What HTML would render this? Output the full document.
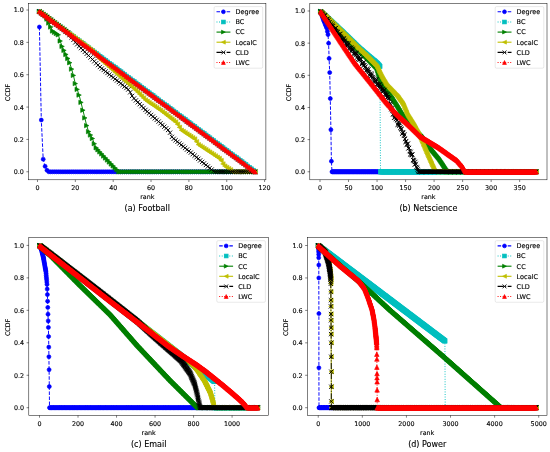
<!DOCTYPE html>
<html><head><meta charset="utf-8"><title>CCDF</title>
<style>
html,body{margin:0;padding:0;background:#fff;}
svg{display:block;}
text{font-family:"DejaVu Sans","Liberation Sans",sans-serif;fill:#000;stroke:#000;stroke-width:0.12px;}
.tk{font-size:6.37px;}
.lb{font-size:6.37px;}
.tt{font-size:8.0px;}
.lg{font-size:6.5px;}
</style></head><body>
<svg width="550" height="452" viewBox="0 0 550 452">
<rect width="550" height="452" fill="#fff"/>
<defs><marker id="mDegree" markerUnits="userSpaceOnUse" markerWidth="8" markerHeight="8" refX="0" refY="0" viewBox="-4 -4 8 8" orient="0" overflow="visible"><circle r="2.00" fill="#0000ff" stroke="#0000ff" stroke-width="0.64"/></marker><marker id="mBC" markerUnits="userSpaceOnUse" markerWidth="8" markerHeight="8" refX="0" refY="0" viewBox="-4 -4 8 8" orient="0" overflow="visible"><rect x="-2.15" y="-2.15" width="4.3" height="4.3" fill="#00bfbf" stroke="#00bfbf" stroke-width="0.64"/></marker><marker id="mCC" markerUnits="userSpaceOnUse" markerWidth="8" markerHeight="8" refX="0" refY="0" viewBox="-4 -4 8 8" orient="0" overflow="visible"><path d="M2.20,0L-2.20,-2.20L-2.20,2.20Z" fill="#008000" stroke="#008000" stroke-width="0.64" stroke-linejoin="miter"/></marker><marker id="mLocalC" markerUnits="userSpaceOnUse" markerWidth="8" markerHeight="8" refX="0" refY="0" viewBox="-4 -4 8 8" orient="0" overflow="visible"><path d="M-2.20,0L2.20,-2.20L2.20,2.20Z" fill="#bfbf00" stroke="#bfbf00" stroke-width="0.64" stroke-linejoin="miter"/></marker><marker id="mCLD" markerUnits="userSpaceOnUse" markerWidth="8" markerHeight="8" refX="0" refY="0" viewBox="-4 -4 8 8" orient="0" overflow="visible"><path d="M-2.15,-2.15L2.15,2.15M-2.15,2.15L2.15,-2.15" fill="none" stroke="#000000" stroke-width="0.9"/></marker><marker id="mLWC" markerUnits="userSpaceOnUse" markerWidth="8" markerHeight="8" refX="0" refY="0" viewBox="-4 -4 8 8" orient="0" overflow="visible"><path d="M0,-2.25L-2.25,2.25L2.25,2.25Z" fill="#ff0000" stroke="#ff0000" stroke-width="0.64" stroke-linejoin="miter"/></marker><marker id="lDegree" markerUnits="userSpaceOnUse" markerWidth="8" markerHeight="8" refX="0" refY="0" viewBox="-4 -4 8 8" orient="0" overflow="visible"><circle r="1.93" fill="#0000ff" stroke="#0000ff" stroke-width="0.64"/></marker><marker id="lBC" markerUnits="userSpaceOnUse" markerWidth="8" markerHeight="8" refX="0" refY="0" viewBox="-4 -4 8 8" orient="0" overflow="visible"><rect x="-1.93" y="-1.93" width="3.85" height="3.85" fill="#00bfbf" stroke="#00bfbf" stroke-width="0.64"/></marker><marker id="lCC" markerUnits="userSpaceOnUse" markerWidth="8" markerHeight="8" refX="0" refY="0" viewBox="-4 -4 8 8" orient="0" overflow="visible"><path d="M1.93,0L-1.93,-1.93L-1.93,1.93Z" fill="#008000" stroke="#008000" stroke-width="0.64" stroke-linejoin="miter"/></marker><marker id="lLocalC" markerUnits="userSpaceOnUse" markerWidth="8" markerHeight="8" refX="0" refY="0" viewBox="-4 -4 8 8" orient="0" overflow="visible"><path d="M-1.93,0L1.93,-1.93L1.93,1.93Z" fill="#bfbf00" stroke="#bfbf00" stroke-width="0.64" stroke-linejoin="miter"/></marker><marker id="lCLD" markerUnits="userSpaceOnUse" markerWidth="8" markerHeight="8" refX="0" refY="0" viewBox="-4 -4 8 8" orient="0" overflow="visible"><path d="M-1.93,-1.93L1.93,1.93M-1.93,1.93L1.93,-1.93" fill="none" stroke="#000000" stroke-width="0.9"/></marker><marker id="lLWC" markerUnits="userSpaceOnUse" markerWidth="8" markerHeight="8" refX="0" refY="0" viewBox="-4 -4 8 8" orient="0" overflow="visible"><path d="M0,-1.93L-1.93,1.93L1.93,1.93Z" fill="#ff0000" stroke="#ff0000" stroke-width="0.64" stroke-linejoin="miter"/></marker></defs>
<filter id="soft" filterUnits="userSpaceOnUse" x="0" y="0" width="550" height="452"><feGaussianBlur stdDeviation="0.32"/></filter>
<g filter="url(#soft)">
<rect width="550" height="452" fill="#fff"/>
<clipPath id="c28_3"><rect x="28.6" y="3.4" width="237.29999999999998" height="176.4"/></clipPath>
<g clip-path="url(#c28_3)">
<polyline points="39.4,27.0 41.3,120.0 43.2,159.2 45.1,166.3 47.0,170.3 48.8,171.8 50.7,171.8 52.6,171.8 54.5,171.8 56.4,171.8 58.3,171.8 60.2,171.8 62.1,171.8 64.0,171.8 65.9,171.8 67.8,171.8 69.7,171.8 71.6,171.8 73.4,171.8 75.3,171.8 77.2,171.8 79.1,171.8 81.0,171.8 82.9,171.8 84.8,171.8 86.7,171.8 88.6,171.8 90.5,171.8 92.4,171.8 94.3,171.8 96.2,171.8 98.0,171.8 99.9,171.8 101.8,171.8 103.7,171.8 105.6,171.8 107.5,171.8 109.4,171.8 111.3,171.8 113.2,171.8 115.1,171.8 117.0,171.8 118.9,171.8 120.8,171.8 122.6,171.8 124.5,171.8 126.4,171.8 128.3,171.8 130.2,171.8 132.1,171.8 134.0,171.8 135.9,171.8 137.8,171.8 139.7,171.8 141.6,171.8 143.5,171.8 145.4,171.8 147.2,171.8 149.1,171.8 151.0,171.8 152.9,171.8 154.8,171.8 156.7,171.8 158.6,171.8 160.5,171.8 162.4,171.8 164.3,171.8 166.2,171.8 168.1,171.8 170.0,171.8 171.9,171.8 173.7,171.8 175.6,171.8 177.5,171.8 179.4,171.8 181.3,171.8 183.2,171.8 185.1,171.8 187.0,171.8 188.9,171.8 190.8,171.8 192.7,171.8 194.6,171.8 196.5,171.8 198.3,171.8 200.2,171.8 202.1,171.8 204.0,171.8 205.9,171.8 207.8,171.8 209.7,171.8 211.6,171.8 213.5,171.8 215.4,171.8 217.3,171.8 219.2,171.8 221.1,171.8 222.9,171.8 224.8,171.8 226.7,171.8 228.6,171.8 230.5,171.8 232.4,171.8 234.3,171.8 236.2,171.8 238.1,171.8 240.0,171.8 241.9,171.8 243.8,171.8 245.7,171.8 247.5,171.8 249.4,171.8 251.3,171.8 253.2,171.8 255.1,171.8" fill="none" stroke="#0000ff" stroke-width="0.955" stroke-dasharray="3.53 1.53" stroke-linejoin="round" marker-start="url(#mDegree)" marker-mid="url(#mDegree)" marker-end="url(#mDegree)"/>
<polyline points="39.4,11.5 41.3,12.9 43.2,14.3 45.1,15.7 47.0,17.1 48.8,18.5 50.7,19.9 52.6,21.3 54.5,22.7 56.4,24.1 58.3,25.5 60.2,26.9 62.1,28.3 64.0,29.7 65.9,31.2 67.8,32.6 69.7,34.0 71.6,35.4 73.4,36.8 75.3,38.2 77.2,39.6 79.1,41.0 81.0,42.4 82.9,43.8 84.8,45.2 86.7,46.6 88.6,48.0 90.5,49.4 92.4,50.8 94.3,52.2 96.2,53.7 98.0,55.1 99.9,56.5 101.8,57.9 103.7,59.3 105.6,60.7 107.5,62.1 109.4,63.5 111.3,64.9 113.2,66.3 115.1,67.7 117.0,69.1 118.9,70.5 120.8,71.9 122.6,73.3 124.5,74.7 126.4,76.2 128.3,77.6 130.2,79.0 132.1,80.4 134.0,81.8 135.9,83.2 137.8,84.6 139.7,86.0 141.6,87.4 143.5,88.8 145.4,90.2 147.2,91.6 149.1,93.0 151.0,94.4 152.9,95.8 154.8,97.2 156.7,98.7 158.6,100.1 160.5,101.5 162.4,102.9 164.3,104.3 166.2,105.7 168.1,107.1 170.0,108.5 171.9,109.9 173.7,111.3 175.6,112.7 177.5,114.1 179.4,115.5 181.3,116.9 183.2,118.3 185.1,119.7 187.0,121.2 188.9,122.6 190.8,124.0 192.7,125.4 194.6,126.8 196.5,128.2 198.3,129.6 200.2,131.0 202.1,132.4 204.0,133.8 205.9,135.2 207.8,136.6 209.7,138.0 211.6,139.4 213.5,140.8 215.4,142.3 217.3,143.7 219.2,145.1 221.1,146.5 222.9,147.9 224.8,149.3 226.7,150.7 228.6,152.1 230.5,153.5 232.4,154.9 234.3,156.3 236.2,157.7 238.1,159.1 240.0,160.5 241.9,161.9 243.8,163.3 245.7,164.8 247.5,166.2 249.4,167.6 251.3,169.0 253.2,170.4 255.1,171.8" fill="none" stroke="#00bfbf" stroke-width="0.955" stroke-dasharray="0.955 1.576" stroke-linejoin="round" marker-start="url(#mBC)" marker-mid="url(#mBC)" marker-end="url(#mBC)"/>
<polyline points="39.4,11.5 41.3,12.9 43.2,14.3 45.1,15.7 47.0,19.1 48.8,23.0 50.7,27.0 52.6,31.0 54.5,32.3 56.4,33.5 58.3,34.8 60.2,41.0 62.1,46.4 64.0,50.4 65.9,54.5 67.8,58.5 69.7,62.7 71.6,69.1 73.4,75.4 75.3,83.6 77.2,89.4 79.1,95.1 81.0,102.4 82.9,110.2 84.8,117.9 86.7,125.6 88.6,131.6 90.5,135.0 92.4,138.5 94.3,143.7 96.2,147.8 98.0,149.8 99.9,151.9 101.8,153.9 103.7,156.0 105.6,158.0 107.5,160.0 109.4,162.0 111.3,164.0 113.2,165.9 115.1,167.9 117.0,169.8 118.9,171.8 120.8,171.8 122.6,171.8 124.5,171.8 126.4,171.8 128.3,171.8 130.2,171.8 132.1,171.8 134.0,171.8 135.9,171.8 137.8,171.8 139.7,171.8 141.6,171.8 143.5,171.8 145.4,171.8 147.2,171.8 149.1,171.8 151.0,171.8 152.9,171.8 154.8,171.8 156.7,171.8 158.6,171.8 160.5,171.8 162.4,171.8 164.3,171.8 166.2,171.8 168.1,171.8 170.0,171.8 171.9,171.8 173.7,171.8 175.6,171.8 177.5,171.8 179.4,171.8 181.3,171.8 183.2,171.8 185.1,171.8 187.0,171.8 188.9,171.8 190.8,171.8 192.7,171.8 194.6,171.8 196.5,171.8 198.3,171.8 200.2,171.8 202.1,171.8 204.0,171.8 205.9,171.8 207.8,171.8 209.7,171.8 211.6,171.8 213.5,171.8 215.4,171.8 217.3,171.8 219.2,171.8 221.1,171.8 222.9,171.8 224.8,171.8 226.7,171.8 228.6,171.8 230.5,171.8 232.4,171.8 234.3,171.8 236.2,171.8 238.1,171.8 240.0,171.8 241.9,171.8 243.8,171.8 245.7,171.8 247.5,171.8 249.4,171.8 251.3,171.8 253.2,171.8 255.1,171.8" fill="none" stroke="#008000" stroke-width="0.955" stroke-linejoin="round" marker-start="url(#mCC)" marker-mid="url(#mCC)" marker-end="url(#mCC)"/>
<polyline points="39.4,11.5 41.3,12.9 43.2,14.3 45.1,15.7 47.0,17.1 48.8,18.5 50.7,19.9 52.6,21.3 54.5,22.7 56.4,24.2 58.3,25.6 60.2,27.0 62.1,28.4 64.0,29.8 65.9,31.2 67.8,32.6 69.7,34.0 71.6,35.4 73.4,36.8 75.3,38.3 77.2,39.7 79.1,41.1 81.0,42.5 82.9,43.9 84.8,45.3 86.7,46.7 88.6,48.1 90.5,49.5 92.4,50.9 94.3,52.9 96.2,54.9 98.0,56.9 99.9,58.9 101.8,60.5 103.7,62.2 105.6,63.9 107.5,65.6 109.4,67.2 111.3,68.9 113.2,70.6 115.1,72.2 117.0,73.9 118.9,75.5 120.8,77.2 122.6,78.8 124.5,80.5 126.4,82.1 128.3,83.8 130.2,85.4 132.1,87.1 134.0,88.7 135.9,90.4 137.8,92.2 139.7,94.2 141.6,96.1 143.5,98.0 145.4,99.9 147.2,101.3 149.1,102.6 151.0,103.9 152.9,105.1 154.8,106.4 156.7,107.7 158.6,109.0 160.5,110.3 162.4,111.8 164.3,113.3 166.2,114.7 168.1,116.2 170.0,117.7 171.9,119.1 173.7,120.6 175.6,122.0 177.5,124.3 179.4,127.3 181.3,130.2 183.2,131.4 185.1,132.7 187.0,134.0 188.9,135.2 190.8,136.5 192.7,137.8 194.6,139.0 196.5,141.7 198.3,144.6 200.2,145.9 202.1,147.1 204.0,148.4 205.9,149.6 207.8,150.9 209.7,152.1 211.6,153.4 213.5,154.6 215.4,155.9 217.3,157.2 219.2,158.4 221.1,160.5 222.9,163.9 224.8,166.1 226.7,167.4 228.6,168.6 230.5,169.8 232.4,171.8 234.3,171.8 236.2,171.8 238.1,171.8 240.0,171.8 241.9,171.8 243.8,171.8 245.7,171.8 247.5,171.8 249.4,171.8 251.3,171.8 253.2,171.8 255.1,171.8" fill="none" stroke="#bfbf00" stroke-width="0.955" stroke-linejoin="round" marker-start="url(#mLocalC)" marker-mid="url(#mLocalC)" marker-end="url(#mLocalC)"/>
<polyline points="39.4,11.5 41.3,12.9 43.2,14.3 45.1,15.7 47.0,17.1 48.8,18.5 50.7,19.9 52.6,21.4 54.5,22.8 56.4,24.2 58.3,25.6 60.2,27.0 62.1,28.4 64.0,29.8 65.9,31.2 67.8,32.7 69.7,35.1 71.6,37.5 73.4,39.9 75.3,42.4 77.2,44.3 79.1,46.2 81.0,48.1 82.9,50.0 84.8,51.9 86.7,53.8 88.6,55.6 90.5,57.5 92.4,59.4 94.3,61.3 96.2,63.2 98.0,65.1 99.9,67.0 101.8,68.5 103.7,70.0 105.6,71.5 107.5,73.0 109.4,74.5 111.3,76.0 113.2,77.5 115.1,79.0 117.0,80.5 118.9,82.0 120.8,83.5 122.6,85.0 124.5,86.5 126.4,88.0 128.3,89.5 130.2,92.3 132.1,95.9 134.0,98.5 135.9,100.4 137.8,102.3 139.7,104.2 141.6,106.1 143.5,108.0 145.4,109.9 147.2,111.6 149.1,113.2 151.0,114.9 152.9,116.6 154.8,118.3 156.7,119.9 158.6,121.6 160.5,123.3 162.4,125.0 164.3,126.7 166.2,128.3 168.1,130.0 170.0,132.7 171.9,136.9 173.7,138.8 175.6,140.3 177.5,141.8 179.4,143.4 181.3,144.9 183.2,146.5 185.1,148.0 187.0,149.6 188.9,151.1 190.8,152.6 192.7,154.2 194.6,155.7 196.5,157.3 198.3,158.8 200.2,160.4 202.1,161.9 204.0,163.4 205.9,165.0 207.8,166.5 209.7,168.1 211.6,169.6 213.5,171.2 215.4,171.8 217.3,171.8 219.2,171.8 221.1,171.8 222.9,171.8 224.8,171.8 226.7,171.8 228.6,171.8 230.5,171.8 232.4,171.8 234.3,171.8 236.2,171.8 238.1,171.8 240.0,171.8 241.9,171.8 243.8,171.8 245.7,171.8 247.5,171.8 249.4,171.8 251.3,171.8 253.2,171.8 255.1,171.8" fill="none" stroke="#000000" stroke-width="0.955" stroke-dasharray="6.11 1.53 0.955 1.53" stroke-linejoin="round" marker-start="url(#mCLD)" marker-mid="url(#mCLD)" marker-end="url(#mCLD)"/>
<polyline points="39.4,11.5 41.3,12.9 43.2,14.3 45.1,15.7 47.0,17.1 48.8,18.5 50.7,19.9 52.6,21.3 54.5,22.7 56.4,24.1 58.3,25.5 60.2,26.9 62.1,28.3 64.0,29.7 65.9,31.2 67.8,32.6 69.7,34.0 71.6,35.4 73.4,36.8 75.3,38.2 77.2,39.6 79.1,41.0 81.0,42.4 82.9,43.8 84.8,45.2 86.7,46.6 88.6,48.0 90.5,49.4 92.4,50.8 94.3,52.2 96.2,53.7 98.0,55.1 99.9,56.5 101.8,57.9 103.7,59.3 105.6,60.7 107.5,62.1 109.4,63.5 111.3,64.9 113.2,66.3 115.1,67.7 117.0,69.1 118.9,70.5 120.8,71.9 122.6,73.3 124.5,74.7 126.4,76.2 128.3,77.6 130.2,79.0 132.1,80.4 134.0,81.8 135.9,83.2 137.8,84.6 139.7,86.0 141.6,87.4 143.5,88.8 145.4,90.2 147.2,91.6 149.1,93.0 151.0,94.4 152.9,95.8 154.8,97.2 156.7,98.7 158.6,100.1 160.5,101.5 162.4,102.9 164.3,104.3 166.2,105.7 168.1,107.1 170.0,108.5 171.9,109.9 173.7,111.3 175.6,112.7 177.5,114.1 179.4,115.5 181.3,116.9 183.2,118.3 185.1,119.7 187.0,121.2 188.9,122.6 190.8,124.0 192.7,125.4 194.6,126.8 196.5,128.2 198.3,129.6 200.2,131.0 202.1,132.4 204.0,133.8 205.9,135.2 207.8,136.6 209.7,138.0 211.6,139.4 213.5,140.8 215.4,142.3 217.3,143.7 219.2,145.1 221.1,146.5 222.9,147.9 224.8,149.3 226.7,150.7 228.6,152.1 230.5,153.5 232.4,154.9 234.3,156.3 236.2,157.7 238.1,159.1 240.0,160.5 241.9,161.9 243.8,163.3 245.7,164.8 247.5,166.2 249.4,167.6 251.3,169.0 253.2,170.4 255.1,171.8" fill="none" stroke="#ff0000" stroke-width="0.955" stroke-dasharray="0.955 1.576" stroke-linejoin="round" marker-start="url(#mLWC)" marker-mid="url(#mLWC)" marker-end="url(#mLWC)"/>
</g>
<rect x="28.6" y="3.4" width="237.29999999999998" height="176.4" fill="none" stroke="#000" stroke-width="0.5"/>
<path d="M37.49,179.8v2.23" stroke="#000" stroke-width="0.5"/>
<text x="37.49" y="189.93" text-anchor="middle" class="tk">0</text>
<path d="M75.34,179.8v2.23" stroke="#000" stroke-width="0.5"/>
<text x="75.34" y="189.93" text-anchor="middle" class="tk">20</text>
<path d="M113.19,179.8v2.23" stroke="#000" stroke-width="0.5"/>
<text x="113.19" y="189.93" text-anchor="middle" class="tk">40</text>
<path d="M151.03,179.8v2.23" stroke="#000" stroke-width="0.5"/>
<text x="151.03" y="189.93" text-anchor="middle" class="tk">60</text>
<path d="M188.88,179.8v2.23" stroke="#000" stroke-width="0.5"/>
<text x="188.88" y="189.93" text-anchor="middle" class="tk">80</text>
<path d="M226.73,179.8v2.23" stroke="#000" stroke-width="0.5"/>
<text x="226.73" y="189.93" text-anchor="middle" class="tk">100</text>
<path d="M264.58,179.8v2.23" stroke="#000" stroke-width="0.5"/>
<text x="264.58" y="189.93" text-anchor="middle" class="tk">120</text>
<path d="M28.6,171.78h-2.23" stroke="#000" stroke-width="0.5"/>
<text x="23.87" y="174.23" text-anchor="end" class="tk">0.0</text>
<path d="M28.6,139.43h-2.23" stroke="#000" stroke-width="0.5"/>
<text x="23.87" y="141.88" text-anchor="end" class="tk">0.2</text>
<path d="M28.6,107.07h-2.23" stroke="#000" stroke-width="0.5"/>
<text x="23.87" y="109.52" text-anchor="end" class="tk">0.4</text>
<path d="M28.6,74.72h-2.23" stroke="#000" stroke-width="0.5"/>
<text x="23.87" y="77.17" text-anchor="end" class="tk">0.6</text>
<path d="M28.6,42.37h-2.23" stroke="#000" stroke-width="0.5"/>
<text x="23.87" y="44.82" text-anchor="end" class="tk">0.8</text>
<path d="M28.6,10.01h-2.23" stroke="#000" stroke-width="0.5"/>
<text x="23.87" y="12.46" text-anchor="end" class="tk">1.0</text>
<text x="147.25" y="198.90" text-anchor="middle" class="lb">rank</text>
<text transform="translate(9.50,92.50) rotate(-90)" text-anchor="middle" class="lb">CCDF</text>
<text x="147.25" y="210.90" text-anchor="middle" class="tt">(a) Football</text>
<rect x="214.1" y="6.6" width="48.599999999999994" height="61.6" rx="1.3" fill="#fff" fill-opacity="0.8" stroke="#ccc" stroke-opacity="0.8" stroke-width="0.55"/>
<polyline points="216.5,11.8 223.4,11.8 230.4,11.8" fill="none" stroke="#0000ff" stroke-width="1.1" stroke-dasharray="3.53 1.53" marker-mid="url(#lDegree)"/>
<text x="235.5" y="14.1" class="lg">Degree</text>
<polyline points="216.5,22.0 223.4,22.0 230.4,22.0" fill="none" stroke="#00bfbf" stroke-width="1.1" stroke-dasharray="0.955 1.576" marker-mid="url(#lBC)"/>
<text x="235.5" y="24.3" class="lg">BC</text>
<polyline points="216.5,32.1 223.4,32.1 230.4,32.1" fill="none" stroke="#008000" stroke-width="1.1" marker-mid="url(#lCC)"/>
<text x="235.5" y="34.4" class="lg">CC</text>
<polyline points="216.5,42.2 223.4,42.2 230.4,42.2" fill="none" stroke="#bfbf00" stroke-width="1.1" marker-mid="url(#lLocalC)"/>
<text x="235.5" y="44.5" class="lg">LocalC</text>
<polyline points="216.5,52.4 223.4,52.4 230.4,52.4" fill="none" stroke="#000000" stroke-width="1.1" stroke-dasharray="6.11 1.53 0.955 1.53" marker-mid="url(#lCLD)"/>
<text x="235.5" y="54.7" class="lg">CLD</text>
<polyline points="216.5,62.5 223.4,62.5 230.4,62.5" fill="none" stroke="#ff0000" stroke-width="1.1" stroke-dasharray="0.955 1.576" marker-mid="url(#lLWC)"/>
<text x="235.5" y="64.8" class="lg">LWC</text>
<clipPath id="c309_3"><rect x="309.8" y="3.4" width="237.2" height="176.4"/></clipPath>
<g clip-path="url(#c309_3)">
<polyline points="320.6,11.5 321.2,13.1 321.7,14.8 322.3,16.5 322.9,18.2 323.4,19.8 324.0,21.2 324.6,22.6 325.1,24.0 325.7,25.4 326.3,26.8 326.9,28.2 327.4,31.4 328.0,34.6 328.6,43.2 329.1,58.4 329.7,72.6 330.3,98.6 330.9,129.7 331.4,161.2 332.0,171.8 332.6,171.8 333.1,171.8 333.7,171.8 334.3,171.8 334.8,171.8 335.4,171.8 336.0,171.8 336.6,171.8 337.1,171.8 337.7,171.8 338.3,171.8 338.8,171.8 339.4,171.8 340.0,171.8 340.5,171.8 341.1,171.8 341.7,171.8 342.3,171.8 342.8,171.8 343.4,171.8 344.0,171.8 344.5,171.8 345.1,171.8 345.7,171.8 346.3,171.8 346.8,171.8 347.4,171.8 348.0,171.8 348.5,171.8 349.1,171.8 349.7,171.8 350.2,171.8 350.8,171.8 351.4,171.8 352.0,171.8 352.5,171.8 353.1,171.8 353.7,171.8 354.2,171.8 354.8,171.8 355.4,171.8 356.0,171.8 356.5,171.8 357.1,171.8 357.7,171.8 358.2,171.8 358.8,171.8 359.4,171.8 359.9,171.8 360.5,171.8 361.1,171.8 361.7,171.8 362.2,171.8 362.8,171.8 363.4,171.8 363.9,171.8 364.5,171.8 365.1,171.8 365.6,171.8 366.2,171.8 366.8,171.8 367.4,171.8 367.9,171.8 368.5,171.8 369.1,171.8 369.6,171.8 370.2,171.8 370.8,171.8 371.4,171.8 371.9,171.8 372.5,171.8 373.1,171.8 373.6,171.8 374.2,171.8 374.8,171.8 375.3,171.8 375.9,171.8 376.5,171.8 377.1,171.8 377.6,171.8 378.2,171.8 378.8,171.8 379.3,171.8 379.9,171.8 380.5,171.8 381.1,171.8 381.6,171.8 382.2,171.8 382.8,171.8 383.3,171.8 383.9,171.8 384.5,171.8 385.0,171.8 385.6,171.8 386.2,171.8 386.8,171.8 387.3,171.8 387.9,171.8 388.5,171.8 389.0,171.8 389.6,171.8 390.2,171.8 390.7,171.8 391.3,171.8 391.9,171.8 392.5,171.8 393.0,171.8 393.6,171.8 394.2,171.8 394.7,171.8 395.3,171.8 395.9,171.8 396.5,171.8 397.0,171.8 397.6,171.8 398.2,171.8 398.7,171.8 399.3,171.8 399.9,171.8 400.4,171.8 401.0,171.8 401.6,171.8 402.2,171.8 402.7,171.8 403.3,171.8 403.9,171.8 404.4,171.8 405.0,171.8 405.6,171.8 406.2,171.8 406.7,171.8 407.3,171.8 407.9,171.8 408.4,171.8 409.0,171.8 409.6,171.8 410.1,171.8 410.7,171.8 411.3,171.8 411.9,171.8 412.4,171.8 413.0,171.8 413.6,171.8 414.1,171.8 414.7,171.8 415.3,171.8 415.8,171.8 416.4,171.8 417.0,171.8 417.6,171.8 418.1,171.8 418.7,171.8 419.3,171.8 419.8,171.8 420.4,171.8 421.0,171.8 421.6,171.8 422.1,171.8 422.7,171.8 423.3,171.8 423.8,171.8 424.4,171.8 425.0,171.8 425.5,171.8 426.1,171.8 426.7,171.8 427.3,171.8 427.8,171.8 428.4,171.8 429.0,171.8 429.5,171.8 430.1,171.8 430.7,171.8 431.3,171.8 431.8,171.8 432.4,171.8 433.0,171.8 433.5,171.8 434.1,171.8 434.7,171.8 435.2,171.8 435.8,171.8 436.4,171.8 437.0,171.8 437.5,171.8 438.1,171.8 438.7,171.8 439.2,171.8 439.8,171.8 440.4,171.8 441.0,171.8 441.5,171.8 442.1,171.8 442.7,171.8 443.2,171.8 443.8,171.8 444.4,171.8 444.9,171.8 445.5,171.8 446.1,171.8 446.7,171.8 447.2,171.8 447.8,171.8 448.4,171.8 448.9,171.8 449.5,171.8 450.1,171.8 450.6,171.8 451.2,171.8 451.8,171.8 452.4,171.8 452.9,171.8 453.5,171.8 454.1,171.8 454.6,171.8 455.2,171.8 455.8,171.8 456.4,171.8 456.9,171.8 457.5,171.8 458.1,171.8 458.6,171.8 459.2,171.8 459.8,171.8 460.3,171.8 460.9,171.8 461.5,171.8 462.1,171.8 462.6,171.8 463.2,171.8 463.8,171.8 464.3,171.8 464.9,171.8 465.5,171.8 466.1,171.8 466.6,171.8 467.2,171.8 467.8,171.8 468.3,171.8 468.9,171.8 469.5,171.8 470.0,171.8 470.6,171.8 471.2,171.8 471.8,171.8 472.3,171.8 472.9,171.8 473.5,171.8 474.0,171.8 474.6,171.8 475.2,171.8 475.7,171.8 476.3,171.8 476.9,171.8 477.5,171.8 478.0,171.8 478.6,171.8 479.2,171.8 479.7,171.8 480.3,171.8 480.9,171.8 481.5,171.8 482.0,171.8 482.6,171.8 483.2,171.8 483.7,171.8 484.3,171.8 484.9,171.8 485.4,171.8 486.0,171.8 486.6,171.8 487.2,171.8 487.7,171.8 488.3,171.8 488.9,171.8 489.4,171.8 490.0,171.8 490.6,171.8 491.2,171.8 491.7,171.8 492.3,171.8 492.9,171.8 493.4,171.8 494.0,171.8 494.6,171.8 495.1,171.8 495.7,171.8 496.3,171.8 496.9,171.8 497.4,171.8 498.0,171.8 498.6,171.8 499.1,171.8 499.7,171.8 500.3,171.8 500.8,171.8 501.4,171.8 502.0,171.8 502.6,171.8 503.1,171.8 503.7,171.8 504.3,171.8 504.8,171.8 505.4,171.8 506.0,171.8 506.6,171.8 507.1,171.8 507.7,171.8 508.3,171.8 508.8,171.8 509.4,171.8 510.0,171.8 510.5,171.8 511.1,171.8 511.7,171.8 512.3,171.8 512.8,171.8 513.4,171.8 514.0,171.8 514.5,171.8 515.1,171.8 515.7,171.8 516.3,171.8 516.8,171.8 517.4,171.8 518.0,171.8 518.5,171.8 519.1,171.8 519.7,171.8 520.2,171.8 520.8,171.8 521.4,171.8 522.0,171.8 522.5,171.8 523.1,171.8 523.7,171.8 524.2,171.8 524.8,171.8 525.4,171.8 525.9,171.8 526.5,171.8 527.1,171.8 527.7,171.8 528.2,171.8 528.8,171.8 529.4,171.8 529.9,171.8 530.5,171.8 531.1,171.8 531.7,171.8 532.2,171.8 532.8,171.8 533.4,171.8 533.9,171.8 534.5,171.8 535.1,171.8 535.6,171.8 536.2,171.8" fill="none" stroke="#0000ff" stroke-width="0.955" stroke-dasharray="3.53 1.53" stroke-linejoin="round" marker-start="url(#mDegree)" marker-mid="url(#mDegree)" marker-end="url(#mDegree)"/>
<polyline points="320.6,11.5 321.2,12.0 321.7,12.5 322.3,13.1 322.9,13.6 323.4,14.1 324.0,14.7 324.6,15.2 325.1,15.7 325.7,16.3 326.3,16.8 326.9,17.3 327.4,17.9 328.0,18.4 328.6,18.9 329.1,19.4 329.7,20.0 330.3,20.5 330.9,21.0 331.4,21.6 332.0,22.1 332.6,22.6 333.1,23.2 333.7,23.7 334.3,24.2 334.8,24.8 335.4,25.3 336.0,25.8 336.6,26.4 337.1,26.9 337.7,27.4 338.3,28.0 338.8,28.5 339.4,29.0 340.0,29.5 340.5,30.1 341.1,30.6 341.7,31.2 342.3,31.7 342.8,32.3 343.4,32.8 344.0,33.4 344.5,33.9 345.1,34.5 345.7,35.0 346.3,35.6 346.8,36.1 347.4,36.7 348.0,37.2 348.5,37.8 349.1,38.3 349.7,38.9 350.2,39.4 350.8,40.0 351.4,40.6 352.0,41.1 352.5,41.7 353.1,42.2 353.7,42.8 354.2,43.3 354.8,43.9 355.4,44.4 356.0,45.0 356.5,45.5 357.1,46.1 357.7,46.6 358.2,47.2 358.8,47.7 359.4,48.3 359.9,48.8 360.5,49.3 361.1,49.8 361.7,50.2 362.2,50.7 362.8,51.2 363.4,51.7 363.9,52.2 364.5,52.6 365.1,53.1 365.6,53.6 366.2,54.1 366.8,54.6 367.4,55.1 367.9,55.5 368.5,56.0 369.1,56.5 369.6,57.0 370.2,57.5 370.8,58.0 371.4,58.4 371.9,58.9 372.5,59.4 373.1,59.9 373.6,60.4 374.2,60.8 374.8,61.3 375.3,61.8 375.9,62.3 376.5,62.8 377.1,63.3 377.6,63.7 378.2,64.4 378.8,65.1 379.3,65.8 379.9,66.5 380.5,171.8 381.1,171.8 381.6,171.8 382.2,171.8 382.8,171.8 383.3,171.8 383.9,171.8 384.5,171.8 385.0,171.8 385.6,171.8 386.2,171.8 386.8,171.8 387.3,171.8 387.9,171.8 388.5,171.8 389.0,171.8 389.6,171.8 390.2,171.8 390.7,171.8 391.3,171.8 391.9,171.8 392.5,171.8 393.0,171.8 393.6,171.8 394.2,171.8 394.7,171.8 395.3,171.8 395.9,171.8 396.5,171.8 397.0,171.8 397.6,171.8 398.2,171.8 398.7,171.8 399.3,171.8 399.9,171.8 400.4,171.8 401.0,171.8 401.6,171.8 402.2,171.8 402.7,171.8 403.3,171.8 403.9,171.8 404.4,171.8 405.0,171.8 405.6,171.8 406.2,171.8 406.7,171.8 407.3,171.8 407.9,171.8 408.4,171.8 409.0,171.8 409.6,171.8 410.1,171.8 410.7,171.8 411.3,171.8 411.9,171.8 412.4,171.8 413.0,171.8 413.6,171.8 414.1,171.8 414.7,171.8 415.3,171.8 415.8,171.8 416.4,171.8 417.0,171.8 417.6,171.8 418.1,171.8 418.7,171.8 419.3,171.8 419.8,171.8 420.4,171.8 421.0,171.8 421.6,171.8 422.1,171.8 422.7,171.8 423.3,171.8 423.8,171.8 424.4,171.8 425.0,171.8 425.5,171.8 426.1,171.8 426.7,171.8 427.3,171.8 427.8,171.8 428.4,171.8 429.0,171.8 429.5,171.8 430.1,171.8 430.7,171.8 431.3,171.8 431.8,171.8 432.4,171.8 433.0,171.8 433.5,171.8 434.1,171.8 434.7,171.8 435.2,171.8 435.8,171.8 436.4,171.8 437.0,171.8 437.5,171.8 438.1,171.8 438.7,171.8 439.2,171.8 439.8,171.8 440.4,171.8 441.0,171.8 441.5,171.8 442.1,171.8 442.7,171.8 443.2,171.8 443.8,171.8 444.4,171.8 444.9,171.8 445.5,171.8 446.1,171.8 446.7,171.8 447.2,171.8 447.8,171.8 448.4,171.8 448.9,171.8 449.5,171.8 450.1,171.8 450.6,171.8 451.2,171.8 451.8,171.8 452.4,171.8 452.9,171.8 453.5,171.8 454.1,171.8 454.6,171.8 455.2,171.8 455.8,171.8 456.4,171.8 456.9,171.8 457.5,171.8 458.1,171.8 458.6,171.8 459.2,171.8 459.8,171.8 460.3,171.8 460.9,171.8 461.5,171.8 462.1,171.8 462.6,171.8 463.2,171.8 463.8,171.8 464.3,171.8 464.9,171.8 465.5,171.8 466.1,171.8 466.6,171.8 467.2,171.8 467.8,171.8 468.3,171.8 468.9,171.8 469.5,171.8 470.0,171.8 470.6,171.8 471.2,171.8 471.8,171.8 472.3,171.8 472.9,171.8 473.5,171.8 474.0,171.8 474.6,171.8 475.2,171.8 475.7,171.8 476.3,171.8 476.9,171.8 477.5,171.8 478.0,171.8 478.6,171.8 479.2,171.8 479.7,171.8 480.3,171.8 480.9,171.8 481.5,171.8 482.0,171.8 482.6,171.8 483.2,171.8 483.7,171.8 484.3,171.8 484.9,171.8 485.4,171.8 486.0,171.8 486.6,171.8 487.2,171.8 487.7,171.8 488.3,171.8 488.9,171.8 489.4,171.8 490.0,171.8 490.6,171.8 491.2,171.8 491.7,171.8 492.3,171.8 492.9,171.8 493.4,171.8 494.0,171.8 494.6,171.8 495.1,171.8 495.7,171.8 496.3,171.8 496.9,171.8 497.4,171.8 498.0,171.8 498.6,171.8 499.1,171.8 499.7,171.8 500.3,171.8 500.8,171.8 501.4,171.8 502.0,171.8 502.6,171.8 503.1,171.8 503.7,171.8 504.3,171.8 504.8,171.8 505.4,171.8 506.0,171.8 506.6,171.8 507.1,171.8 507.7,171.8 508.3,171.8 508.8,171.8 509.4,171.8 510.0,171.8 510.5,171.8 511.1,171.8 511.7,171.8 512.3,171.8 512.8,171.8 513.4,171.8 514.0,171.8 514.5,171.8 515.1,171.8 515.7,171.8 516.3,171.8 516.8,171.8 517.4,171.8 518.0,171.8 518.5,171.8 519.1,171.8 519.7,171.8 520.2,171.8 520.8,171.8 521.4,171.8 522.0,171.8 522.5,171.8 523.1,171.8 523.7,171.8 524.2,171.8 524.8,171.8 525.4,171.8 525.9,171.8 526.5,171.8 527.1,171.8 527.7,171.8 528.2,171.8 528.8,171.8 529.4,171.8 529.9,171.8 530.5,171.8 531.1,171.8 531.7,171.8 532.2,171.8 532.8,171.8 533.4,171.8 533.9,171.8 534.5,171.8 535.1,171.8 535.6,171.8 536.2,171.8" fill="none" stroke="#00bfbf" stroke-width="0.955" stroke-dasharray="0.955 1.576" stroke-linejoin="round" marker-start="url(#mBC)" marker-mid="url(#mBC)" marker-end="url(#mBC)"/>
<polyline points="320.6,11.5 321.2,12.1 321.7,12.6 322.3,13.2 322.9,13.8 323.4,14.4 324.0,15.0 324.6,15.5 325.1,16.1 325.7,16.7 326.3,17.3 326.9,17.9 327.4,18.4 328.0,19.0 328.6,19.6 329.1,20.2 329.7,20.8 330.3,21.3 330.9,21.9 331.4,22.5 332.0,23.1 332.6,23.7 333.1,24.2 333.7,24.8 334.3,25.4 334.8,26.0 335.4,26.6 336.0,27.1 336.6,27.7 337.1,28.3 337.7,28.9 338.3,29.5 338.8,30.0 339.4,30.6 340.0,31.2 340.5,31.8 341.1,32.4 341.7,32.9 342.3,33.5 342.8,34.1 343.4,34.6 344.0,35.2 344.5,35.8 345.1,36.3 345.7,36.9 346.3,37.5 346.8,38.0 347.4,38.6 348.0,39.2 348.5,39.7 349.1,40.3 349.7,40.9 350.2,41.4 350.8,42.0 351.4,42.6 352.0,43.2 352.5,43.7 353.1,44.3 353.7,44.9 354.2,45.4 354.8,46.0 355.4,46.6 356.0,47.1 356.5,47.7 357.1,48.3 357.7,48.8 358.2,49.4 358.8,50.0 359.4,50.5 359.9,51.1 360.5,51.6 361.1,52.1 361.7,52.6 362.2,53.1 362.8,53.6 363.4,54.1 363.9,54.6 364.5,55.2 365.1,55.7 365.6,56.2 366.2,56.8 366.8,57.3 367.4,57.9 367.9,58.5 368.5,59.1 369.1,59.7 369.6,60.3 370.2,60.9 370.8,61.4 371.4,62.0 371.9,62.6 372.5,63.2 373.1,63.8 373.6,64.4 374.2,65.0 374.8,65.5 375.3,66.1 375.9,66.7 376.5,67.3 377.1,68.5 377.6,70.4 378.2,72.2 378.8,74.0 379.3,75.9 379.9,77.7 380.5,79.6 381.1,81.4 381.6,82.2 382.2,83.0 382.8,83.8 383.3,84.6 383.9,85.4 384.5,86.2 385.0,87.0 385.6,87.9 386.2,88.7 386.8,89.5 387.3,90.3 387.9,91.1 388.5,91.9 389.0,92.7 389.6,93.5 390.2,94.3 390.7,95.1 391.3,95.9 391.9,96.7 392.5,97.6 393.0,98.5 393.6,99.4 394.2,100.3 394.7,101.2 395.3,102.1 395.9,103.0 396.5,103.9 397.0,104.8 397.6,105.7 398.2,106.6 398.7,107.6 399.3,108.5 399.9,109.4 400.4,110.4 401.0,111.3 401.6,112.3 402.2,113.2 402.7,114.1 403.3,115.0 403.9,115.8 404.4,116.6 405.0,117.4 405.6,118.2 406.2,119.0 406.7,119.8 407.3,120.7 407.9,121.5 408.4,122.3 409.0,122.9 409.6,123.4 410.1,124.0 410.7,124.6 411.3,125.1 411.9,125.7 412.4,126.3 413.0,126.8 413.6,127.4 414.1,128.0 414.7,128.5 415.3,129.1 415.8,129.7 416.4,130.3 417.0,130.8 417.6,131.4 418.1,132.0 418.7,132.5 419.3,133.1 419.8,133.7 420.4,134.2 421.0,134.8 421.6,135.5 422.1,136.3 422.7,137.1 423.3,137.9 423.8,138.7 424.4,139.5 425.0,140.3 425.5,141.1 426.1,141.9 426.7,142.7 427.3,143.5 427.8,144.3 428.4,145.1 429.0,145.9 429.5,146.7 430.1,147.5 430.7,148.2 431.3,148.9 431.8,149.6 432.4,150.3 433.0,151.0 433.5,151.7 434.1,152.4 434.7,153.1 435.2,153.8 435.8,154.4 436.4,155.1 437.0,155.8 437.5,156.5 438.1,157.2 438.7,157.9 439.2,158.6 439.8,159.5 440.4,160.3 441.0,161.2 441.5,162.0 442.1,162.9 442.7,163.8 443.2,164.6 443.8,165.5 444.4,166.3 444.9,167.2 445.5,168.1 446.1,168.9 446.7,170.1 447.2,171.8 447.8,171.8 448.4,171.8 448.9,171.8 449.5,171.8 450.1,171.8 450.6,171.8 451.2,171.8 451.8,171.8 452.4,171.8 452.9,171.8 453.5,171.8 454.1,171.8 454.6,171.8 455.2,171.8 455.8,171.8 456.4,171.8 456.9,171.8 457.5,171.8 458.1,171.8 458.6,171.8 459.2,171.8 459.8,171.8 460.3,171.8 460.9,171.8 461.5,171.8 462.1,171.8 462.6,171.8 463.2,171.8 463.8,171.8 464.3,171.8 464.9,171.8 465.5,171.8 466.1,171.8 466.6,171.8 467.2,171.8 467.8,171.8 468.3,171.8 468.9,171.8 469.5,171.8 470.0,171.8 470.6,171.8 471.2,171.8 471.8,171.8 472.3,171.8 472.9,171.8 473.5,171.8 474.0,171.8 474.6,171.8 475.2,171.8 475.7,171.8 476.3,171.8 476.9,171.8 477.5,171.8 478.0,171.8 478.6,171.8 479.2,171.8 479.7,171.8 480.3,171.8 480.9,171.8 481.5,171.8 482.0,171.8 482.6,171.8 483.2,171.8 483.7,171.8 484.3,171.8 484.9,171.8 485.4,171.8 486.0,171.8 486.6,171.8 487.2,171.8 487.7,171.8 488.3,171.8 488.9,171.8 489.4,171.8 490.0,171.8 490.6,171.8 491.2,171.8 491.7,171.8 492.3,171.8 492.9,171.8 493.4,171.8 494.0,171.8 494.6,171.8 495.1,171.8 495.7,171.8 496.3,171.8 496.9,171.8 497.4,171.8 498.0,171.8 498.6,171.8 499.1,171.8 499.7,171.8 500.3,171.8 500.8,171.8 501.4,171.8 502.0,171.8 502.6,171.8 503.1,171.8 503.7,171.8 504.3,171.8 504.8,171.8 505.4,171.8 506.0,171.8 506.6,171.8 507.1,171.8 507.7,171.8 508.3,171.8 508.8,171.8 509.4,171.8 510.0,171.8 510.5,171.8 511.1,171.8 511.7,171.8 512.3,171.8 512.8,171.8 513.4,171.8 514.0,171.8 514.5,171.8 515.1,171.8 515.7,171.8 516.3,171.8 516.8,171.8 517.4,171.8 518.0,171.8 518.5,171.8 519.1,171.8 519.7,171.8 520.2,171.8 520.8,171.8 521.4,171.8 522.0,171.8 522.5,171.8 523.1,171.8 523.7,171.8 524.2,171.8 524.8,171.8 525.4,171.8 525.9,171.8 526.5,171.8 527.1,171.8 527.7,171.8 528.2,171.8 528.8,171.8 529.4,171.8 529.9,171.8 530.5,171.8 531.1,171.8 531.7,171.8 532.2,171.8 532.8,171.8 533.4,171.8 533.9,171.8 534.5,171.8 535.1,171.8 535.6,171.8 536.2,171.8" fill="none" stroke="#008000" stroke-width="0.955" stroke-linejoin="round" marker-start="url(#mCC)" marker-mid="url(#mCC)" marker-end="url(#mCC)"/>
<polyline points="320.6,11.5 321.2,12.0 321.7,12.6 322.3,13.2 322.9,13.7 323.4,14.3 324.0,14.9 324.6,15.4 325.1,16.0 325.7,16.5 326.3,17.1 326.9,17.7 327.4,18.2 328.0,18.8 328.6,19.3 329.1,19.9 329.7,20.5 330.3,21.0 330.9,21.6 331.4,22.2 332.0,22.7 332.6,23.3 333.1,23.8 333.7,24.4 334.3,25.0 334.8,25.5 335.4,26.1 336.0,26.7 336.6,27.2 337.1,27.8 337.7,28.3 338.3,28.9 338.8,29.5 339.4,30.0 340.0,30.6 340.5,31.2 341.1,31.7 341.7,32.3 342.3,32.9 342.8,33.4 343.4,34.0 344.0,34.6 344.5,35.1 345.1,35.7 345.7,36.3 346.3,36.8 346.8,37.4 347.4,38.0 348.0,38.5 348.5,39.1 349.1,39.7 349.7,40.2 350.2,40.8 350.8,41.4 351.4,41.9 352.0,42.5 352.5,43.1 353.1,43.6 353.7,44.2 354.2,44.8 354.8,45.4 355.4,45.9 356.0,46.5 356.5,47.1 357.1,47.6 357.7,48.2 358.2,48.8 358.8,49.3 359.4,49.9 359.9,50.4 360.5,50.9 361.1,51.4 361.7,51.9 362.2,52.4 362.8,53.0 363.4,53.5 363.9,54.0 364.5,54.5 365.1,55.0 365.6,55.5 366.2,56.0 366.8,56.6 367.4,57.2 367.9,57.8 368.5,58.3 369.1,58.9 369.6,59.5 370.2,60.0 370.8,60.6 371.4,61.2 371.9,61.8 372.5,62.3 373.1,62.9 373.6,63.5 374.2,64.1 374.8,64.6 375.3,65.2 375.9,65.8 376.5,66.3 377.1,67.3 377.6,68.5 378.2,69.8 378.8,71.1 379.3,72.3 379.9,73.6 380.5,74.8 381.1,76.1 381.6,77.1 382.2,78.1 382.8,79.1 383.3,80.1 383.9,81.1 384.5,82.0 385.0,83.0 385.6,84.0 386.2,85.0 386.8,85.8 387.3,86.4 387.9,87.0 388.5,87.6 389.0,88.2 389.6,88.8 390.2,89.4 390.7,90.0 391.3,90.5 391.9,91.1 392.5,91.7 393.0,92.3 393.6,92.9 394.2,93.5 394.7,94.1 395.3,94.7 395.9,95.3 396.5,95.8 397.0,96.4 397.6,97.0 398.2,97.8 398.7,98.6 399.3,99.4 399.9,100.2 400.4,101.0 401.0,101.8 401.6,102.6 402.2,103.4 402.7,104.3 403.3,105.3 403.9,106.7 404.4,108.1 405.0,109.5 405.6,110.9 406.2,112.3 406.7,113.7 407.3,115.1 407.9,116.1 408.4,117.1 409.0,118.0 409.6,118.9 410.1,119.8 410.7,120.7 411.3,121.6 411.9,122.5 412.4,123.4 413.0,124.3 413.6,125.2 414.1,126.2 414.7,127.2 415.3,128.3 415.8,129.3 416.4,130.4 417.0,131.4 417.6,132.5 418.1,133.5 418.7,134.6 419.3,135.6 419.8,137.0 420.4,138.3 421.0,139.7 421.6,141.1 422.1,142.5 422.7,143.8 423.3,145.2 423.8,146.6 424.4,147.9 425.0,149.3 425.5,150.7 426.1,152.0 426.7,153.4 427.3,154.7 427.8,156.0 428.4,157.3 429.0,158.6 429.5,159.8 430.1,161.1 430.7,162.4 431.3,163.7 431.8,165.0 432.4,166.3 433.0,167.6 433.5,168.9 434.1,170.3 434.7,171.8 435.2,171.8 435.8,171.8 436.4,171.8 437.0,171.8 437.5,171.8 438.1,171.8 438.7,171.8 439.2,171.8 439.8,171.8 440.4,171.8 441.0,171.8 441.5,171.8 442.1,171.8 442.7,171.8 443.2,171.8 443.8,171.8 444.4,171.8 444.9,171.8 445.5,171.8 446.1,171.8 446.7,171.8 447.2,171.8 447.8,171.8 448.4,171.8 448.9,171.8 449.5,171.8 450.1,171.8 450.6,171.8 451.2,171.8 451.8,171.8 452.4,171.8 452.9,171.8 453.5,171.8 454.1,171.8 454.6,171.8 455.2,171.8 455.8,171.8 456.4,171.8 456.9,171.8 457.5,171.8 458.1,171.8 458.6,171.8 459.2,171.8 459.8,171.8 460.3,171.8 460.9,171.8 461.5,171.8 462.1,171.8 462.6,171.8 463.2,171.8 463.8,171.8 464.3,171.8 464.9,171.8 465.5,171.8 466.1,171.8 466.6,171.8 467.2,171.8 467.8,171.8 468.3,171.8 468.9,171.8 469.5,171.8 470.0,171.8 470.6,171.8 471.2,171.8 471.8,171.8 472.3,171.8 472.9,171.8 473.5,171.8 474.0,171.8 474.6,171.8 475.2,171.8 475.7,171.8 476.3,171.8 476.9,171.8 477.5,171.8 478.0,171.8 478.6,171.8 479.2,171.8 479.7,171.8 480.3,171.8 480.9,171.8 481.5,171.8 482.0,171.8 482.6,171.8 483.2,171.8 483.7,171.8 484.3,171.8 484.9,171.8 485.4,171.8 486.0,171.8 486.6,171.8 487.2,171.8 487.7,171.8 488.3,171.8 488.9,171.8 489.4,171.8 490.0,171.8 490.6,171.8 491.2,171.8 491.7,171.8 492.3,171.8 492.9,171.8 493.4,171.8 494.0,171.8 494.6,171.8 495.1,171.8 495.7,171.8 496.3,171.8 496.9,171.8 497.4,171.8 498.0,171.8 498.6,171.8 499.1,171.8 499.7,171.8 500.3,171.8 500.8,171.8 501.4,171.8 502.0,171.8 502.6,171.8 503.1,171.8 503.7,171.8 504.3,171.8 504.8,171.8 505.4,171.8 506.0,171.8 506.6,171.8 507.1,171.8 507.7,171.8 508.3,171.8 508.8,171.8 509.4,171.8 510.0,171.8 510.5,171.8 511.1,171.8 511.7,171.8 512.3,171.8 512.8,171.8 513.4,171.8 514.0,171.8 514.5,171.8 515.1,171.8 515.7,171.8 516.3,171.8 516.8,171.8 517.4,171.8 518.0,171.8 518.5,171.8 519.1,171.8 519.7,171.8 520.2,171.8 520.8,171.8 521.4,171.8 522.0,171.8 522.5,171.8 523.1,171.8 523.7,171.8 524.2,171.8 524.8,171.8 525.4,171.8 525.9,171.8 526.5,171.8 527.1,171.8 527.7,171.8 528.2,171.8 528.8,171.8 529.4,171.8 529.9,171.8 530.5,171.8 531.1,171.8 531.7,171.8 532.2,171.8 532.8,171.8 533.4,171.8 533.9,171.8 534.5,171.8 535.1,171.8 535.6,171.8 536.2,171.8" fill="none" stroke="#bfbf00" stroke-width="0.955" stroke-linejoin="round" marker-start="url(#mLocalC)" marker-mid="url(#mLocalC)" marker-end="url(#mLocalC)"/>
<polyline points="320.6,11.5 321.2,12.2 321.7,12.9 322.3,13.6 322.9,14.4 323.4,15.1 324.0,15.8 324.6,16.5 325.1,15.1 325.7,20.1 326.3,19.7 326.9,19.2 327.4,21.7 328.0,18.5 328.6,20.2 329.1,23.3 329.7,22.0 330.3,25.9 330.9,25.8 331.4,23.3 332.0,26.4 332.6,24.8 333.1,26.1 333.7,30.5 334.3,28.6 334.8,30.5 335.4,31.1 336.0,28.0 336.6,31.6 337.1,32.2 337.7,32.3 338.3,36.8 338.8,34.5 339.4,34.4 340.0,36.4 340.5,33.8 341.1,37.4 341.7,39.6 342.3,38.1 342.8,41.5 343.4,39.6 344.0,38.2 344.5,41.9 345.1,40.5 345.7,43.1 346.3,46.1 346.8,43.1 347.4,45.1 348.0,44.8 348.5,43.1 349.1,47.9 349.7,47.7 350.2,48.2 350.8,51.2 351.4,47.7 352.0,48.8 352.5,50.8 353.1,49.3 353.7,53.8 354.2,54.4 354.8,52.6 355.4,55.4 356.0,52.8 356.5,53.4 357.1,57.5 357.7,56.0 358.2,58.9 358.8,59.9 359.4,56.6 359.9,59.4 360.5,59.0 361.1,59.3 361.7,64.3 362.2,62.9 362.8,63.6 363.4,65.4 363.9,62.2 364.5,65.3 365.1,67.3 365.6,66.6 366.2,71.0 366.8,69.7 367.4,68.4 367.9,71.4 368.5,69.4 369.1,72.1 369.6,75.6 370.2,73.7 370.8,76.5 371.4,76.0 371.9,73.7 372.5,77.7 373.1,77.3 373.6,78.6 374.2,82.4 374.8,79.4 375.3,80.4 375.9,81.5 376.5,79.4 377.1,83.9 377.6,84.9 378.2,84.1 378.8,87.4 379.3,84.6 379.9,84.6 380.5,87.8 381.1,86.3 381.6,89.9 382.2,91.7 382.8,88.9 383.3,91.6 383.9,90.3 384.5,89.8 385.0,94.6 385.6,93.6 386.2,95.2 386.8,97.4 387.3,94.3 387.9,97.1 388.5,98.7 389.0,98.4 389.6,103.9 390.2,103.6 390.7,104.9 391.3,109.3 391.9,108.3 392.5,111.0 393.0,114.6 393.6,113.6 394.2,117.7 394.7,117.7 395.3,115.5 395.9,119.1 396.5,118.2 397.0,120.0 397.6,124.7 398.2,122.9 398.7,124.9 399.3,125.9 399.9,123.4 400.4,127.6 401.0,128.8 401.6,129.2 402.2,133.9 402.7,132.2 403.3,132.8 403.9,135.9 404.4,134.4 405.0,139.0 405.6,142.0 406.2,141.1 406.7,145.0 407.3,144.0 407.9,143.6 408.4,148.4 409.0,148.0 409.6,151.1 410.1,154.4 410.7,151.8 411.3,154.5 411.9,155.1 412.4,154.4 413.0,160.0 413.6,160.4 414.1,161.3 414.7,164.7 415.3,161.9 415.8,163.9 416.4,167.0 417.0,167.9 417.6,169.3 418.1,170.7 418.7,171.8 419.3,171.8 419.8,171.8 420.4,171.8 421.0,171.8 421.6,171.8 422.1,171.8 422.7,171.8 423.3,171.8 423.8,171.8 424.4,171.8 425.0,171.8 425.5,171.8 426.1,171.8 426.7,171.8 427.3,171.8 427.8,171.8 428.4,171.8 429.0,171.8 429.5,171.8 430.1,171.8 430.7,171.8 431.3,171.8 431.8,171.8 432.4,171.8 433.0,171.8 433.5,171.8 434.1,171.8 434.7,171.8 435.2,171.8 435.8,171.8 436.4,171.8 437.0,171.8 437.5,171.8 438.1,171.8 438.7,171.8 439.2,171.8 439.8,171.8 440.4,171.8 441.0,171.8 441.5,171.8 442.1,171.8 442.7,171.8 443.2,171.8 443.8,171.8 444.4,171.8 444.9,171.8 445.5,171.8 446.1,171.8 446.7,171.8 447.2,171.8 447.8,171.8 448.4,171.8 448.9,171.8 449.5,171.8 450.1,171.8 450.6,171.8 451.2,171.8 451.8,171.8 452.4,171.8 452.9,171.8 453.5,171.8 454.1,171.8 454.6,171.8 455.2,171.8 455.8,171.8 456.4,171.8 456.9,171.8 457.5,171.8 458.1,171.8 458.6,171.8 459.2,171.8 459.8,171.8 460.3,171.8 460.9,171.8 461.5,171.8 462.1,171.8 462.6,171.8 463.2,171.8 463.8,171.8 464.3,171.8 464.9,171.8 465.5,171.8 466.1,171.8 466.6,171.8 467.2,171.8 467.8,171.8 468.3,171.8 468.9,171.8 469.5,171.8 470.0,171.8 470.6,171.8 471.2,171.8 471.8,171.8 472.3,171.8 472.9,171.8 473.5,171.8 474.0,171.8 474.6,171.8 475.2,171.8 475.7,171.8 476.3,171.8 476.9,171.8 477.5,171.8 478.0,171.8 478.6,171.8 479.2,171.8 479.7,171.8 480.3,171.8 480.9,171.8 481.5,171.8 482.0,171.8 482.6,171.8 483.2,171.8 483.7,171.8 484.3,171.8 484.9,171.8 485.4,171.8 486.0,171.8 486.6,171.8 487.2,171.8 487.7,171.8 488.3,171.8 488.9,171.8 489.4,171.8 490.0,171.8 490.6,171.8 491.2,171.8 491.7,171.8 492.3,171.8 492.9,171.8 493.4,171.8 494.0,171.8 494.6,171.8 495.1,171.8 495.7,171.8 496.3,171.8 496.9,171.8 497.4,171.8 498.0,171.8 498.6,171.8 499.1,171.8 499.7,171.8 500.3,171.8 500.8,171.8 501.4,171.8 502.0,171.8 502.6,171.8 503.1,171.8 503.7,171.8 504.3,171.8 504.8,171.8 505.4,171.8 506.0,171.8 506.6,171.8 507.1,171.8 507.7,171.8 508.3,171.8 508.8,171.8 509.4,171.8 510.0,171.8 510.5,171.8 511.1,171.8 511.7,171.8 512.3,171.8 512.8,171.8 513.4,171.8 514.0,171.8 514.5,171.8 515.1,171.8 515.7,171.8 516.3,171.8 516.8,171.8 517.4,171.8 518.0,171.8 518.5,171.8 519.1,171.8 519.7,171.8 520.2,171.8 520.8,171.8 521.4,171.8 522.0,171.8 522.5,171.8 523.1,171.8 523.7,171.8 524.2,171.8 524.8,171.8 525.4,171.8 525.9,171.8 526.5,171.8 527.1,171.8 527.7,171.8 528.2,171.8 528.8,171.8 529.4,171.8 529.9,171.8 530.5,171.8 531.1,171.8 531.7,171.8 532.2,171.8 532.8,171.8 533.4,171.8 533.9,171.8 534.5,171.8 535.1,171.8 535.6,171.8 536.2,171.8" fill="none" stroke="#000000" stroke-width="0.955" stroke-dasharray="6.11 1.53 0.955 1.53" stroke-linejoin="round" marker-start="url(#mCLD)" marker-mid="url(#mCLD)" marker-end="url(#mCLD)"/>
<polyline points="320.6,11.5 321.2,12.3 321.7,13.1 322.3,14.0 322.9,14.8 323.4,15.6 324.0,16.4 324.6,17.3 325.1,18.1 325.7,18.9 326.3,19.8 326.9,20.6 327.4,21.4 328.0,22.2 328.6,23.1 329.1,24.0 329.7,24.8 330.3,25.7 330.9,26.6 331.4,27.4 332.0,28.3 332.6,29.2 333.1,30.0 333.7,30.9 334.3,31.8 334.8,32.6 335.4,33.5 336.0,34.4 336.6,35.2 337.1,36.1 337.7,37.0 338.3,37.8 338.8,38.7 339.4,39.6 340.0,40.4 340.5,41.3 341.1,42.2 341.7,43.0 342.3,43.9 342.8,44.8 343.4,45.6 344.0,46.5 344.5,47.4 345.1,48.2 345.7,49.1 346.3,49.9 346.8,50.8 347.4,51.6 348.0,52.5 348.5,53.3 349.1,54.2 349.7,55.0 350.2,55.8 350.8,56.7 351.4,57.5 352.0,58.4 352.5,59.2 353.1,60.1 353.7,60.9 354.2,61.7 354.8,62.6 355.4,63.4 356.0,64.1 356.5,64.8 357.1,65.5 357.7,66.2 358.2,66.9 358.8,67.6 359.4,68.3 359.9,69.0 360.5,69.7 361.1,70.4 361.7,71.1 362.2,71.8 362.8,72.5 363.4,73.2 363.9,73.9 364.5,74.6 365.1,75.3 365.6,76.1 366.2,76.8 366.8,77.5 367.4,78.2 367.9,78.9 368.5,79.6 369.1,80.3 369.6,81.0 370.2,81.7 370.8,82.4 371.4,83.2 371.9,83.9 372.5,84.6 373.1,85.3 373.6,86.1 374.2,86.8 374.8,87.5 375.3,88.2 375.9,88.9 376.5,89.7 377.1,90.4 377.6,91.1 378.2,91.8 378.8,92.6 379.3,93.3 379.9,94.0 380.5,94.7 381.1,95.5 381.6,96.2 382.2,96.9 382.8,97.6 383.3,98.4 383.9,99.1 384.5,99.8 385.0,100.5 385.6,101.3 386.2,102.0 386.8,102.7 387.3,103.3 387.9,103.9 388.5,104.6 389.0,105.2 389.6,105.8 390.2,106.5 390.7,107.1 391.3,107.7 391.9,108.4 392.5,109.0 393.0,109.6 393.6,110.3 394.2,110.9 394.7,111.5 395.3,112.2 395.9,112.8 396.5,113.4 397.0,114.1 397.6,114.7 398.2,115.2 398.7,115.7 399.3,116.2 399.9,116.8 400.4,117.3 401.0,117.8 401.6,118.3 402.2,118.8 402.7,119.3 403.3,119.9 403.9,120.4 404.4,120.9 405.0,121.4 405.6,121.9 406.2,122.4 406.7,122.9 407.3,123.5 407.9,124.0 408.4,124.5 409.0,125.0 409.6,125.6 410.1,126.1 410.7,126.7 411.3,127.2 411.9,127.8 412.4,128.3 413.0,128.9 413.6,129.4 414.1,130.0 414.7,130.5 415.3,131.1 415.8,131.6 416.4,132.2 417.0,132.8 417.6,133.3 418.1,133.9 418.7,134.4 419.3,135.0 419.8,135.5 420.4,136.1 421.0,136.6 421.6,137.0 422.1,137.4 422.7,137.7 423.3,138.0 423.8,138.4 424.4,138.7 425.0,139.1 425.5,139.4 426.1,139.8 426.7,140.1 427.3,140.5 427.8,140.8 428.4,141.1 429.0,141.5 429.5,141.8 430.1,142.2 430.7,142.5 431.3,142.9 431.8,143.2 432.4,143.5 433.0,143.9 433.5,144.2 434.1,144.6 434.7,144.9 435.2,145.3 435.8,145.6 436.4,145.9 437.0,146.3 437.5,146.6 438.1,147.0 438.7,147.3 439.2,147.7 439.8,148.1 440.4,148.5 441.0,148.9 441.5,149.3 442.1,149.7 442.7,150.1 443.2,150.5 443.8,150.9 444.4,151.3 444.9,151.7 445.5,152.1 446.1,152.5 446.7,152.9 447.2,153.3 447.8,153.8 448.4,154.2 448.9,154.6 449.5,155.0 450.1,155.4 450.6,155.8 451.2,156.2 451.8,156.6 452.4,157.0 452.9,157.4 453.5,157.8 454.1,158.2 454.6,158.6 455.2,159.0 455.8,159.4 456.4,159.8 456.9,160.2 457.5,160.7 458.1,161.4 458.6,162.0 459.2,162.7 459.8,163.4 460.3,164.0 460.9,164.7 461.5,165.3 462.1,166.0 462.6,166.6 463.2,167.6 463.8,168.6 464.3,169.7 464.9,170.7 465.5,171.8 466.1,171.8 466.6,171.8 467.2,171.8 467.8,171.8 468.3,171.8 468.9,171.8 469.5,171.8 470.0,171.8 470.6,171.8 471.2,171.8 471.8,171.8 472.3,171.8 472.9,171.8 473.5,171.8 474.0,171.8 474.6,171.8 475.2,171.8 475.7,171.8 476.3,171.8 476.9,171.8 477.5,171.8 478.0,171.8 478.6,171.8 479.2,171.8 479.7,171.8 480.3,171.8 480.9,171.8 481.5,171.8 482.0,171.8 482.6,171.8 483.2,171.8 483.7,171.8 484.3,171.8 484.9,171.8 485.4,171.8 486.0,171.8 486.6,171.8 487.2,171.8 487.7,171.8 488.3,171.8 488.9,171.8 489.4,171.8 490.0,171.8 490.6,171.8 491.2,171.8 491.7,171.8 492.3,171.8 492.9,171.8 493.4,171.8 494.0,171.8 494.6,171.8 495.1,171.8 495.7,171.8 496.3,171.8 496.9,171.8 497.4,171.8 498.0,171.8 498.6,171.8 499.1,171.8 499.7,171.8 500.3,171.8 500.8,171.8 501.4,171.8 502.0,171.8 502.6,171.8 503.1,171.8 503.7,171.8 504.3,171.8 504.8,171.8 505.4,171.8 506.0,171.8 506.6,171.8 507.1,171.8 507.7,171.8 508.3,171.8 508.8,171.8 509.4,171.8 510.0,171.8 510.5,171.8 511.1,171.8 511.7,171.8 512.3,171.8 512.8,171.8 513.4,171.8 514.0,171.8 514.5,171.8 515.1,171.8 515.7,171.8 516.3,171.8 516.8,171.8 517.4,171.8 518.0,171.8 518.5,171.8 519.1,171.8 519.7,171.8 520.2,171.8 520.8,171.8 521.4,171.8 522.0,171.8 522.5,171.8 523.1,171.8 523.7,171.8 524.2,171.8 524.8,171.8 525.4,171.8 525.9,171.8 526.5,171.8 527.1,171.8 527.7,171.8 528.2,171.8 528.8,171.8 529.4,171.8 529.9,171.8 530.5,171.8 531.1,171.8 531.7,171.8 532.2,171.8 532.8,171.8 533.4,171.8 533.9,171.8 534.5,171.8 535.1,171.8 535.6,171.8 536.2,171.8" fill="none" stroke="#ff0000" stroke-width="0.955" stroke-dasharray="0.955 1.576" stroke-linejoin="round" marker-start="url(#mLWC)" marker-mid="url(#mLWC)" marker-end="url(#mLWC)"/>
</g>
<rect x="309.8" y="3.4" width="237.2" height="176.4" fill="none" stroke="#000" stroke-width="0.5"/>
<path d="M320.01,179.8v2.23" stroke="#000" stroke-width="0.5"/>
<text x="320.01" y="189.93" text-anchor="middle" class="tk">0</text>
<path d="M348.53,179.8v2.23" stroke="#000" stroke-width="0.5"/>
<text x="348.53" y="189.93" text-anchor="middle" class="tk">50</text>
<path d="M377.06,179.8v2.23" stroke="#000" stroke-width="0.5"/>
<text x="377.06" y="189.93" text-anchor="middle" class="tk">100</text>
<path d="M405.58,179.8v2.23" stroke="#000" stroke-width="0.5"/>
<text x="405.58" y="189.93" text-anchor="middle" class="tk">150</text>
<path d="M434.10,179.8v2.23" stroke="#000" stroke-width="0.5"/>
<text x="434.10" y="189.93" text-anchor="middle" class="tk">200</text>
<path d="M462.63,179.8v2.23" stroke="#000" stroke-width="0.5"/>
<text x="462.63" y="189.93" text-anchor="middle" class="tk">250</text>
<path d="M491.15,179.8v2.23" stroke="#000" stroke-width="0.5"/>
<text x="491.15" y="189.93" text-anchor="middle" class="tk">300</text>
<path d="M519.67,179.8v2.23" stroke="#000" stroke-width="0.5"/>
<text x="519.67" y="189.93" text-anchor="middle" class="tk">350</text>
<path d="M309.8,171.78h-2.23" stroke="#000" stroke-width="0.5"/>
<text x="305.07" y="174.23" text-anchor="end" class="tk">0.0</text>
<path d="M309.8,139.62h-2.23" stroke="#000" stroke-width="0.5"/>
<text x="305.07" y="142.07" text-anchor="end" class="tk">0.2</text>
<path d="M309.8,107.47h-2.23" stroke="#000" stroke-width="0.5"/>
<text x="305.07" y="109.92" text-anchor="end" class="tk">0.4</text>
<path d="M309.8,75.31h-2.23" stroke="#000" stroke-width="0.5"/>
<text x="305.07" y="77.76" text-anchor="end" class="tk">0.6</text>
<path d="M309.8,43.15h-2.23" stroke="#000" stroke-width="0.5"/>
<text x="305.07" y="45.60" text-anchor="end" class="tk">0.8</text>
<path d="M309.8,10.99h-2.23" stroke="#000" stroke-width="0.5"/>
<text x="305.07" y="13.44" text-anchor="end" class="tk">1.0</text>
<text x="428.40" y="198.90" text-anchor="middle" class="lb">rank</text>
<text transform="translate(290.70,92.50) rotate(-90)" text-anchor="middle" class="lb">CCDF</text>
<text x="428.40" y="210.90" text-anchor="middle" class="tt">(b) Netscience</text>
<rect x="495.19999999999993" y="6.6" width="48.60000000000002" height="61.6" rx="1.3" fill="#fff" fill-opacity="0.8" stroke="#ccc" stroke-opacity="0.8" stroke-width="0.55"/>
<polyline points="497.6,11.8 504.5,11.8 511.5,11.8" fill="none" stroke="#0000ff" stroke-width="1.1" stroke-dasharray="3.53 1.53" marker-mid="url(#lDegree)"/>
<text x="516.6" y="14.1" class="lg">Degree</text>
<polyline points="497.6,22.0 504.5,22.0 511.5,22.0" fill="none" stroke="#00bfbf" stroke-width="1.1" stroke-dasharray="0.955 1.576" marker-mid="url(#lBC)"/>
<text x="516.6" y="24.3" class="lg">BC</text>
<polyline points="497.6,32.1 504.5,32.1 511.5,32.1" fill="none" stroke="#008000" stroke-width="1.1" marker-mid="url(#lCC)"/>
<text x="516.6" y="34.4" class="lg">CC</text>
<polyline points="497.6,42.2 504.5,42.2 511.5,42.2" fill="none" stroke="#bfbf00" stroke-width="1.1" marker-mid="url(#lLocalC)"/>
<text x="516.6" y="44.5" class="lg">LocalC</text>
<polyline points="497.6,52.4 504.5,52.4 511.5,52.4" fill="none" stroke="#000000" stroke-width="1.1" stroke-dasharray="6.11 1.53 0.955 1.53" marker-mid="url(#lCLD)"/>
<text x="516.6" y="54.7" class="lg">CLD</text>
<polyline points="497.6,62.5 504.5,62.5 511.5,62.5" fill="none" stroke="#ff0000" stroke-width="1.1" stroke-dasharray="0.955 1.576" marker-mid="url(#lLWC)"/>
<text x="516.6" y="64.8" class="lg">LWC</text>
<clipPath id="c28_237"><rect x="28.8" y="237.45" width="239.8" height="178.0"/></clipPath>
<g clip-path="url(#c28_237)">
<polyline points="39.7,245.6 39.9,246.0 40.1,246.4 40.3,246.9 40.5,247.3 40.7,247.7 40.9,248.2 41.0,248.6 41.2,249.0 41.4,249.5 41.6,250.3 41.8,251.1 42.0,251.9 42.2,252.7 42.4,253.5 42.6,254.3 42.8,255.1 43.0,255.9 43.2,256.8 43.4,257.6 43.6,258.4 43.7,259.3 43.9,260.4 44.1,261.6 44.3,262.7 44.5,263.8 44.7,264.9 44.9,266.1 45.1,267.2 45.3,268.3 45.5,269.4 45.7,270.6 45.9,271.7 46.1,273.6 46.2,275.6 46.4,277.5 46.6,279.5 46.8,281.9 47.0,284.4 47.2,289.1 47.4,294.6 47.6,301.2 47.8,307.4 48.0,314.2 48.2,320.9 48.4,327.4 48.6,336.5 48.8,347.1 48.9,356.7 49.1,369.7 49.3,386.6 49.5,407.7 50.1,407.7 50.7,407.7 51.3,407.7 51.8,407.7 52.4,407.7 53.0,407.7 53.6,407.7 54.1,407.7 54.7,407.7 55.3,407.7 55.9,407.7 56.5,407.7 57.0,407.7 57.6,407.7 58.2,407.7 58.8,407.7 59.3,407.7 59.9,407.7 60.5,407.7 61.1,407.7 61.7,407.7 62.2,407.7 62.8,407.7 63.4,407.7 64.0,407.7 64.5,407.7 65.1,407.7 65.7,407.7 66.3,407.7 66.9,407.7 67.4,407.7 68.0,407.7 68.6,407.7 69.2,407.7 69.7,407.7 70.3,407.7 70.9,407.7 71.5,407.7 72.1,407.7 72.6,407.7 73.2,407.7 73.8,407.7 74.4,407.7 74.9,407.7 75.5,407.7 76.1,407.7 76.7,407.7 77.3,407.7 77.8,407.7 78.4,407.7 79.0,407.7 79.6,407.7 80.1,407.7 80.7,407.7 81.3,407.7 81.9,407.7 82.5,407.7 83.0,407.7 83.6,407.7 84.2,407.7 84.8,407.7 85.3,407.7 85.9,407.7 86.5,407.7 87.1,407.7 87.7,407.7 88.2,407.7 88.8,407.7 89.4,407.7 90.0,407.7 90.5,407.7 91.1,407.7 91.7,407.7 92.3,407.7 92.9,407.7 93.4,407.7 94.0,407.7 94.6,407.7 95.2,407.7 95.7,407.7 96.3,407.7 96.9,407.7 97.5,407.7 98.1,407.7 98.6,407.7 99.2,407.7 99.8,407.7 100.4,407.7 100.9,407.7 101.5,407.7 102.1,407.7 102.7,407.7 103.3,407.7 103.8,407.7 104.4,407.7 105.0,407.7 105.6,407.7 106.1,407.7 106.7,407.7 107.3,407.7 107.9,407.7 108.5,407.7 109.0,407.7 109.6,407.7 110.2,407.7 110.8,407.7 111.3,407.7 111.9,407.7 112.5,407.7 113.1,407.7 113.7,407.7 114.2,407.7 114.8,407.7 115.4,407.7 116.0,407.7 116.5,407.7 117.1,407.7 117.7,407.7 118.3,407.7 118.9,407.7 119.4,407.7 120.0,407.7 120.6,407.7 121.2,407.7 121.7,407.7 122.3,407.7 122.9,407.7 123.5,407.7 124.0,407.7 124.6,407.7 125.2,407.7 125.8,407.7 126.4,407.7 126.9,407.7 127.5,407.7 128.1,407.7 128.7,407.7 129.2,407.7 129.8,407.7 130.4,407.7 131.0,407.7 131.6,407.7 132.1,407.7 132.7,407.7 133.3,407.7 133.9,407.7 134.4,407.7 135.0,407.7 135.6,407.7 136.2,407.7 136.8,407.7 137.3,407.7 137.9,407.7 138.5,407.7 139.1,407.7 139.6,407.7 140.2,407.7 140.8,407.7 141.4,407.7 142.0,407.7 142.5,407.7 143.1,407.7 143.7,407.7 144.3,407.7 144.8,407.7 145.4,407.7 146.0,407.7 146.6,407.7 147.2,407.7 147.7,407.7 148.3,407.7 148.9,407.7 149.5,407.7 150.0,407.7 150.6,407.7 151.2,407.7 151.8,407.7 152.4,407.7 152.9,407.7 153.5,407.7 154.1,407.7 154.7,407.7 155.2,407.7 155.8,407.7 156.4,407.7 157.0,407.7 157.6,407.7 158.1,407.7 158.7,407.7 159.3,407.7 159.9,407.7 160.4,407.7 161.0,407.7 161.6,407.7 162.2,407.7 162.8,407.7 163.3,407.7 163.9,407.7 164.5,407.7 165.1,407.7 165.6,407.7 166.2,407.7 166.8,407.7 167.4,407.7 168.0,407.7 168.5,407.7 169.1,407.7 169.7,407.7 170.3,407.7 170.8,407.7 171.4,407.7 172.0,407.7 172.6,407.7 173.2,407.7 173.7,407.7 174.3,407.7 174.9,407.7 175.5,407.7 176.0,407.7 176.6,407.7 177.2,407.7 177.8,407.7 178.4,407.7 178.9,407.7 179.5,407.7 180.1,407.7 180.7,407.7 181.2,407.7 181.8,407.7 182.4,407.7 183.0,407.7 183.6,407.7 184.1,407.7 184.7,407.7 185.3,407.7 185.9,407.7 186.4,407.7 187.0,407.7 187.6,407.7 188.2,407.7 188.8,407.7 189.3,407.7 189.9,407.7 190.5,407.7 191.1,407.7 191.6,407.7 192.2,407.7 192.8,407.7 193.4,407.7 194.0,407.7 194.5,407.7 195.1,407.7 195.7,407.7 196.3,407.7 196.8,407.7 197.4,407.7 198.0,407.7 198.6,407.7 199.2,407.7 199.7,407.7 200.3,407.7 200.9,407.7 201.5,407.7 202.0,407.7 202.6,407.7 203.2,407.7 203.8,407.7 204.4,407.7 204.9,407.7 205.5,407.7 206.1,407.7 206.7,407.7 207.2,407.7 207.8,407.7 208.4,407.7 209.0,407.7 209.6,407.7 210.1,407.7 210.7,407.7 211.3,407.7 211.9,407.7 212.4,407.7 213.0,407.7 213.6,407.7 214.2,407.7 214.8,407.7 215.3,407.7 215.9,407.7 216.5,407.7 217.1,407.7 217.6,407.7 218.2,407.7 218.8,407.7 219.4,407.7 220.0,407.7 220.5,407.7 221.1,407.7 221.7,407.7 222.3,407.7 222.8,407.7 223.4,407.7 224.0,407.7 224.6,407.7 225.2,407.7 225.7,407.7 226.3,407.7 226.9,407.7 227.5,407.7 228.0,407.7 228.6,407.7 229.2,407.7 229.8,407.7 230.4,407.7 230.9,407.7 231.5,407.7 232.1,407.7 232.7,407.7 233.2,407.7 233.8,407.7 234.4,407.7 235.0,407.7 235.6,407.7 236.1,407.7 236.7,407.7 237.3,407.7 237.9,407.7 238.4,407.7 239.0,407.7 239.6,407.7 240.2,407.7 240.8,407.7 241.3,407.7 241.9,407.7 242.5,407.7 243.1,407.7 243.6,407.7 244.2,407.7 244.8,407.7 245.4,407.7 246.0,407.7 246.5,407.7 247.1,407.7 247.7,407.7 248.3,407.7 248.8,407.7 249.4,407.7 250.0,407.7 250.6,407.7 251.2,407.7 251.7,407.7 252.3,407.7 252.9,407.7 253.5,407.7 254.0,407.7 254.6,407.7 255.2,407.7 255.8,407.7 256.4,407.7 256.9,407.7 257.5,407.7 257.7,407.7" fill="none" stroke="#0000ff" stroke-width="0.955" stroke-dasharray="3.53 1.53" stroke-linejoin="round" marker-start="url(#mDegree)" marker-mid="url(#mDegree)" marker-end="url(#mDegree)"/>
<polyline points="39.7,245.6 40.1,245.9 40.5,246.2 40.9,246.5 41.2,246.8 41.6,247.1 42.0,247.4 42.4,247.7 42.8,248.0 43.2,248.3 43.6,248.6 43.9,248.9 44.3,249.2 44.7,249.5 45.1,249.8 45.5,250.1 45.9,250.4 46.2,250.7 46.6,251.0 47.0,251.3 47.4,251.6 47.8,251.9 48.2,252.2 48.6,252.5 48.9,252.8 49.3,253.1 49.7,253.4 50.1,253.7 50.5,253.9 50.9,254.2 51.3,254.5 51.6,254.8 52.0,255.1 52.4,255.4 52.8,255.7 53.2,256.0 53.6,256.3 54.0,256.6 54.3,256.9 54.7,257.2 55.1,257.5 55.5,257.8 55.9,258.1 56.3,258.4 56.6,258.7 57.0,259.0 57.4,259.3 57.8,259.6 58.2,259.9 58.6,260.2 59.0,260.5 59.3,260.8 59.7,261.1 60.1,261.4 60.5,261.7 60.9,262.0 61.3,262.3 61.7,262.6 62.0,262.9 62.4,263.2 62.8,263.5 63.2,263.8 63.6,264.1 64.0,264.4 64.4,264.7 64.7,265.0 65.1,265.3 65.5,265.6 65.9,265.9 66.3,266.2 66.7,266.5 67.0,266.8 67.4,267.1 67.8,267.4 68.2,267.7 68.6,268.0 69.0,268.3 69.4,268.6 69.7,268.9 70.1,269.2 70.5,269.5 70.9,269.8 71.3,270.1 71.7,270.4 72.1,270.7 72.4,271.0 72.8,271.3 73.2,271.6 73.6,271.9 74.0,272.2 74.4,272.5 74.7,272.8 75.1,273.1 75.5,273.4 75.9,273.7 76.3,274.0 76.7,274.3 77.1,274.6 77.4,274.9 77.8,275.2 78.2,275.5 78.6,275.8 79.0,276.1 79.4,276.4 79.8,276.7 80.1,277.0 80.5,277.3 80.9,277.6 81.3,277.9 81.7,278.2 82.1,278.5 82.5,278.8 82.8,279.1 83.2,279.4 83.6,279.7 84.0,280.0 84.4,280.3 84.8,280.6 85.1,280.9 85.5,281.2 85.9,281.5 86.3,281.8 86.7,282.1 87.1,282.4 87.5,282.7 87.8,283.0 88.2,283.3 88.6,283.6 89.0,283.9 89.4,284.2 89.8,284.5 90.2,284.8 90.5,285.1 90.9,285.4 91.3,285.7 91.7,286.0 92.1,286.3 92.5,286.6 92.9,286.9 93.2,287.2 93.6,287.5 94.0,287.8 94.4,288.1 94.8,288.4 95.2,288.7 95.5,289.0 95.9,289.3 96.3,289.6 96.7,289.9 97.1,290.2 97.5,290.5 97.9,290.8 98.2,291.1 98.6,291.4 99.0,291.7 99.4,292.0 99.8,292.3 100.2,292.6 100.6,292.9 100.9,293.2 101.3,293.5 101.7,293.8 102.1,294.1 102.5,294.4 102.9,294.7 103.3,295.0 103.6,295.3 104.0,295.6 104.4,295.9 104.8,296.2 105.2,296.5 105.6,296.8 105.9,297.1 106.3,297.4 106.7,297.7 107.1,298.0 107.5,298.3 107.9,298.6 108.3,298.9 108.6,299.2 109.0,299.5 109.4,299.8 109.8,300.1 110.2,300.4 110.6,300.7 111.0,301.0 111.3,301.3 111.7,301.6 112.1,301.9 112.5,302.2 112.9,302.5 113.3,302.8 113.7,303.1 114.0,303.4 114.4,303.7 114.8,304.0 115.2,304.3 115.6,304.6 116.0,304.9 116.3,305.2 116.7,305.5 117.1,305.8 117.5,306.1 117.9,306.4 118.3,306.7 118.7,307.0 119.0,307.3 119.4,307.6 119.8,307.9 120.2,308.2 120.6,308.5 121.0,308.8 121.4,309.1 121.7,309.4 122.1,309.7 122.5,310.0 122.9,310.3 123.3,310.6 123.7,310.9 124.0,311.2 124.4,311.5 124.8,311.8 125.2,312.1 125.6,312.4 126.0,312.7 126.4,313.0 126.7,313.3 127.1,313.6 127.5,313.9 127.9,314.2 128.3,314.5 128.7,314.8 129.1,315.1 129.4,315.4 129.8,315.7 130.2,316.0 130.6,316.3 131.0,316.6 131.4,316.9 131.8,317.2 132.1,317.5 132.5,317.8 132.9,318.1 133.3,318.4 133.7,318.7 134.1,319.0 134.4,319.3 134.8,319.6 135.2,319.9 135.6,320.2 136.0,320.5 136.4,320.8 136.8,321.1 137.1,321.4 137.5,321.7 137.9,322.0 138.3,322.3 138.7,322.6 139.1,322.9 139.5,323.2 139.8,323.5 140.2,323.8 140.6,324.1 141.0,324.4 141.4,324.7 141.8,325.0 142.2,325.3 142.5,325.6 142.9,325.9 143.3,326.2 143.7,326.5 144.1,326.8 144.5,327.1 144.8,327.4 145.2,327.7 145.6,328.0 146.0,328.3 146.4,328.6 146.8,328.9 147.2,329.2 147.5,329.5 147.9,329.8 148.3,330.1 148.7,330.4 149.1,330.7 149.5,331.0 149.9,331.3 150.2,331.6 150.6,331.9 151.0,332.2 151.4,332.5 151.8,332.8 152.2,333.1 152.6,333.4 152.9,333.6 153.3,333.9 153.7,334.2 154.1,334.5 154.5,334.8 154.9,335.1 155.2,335.4 155.6,335.7 156.0,336.0 156.4,336.3 156.8,336.6 157.2,336.9 157.6,337.2 157.9,337.5 158.3,337.8 158.7,338.1 159.1,338.4 159.5,338.7 159.9,339.0 160.3,339.3 160.6,339.6 161.0,339.9 161.4,340.2 161.8,340.5 162.2,340.8 162.6,341.1 163.0,341.4 163.3,341.7 163.7,342.0 164.1,342.3 164.5,342.6 164.9,342.9 165.3,343.2 165.6,343.5 166.0,343.8 166.4,344.1 166.8,344.4 167.2,344.7 167.6,345.0 168.0,345.3 168.3,345.6 168.7,345.9 169.1,346.2 169.5,346.5 169.9,346.8 170.3,347.1 170.7,347.4 171.0,347.7 171.4,348.0 171.8,348.3 172.2,348.6 172.6,348.9 173.0,349.2 173.4,349.5 173.7,349.8 174.1,350.1 174.5,350.4 174.9,350.7 175.3,351.0 175.7,351.3 176.0,351.6 176.4,351.9 176.8,352.2 177.2,352.5 177.6,352.8 178.0,353.1 178.4,353.4 178.7,353.7 179.1,354.0 179.5,354.3 179.9,354.6 180.3,354.9 180.7,355.2 181.1,355.5 181.4,355.8 181.8,356.1 182.2,356.4 182.6,356.7 183.0,357.0 183.4,357.3 183.7,357.6 184.1,357.9 184.5,358.2 184.9,358.5 185.3,358.8 185.7,359.1 186.1,359.4 186.4,359.7 186.8,360.0 187.2,360.3 187.6,360.6 188.0,360.9 188.4,361.2 188.8,361.5 189.1,361.8 189.5,362.1 189.9,362.4 190.3,362.7 190.7,363.0 191.1,363.3 191.5,363.6 191.8,363.9 192.2,364.2 192.6,364.5 193.0,364.8 193.4,365.1 193.8,365.4 194.1,365.7 194.5,366.0 194.9,366.3 195.3,366.6 195.7,366.9 196.1,367.2 196.5,367.5 196.8,367.8 197.2,368.1 197.6,368.4 198.0,368.7 198.4,369.0 198.8,369.3 199.2,369.6 199.5,369.9 199.9,370.2 200.3,370.5 200.7,370.8 201.1,371.1 201.5,371.4 201.9,371.7 202.2,372.0 202.6,372.3 203.0,372.6 203.4,372.9 203.8,373.2 204.2,373.5 204.5,373.8 204.9,374.1 205.3,374.4 205.7,374.7 206.1,375.0 206.5,375.3 206.9,375.6 207.2,375.9 207.6,376.2 208.0,376.5 208.4,376.8 208.8,377.1 209.2,377.4 209.6,377.7 209.9,378.0 210.3,378.3 210.7,378.6 211.1,378.9 211.5,379.2 211.9,379.5 212.3,379.8 212.6,380.1 213.0,380.4 213.4,380.7 213.8,381.0 214.2,381.3 214.6,381.6 214.9,407.7 215.5,407.7 216.1,407.7 216.7,407.7 217.3,407.7 217.8,407.7 218.4,407.7 219.0,407.7 219.6,407.7 220.1,407.7 220.7,407.7 221.3,407.7 221.9,407.7 222.5,407.7 223.0,407.7 223.6,407.7 224.2,407.7 224.8,407.7 225.3,407.7 225.9,407.7 226.5,407.7 227.1,407.7 227.7,407.7 228.2,407.7 228.8,407.7 229.4,407.7 230.0,407.7 230.5,407.7 231.1,407.7 231.7,407.7 232.3,407.7 232.9,407.7 233.4,407.7 234.0,407.7 234.6,407.7 235.2,407.7 235.7,407.7 236.3,407.7 236.9,407.7 237.5,407.7 238.1,407.7 238.6,407.7 239.2,407.7 239.8,407.7 240.4,407.7 240.9,407.7 241.5,407.7 242.1,407.7 242.7,407.7 243.3,407.7 243.8,407.7 244.4,407.7 245.0,407.7 245.6,407.7 246.1,407.7 246.7,407.7 247.3,407.7 247.9,407.7 248.5,407.7 249.0,407.7 249.6,407.7 250.2,407.7 250.8,407.7 251.3,407.7 251.9,407.7 252.5,407.7 253.1,407.7 253.7,407.7 254.2,407.7 254.8,407.7 255.4,407.7 256.0,407.7 256.5,407.7 257.1,407.7 257.7,407.7" fill="none" stroke="#00bfbf" stroke-width="0.955" stroke-dasharray="0.955 1.576" stroke-linejoin="round" marker-start="url(#mBC)" marker-mid="url(#mBC)" marker-end="url(#mBC)"/>
<polyline points="39.7,245.6 40.1,245.9 40.5,246.2 40.9,246.5 41.2,246.9 41.6,247.2 42.0,247.5 42.4,247.8 42.8,248.2 43.2,248.5 43.6,248.8 43.9,249.1 44.3,249.5 44.7,249.8 45.1,250.1 45.5,250.4 45.9,250.8 46.2,251.1 46.6,251.4 47.0,251.7 47.4,252.1 47.8,252.4 48.2,252.7 48.6,253.0 48.9,253.4 49.3,253.7 49.7,254.0 50.1,254.3 50.5,254.6 50.9,255.0 51.3,255.3 51.6,255.7 52.0,256.1 52.4,256.5 52.8,256.9 53.2,257.3 53.6,257.7 54.0,258.1 54.3,258.5 54.7,258.8 55.1,259.2 55.5,259.6 55.9,260.0 56.3,260.4 56.6,260.8 57.0,261.2 57.4,261.6 57.8,262.0 58.2,262.4 58.6,262.8 59.0,263.1 59.3,263.5 59.7,263.9 60.1,264.3 60.5,264.7 60.9,265.1 61.3,265.5 61.7,265.9 62.0,266.3 62.4,266.7 62.8,267.1 63.2,267.4 63.6,267.8 64.0,268.2 64.4,268.6 64.7,269.0 65.1,269.4 65.5,269.8 65.9,270.2 66.3,270.6 66.7,271.0 67.0,271.4 67.4,271.7 67.8,272.1 68.2,272.5 68.6,272.9 69.0,273.3 69.4,273.7 69.7,274.1 70.1,274.5 70.5,274.9 70.9,275.3 71.3,275.7 71.7,276.0 72.1,276.4 72.4,276.8 72.8,277.2 73.2,277.6 73.6,278.0 74.0,278.4 74.4,278.8 74.7,279.2 75.1,279.6 75.5,280.0 75.9,280.3 76.3,280.7 76.7,281.1 77.1,281.5 77.4,281.9 77.8,282.3 78.2,282.7 78.6,283.1 79.0,283.5 79.4,283.9 79.8,284.3 80.1,284.6 80.5,285.0 80.9,285.4 81.3,285.8 81.7,286.1 82.1,286.5 82.5,286.9 82.8,287.3 83.2,287.6 83.6,288.0 84.0,288.4 84.4,288.8 84.8,289.1 85.1,289.5 85.5,289.9 85.9,290.3 86.3,290.6 86.7,291.0 87.1,291.4 87.5,291.8 87.8,292.1 88.2,292.5 88.6,292.9 89.0,293.3 89.4,293.6 89.8,294.0 90.2,294.4 90.5,294.8 90.9,295.1 91.3,295.5 91.7,295.9 92.1,296.3 92.5,296.6 92.9,297.0 93.2,297.4 93.6,297.8 94.0,298.1 94.4,298.5 94.8,298.9 95.2,299.3 95.5,299.6 95.9,300.0 96.3,300.4 96.7,300.8 97.1,301.1 97.5,301.5 97.9,301.9 98.2,302.3 98.6,302.6 99.0,303.0 99.4,303.4 99.8,303.7 100.2,304.1 100.6,304.5 100.9,304.9 101.3,305.2 101.7,305.6 102.1,306.0 102.5,306.4 102.9,306.7 103.3,307.1 103.6,307.5 104.0,307.9 104.4,308.2 104.8,308.6 105.2,309.0 105.6,309.4 105.9,309.7 106.3,310.1 106.7,310.5 107.1,310.9 107.5,311.2 107.9,311.6 108.3,312.0 108.6,312.4 109.0,312.7 109.4,313.1 109.8,313.5 110.2,313.9 110.6,314.3 111.0,314.7 111.3,315.2 111.7,315.6 112.1,316.0 112.5,316.5 112.9,316.9 113.3,317.4 113.7,317.8 114.0,318.2 114.4,318.7 114.8,319.1 115.2,319.6 115.6,320.0 116.0,320.4 116.3,320.9 116.7,321.3 117.1,321.8 117.5,322.2 117.9,322.6 118.3,323.1 118.7,323.5 119.0,323.9 119.4,324.4 119.8,324.8 120.2,325.3 120.6,325.7 121.0,326.1 121.4,326.6 121.7,327.0 122.1,327.5 122.5,327.9 122.9,328.3 123.3,328.8 123.7,329.2 124.0,329.7 124.4,330.1 124.8,330.5 125.2,331.0 125.6,331.4 126.0,331.9 126.4,332.3 126.7,332.7 127.1,333.2 127.5,333.6 127.9,334.1 128.3,334.5 128.7,334.9 129.1,335.4 129.4,335.8 129.8,336.3 130.2,336.7 130.6,337.1 131.0,337.6 131.4,338.0 131.8,338.5 132.1,338.9 132.5,339.3 132.9,339.8 133.3,340.2 133.7,340.7 134.1,341.1 134.4,341.5 134.8,342.0 135.2,342.4 135.6,342.9 136.0,343.3 136.4,343.7 136.8,344.2 137.1,344.6 137.5,345.1 137.9,345.5 138.3,345.9 138.7,346.3 139.1,346.7 139.5,347.1 139.8,347.5 140.2,347.9 140.6,348.3 141.0,348.7 141.4,349.1 141.8,349.6 142.2,350.0 142.5,350.4 142.9,350.8 143.3,351.2 143.7,351.6 144.1,352.0 144.5,352.4 144.8,352.8 145.2,353.2 145.6,353.6 146.0,354.0 146.4,354.5 146.8,354.9 147.2,355.3 147.5,355.7 147.9,356.1 148.3,356.5 148.7,356.9 149.1,357.3 149.5,357.7 149.9,358.1 150.2,358.5 150.6,359.0 151.0,359.4 151.4,359.8 151.8,360.2 152.2,360.6 152.6,361.0 152.9,361.4 153.3,361.8 153.7,362.2 154.1,362.6 154.5,363.0 154.9,363.4 155.2,363.9 155.6,364.3 156.0,364.7 156.4,365.1 156.8,365.5 157.2,365.9 157.6,366.3 157.9,366.7 158.3,367.1 158.7,367.5 159.1,367.9 159.5,368.3 159.9,368.8 160.3,369.2 160.6,369.6 161.0,370.0 161.4,370.4 161.8,370.8 162.2,371.2 162.6,371.6 163.0,372.0 163.3,372.4 163.7,372.8 164.1,373.3 164.5,373.7 164.9,374.1 165.3,374.5 165.6,374.9 166.0,375.3 166.4,375.7 166.8,376.1 167.2,376.5 167.6,376.9 168.0,377.3 168.3,377.7 168.7,378.2 169.1,378.6 169.5,379.0 169.9,379.4 170.3,379.8 170.7,380.2 171.0,380.6 171.4,380.9 171.8,381.3 172.2,381.7 172.6,382.1 173.0,382.5 173.4,382.9 173.7,383.2 174.1,383.6 174.5,384.0 174.9,384.4 175.3,384.8 175.7,385.1 176.0,385.5 176.4,385.9 176.8,386.3 177.2,386.7 177.6,387.1 178.0,387.4 178.4,387.8 178.7,388.2 179.1,388.6 179.5,389.0 179.9,389.4 180.3,389.7 180.7,390.1 181.1,390.5 181.4,390.9 181.8,391.3 182.2,391.6 182.6,392.0 183.0,392.4 183.4,392.8 183.7,393.2 184.1,393.6 184.5,393.9 184.9,394.3 185.3,394.7 185.7,395.1 186.1,395.5 186.4,395.9 186.8,396.2 187.2,396.6 187.6,397.0 188.0,397.4 188.4,397.8 188.8,398.1 189.1,398.5 189.5,398.9 189.9,399.3 190.3,399.7 190.7,400.1 191.1,400.4 191.5,400.8 191.8,401.2 192.2,401.6 192.6,402.0 193.0,402.4 193.4,402.7 193.8,403.1 194.1,403.5 194.5,403.9 194.9,404.3 195.3,404.6 195.7,405.0 196.1,405.4 196.5,405.8 196.8,406.2 197.2,406.6 197.6,406.9 198.0,407.3 198.4,407.7 199.0,407.7 199.5,407.7 200.1,407.7 200.7,407.7 201.3,407.7 201.9,407.7 202.4,407.7 203.0,407.7 203.6,407.7 204.2,407.7 204.7,407.7 205.3,407.7 205.9,407.7 206.5,407.7 207.1,407.7 207.6,407.7 208.2,407.7 208.8,407.7 209.4,407.7 209.9,407.7 210.5,407.7 211.1,407.7 211.7,407.7 212.3,407.7 212.8,407.7 213.4,407.7 214.0,407.7 214.6,407.7 215.1,407.7 215.7,407.7 216.3,407.7 216.9,407.7 217.5,407.7 218.0,407.7 218.6,407.7 219.2,407.7 219.8,407.7 220.3,407.7 220.9,407.7 221.5,407.7 222.1,407.7 222.7,407.7 223.2,407.7 223.8,407.7 224.4,407.7 225.0,407.7 225.5,407.7 226.1,407.7 226.7,407.7 227.3,407.7 227.9,407.7 228.4,407.7 229.0,407.7 229.6,407.7 230.2,407.7 230.7,407.7 231.3,407.7 231.9,407.7 232.5,407.7 233.0,407.7 233.6,407.7 234.2,407.7 234.8,407.7 235.4,407.7 235.9,407.7 236.5,407.7 237.1,407.7 237.7,407.7 238.2,407.7 238.8,407.7 239.4,407.7 240.0,407.7 240.6,407.7 241.1,407.7 241.7,407.7 242.3,407.7 242.9,407.7 243.4,407.7 244.0,407.7 244.6,407.7 245.2,407.7 245.8,407.7 246.3,407.7 246.9,407.7 247.5,407.7 248.1,407.7 248.6,407.7 249.2,407.7 249.8,407.7 250.4,407.7 251.0,407.7 251.5,407.7 252.1,407.7 252.7,407.7 253.3,407.7 253.8,407.7 254.4,407.7 255.0,407.7 255.6,407.7 256.2,407.7 256.7,407.7 257.3,407.7 257.7,407.7" fill="none" stroke="#008000" stroke-width="0.955" stroke-linejoin="round" marker-start="url(#mCC)" marker-mid="url(#mCC)" marker-end="url(#mCC)"/>
<polyline points="39.7,245.6 40.1,245.9 40.5,246.2 40.9,246.5 41.2,246.8 41.6,247.1 42.0,247.4 42.4,247.7 42.8,248.0 43.2,248.3 43.6,248.6 43.9,248.9 44.3,249.2 44.7,249.5 45.1,249.8 45.5,250.1 45.9,250.4 46.2,250.7 46.6,251.0 47.0,251.3 47.4,251.6 47.8,251.9 48.2,252.2 48.6,252.5 48.9,252.8 49.3,253.1 49.7,253.4 50.1,253.7 50.5,254.0 50.9,254.3 51.3,254.6 51.6,254.9 52.0,255.2 52.4,255.5 52.8,255.8 53.2,256.1 53.6,256.4 54.0,256.7 54.3,257.0 54.7,257.3 55.1,257.6 55.5,257.9 55.9,258.2 56.3,258.5 56.6,258.8 57.0,259.1 57.4,259.4 57.8,259.7 58.2,260.0 58.6,260.3 59.0,260.6 59.3,260.9 59.7,261.2 60.1,261.5 60.5,261.8 60.9,262.1 61.3,262.4 61.7,262.7 62.0,263.0 62.4,263.3 62.8,263.6 63.2,263.9 63.6,264.2 64.0,264.5 64.4,264.8 64.7,265.1 65.1,265.4 65.5,265.7 65.9,266.0 66.3,266.3 66.7,266.6 67.0,266.9 67.4,267.2 67.8,267.5 68.2,267.8 68.6,268.1 69.0,268.4 69.4,268.7 69.7,269.0 70.1,269.3 70.5,269.6 70.9,269.9 71.3,270.2 71.7,270.5 72.1,270.8 72.4,271.1 72.8,271.4 73.2,271.7 73.6,272.0 74.0,272.3 74.4,272.6 74.7,272.9 75.1,273.2 75.5,273.5 75.9,273.8 76.3,274.1 76.7,274.4 77.1,274.7 77.4,275.0 77.8,275.3 78.2,275.6 78.6,275.9 79.0,276.2 79.4,276.5 79.8,276.8 80.1,277.1 80.5,277.4 80.9,277.7 81.3,278.0 81.7,278.3 82.1,278.6 82.5,278.9 82.8,279.2 83.2,279.5 83.6,279.8 84.0,280.1 84.4,280.4 84.8,280.7 85.1,281.0 85.5,281.3 85.9,281.6 86.3,281.9 86.7,282.2 87.1,282.5 87.5,282.8 87.8,283.1 88.2,283.4 88.6,283.7 89.0,284.0 89.4,284.3 89.8,284.6 90.2,284.9 90.5,285.2 90.9,285.5 91.3,285.8 91.7,286.1 92.1,286.4 92.5,286.7 92.9,287.0 93.2,287.3 93.6,287.6 94.0,287.9 94.4,288.2 94.8,288.5 95.2,288.8 95.5,289.1 95.9,289.4 96.3,289.7 96.7,290.0 97.1,290.3 97.5,290.6 97.9,290.9 98.2,291.2 98.6,291.5 99.0,291.8 99.4,292.1 99.8,292.4 100.2,292.7 100.6,293.0 100.9,293.3 101.3,293.6 101.7,293.9 102.1,294.2 102.5,294.5 102.9,294.8 103.3,295.1 103.6,295.4 104.0,295.7 104.4,296.0 104.8,296.3 105.2,296.6 105.6,296.9 105.9,297.2 106.3,297.5 106.7,297.8 107.1,298.1 107.5,298.4 107.9,298.7 108.3,299.0 108.6,299.3 109.0,299.6 109.4,299.9 109.8,300.2 110.2,300.5 110.6,300.8 111.0,301.1 111.3,301.4 111.7,301.7 112.1,302.0 112.5,302.3 112.9,302.7 113.3,303.0 113.7,303.3 114.0,303.6 114.4,303.9 114.8,304.2 115.2,304.5 115.6,304.8 116.0,305.1 116.3,305.4 116.7,305.7 117.1,306.0 117.5,306.3 117.9,306.6 118.3,306.9 118.7,307.2 119.0,307.5 119.4,307.8 119.8,308.1 120.2,308.4 120.6,308.7 121.0,309.0 121.4,309.3 121.7,309.6 122.1,309.9 122.5,310.2 122.9,310.5 123.3,310.8 123.7,311.1 124.0,311.4 124.4,311.7 124.8,312.0 125.2,312.3 125.6,312.6 126.0,312.9 126.4,313.2 126.7,313.5 127.1,313.8 127.5,314.1 127.9,314.4 128.3,314.7 128.7,315.0 129.1,315.3 129.4,315.6 129.8,315.9 130.2,316.2 130.6,316.5 131.0,316.8 131.4,317.1 131.8,317.4 132.1,317.7 132.5,318.0 132.9,318.3 133.3,318.6 133.7,318.9 134.1,319.2 134.4,319.5 134.8,319.8 135.2,320.1 135.6,320.4 136.0,320.7 136.4,321.0 136.8,321.3 137.1,321.6 137.5,321.9 137.9,322.2 138.3,322.5 138.7,322.8 139.1,323.1 139.5,323.4 139.8,323.7 140.2,324.0 140.6,324.3 141.0,324.6 141.4,324.9 141.8,325.2 142.2,325.5 142.5,325.8 142.9,326.1 143.3,326.4 143.7,326.7 144.1,327.0 144.5,327.3 144.8,327.6 145.2,327.9 145.6,328.2 146.0,328.5 146.4,328.8 146.8,329.1 147.2,329.4 147.5,329.7 147.9,330.0 148.3,330.3 148.7,330.6 149.1,330.9 149.5,331.2 149.9,331.5 150.2,331.8 150.6,332.1 151.0,332.4 151.4,332.7 151.8,333.0 152.2,333.3 152.6,333.6 152.9,333.9 153.3,334.2 153.7,334.5 154.1,334.8 154.5,335.1 154.9,335.4 155.2,335.7 155.6,336.0 156.0,336.3 156.4,336.6 156.8,336.9 157.2,337.2 157.6,337.5 157.9,337.8 158.3,338.1 158.7,338.4 159.1,338.7 159.5,339.0 159.9,339.3 160.3,339.6 160.6,339.9 161.0,340.2 161.4,340.5 161.8,340.8 162.2,341.1 162.6,341.4 163.0,341.7 163.3,342.0 163.7,342.3 164.1,342.6 164.5,342.9 164.9,343.2 165.3,343.5 165.6,343.8 166.0,344.1 166.4,344.4 166.8,344.7 167.2,345.0 167.6,345.3 168.0,345.6 168.3,345.9 168.7,346.2 169.1,346.5 169.5,346.8 169.9,347.1 170.3,347.4 170.7,347.7 171.0,348.0 171.4,348.3 171.8,348.6 172.2,348.9 172.6,349.2 173.0,349.5 173.4,349.8 173.7,350.1 174.1,350.4 174.5,350.7 174.9,351.0 175.3,351.3 175.7,351.7 176.0,352.0 176.4,352.3 176.8,352.6 177.2,352.9 177.6,353.2 178.0,353.5 178.4,353.8 178.7,354.1 179.1,354.4 179.5,354.7 179.9,355.0 180.3,355.4 180.7,355.7 181.1,356.0 181.4,356.3 181.8,356.6 182.2,356.9 182.6,357.2 183.0,357.5 183.4,357.8 183.7,358.1 184.1,358.4 184.5,358.7 184.9,359.1 185.3,359.4 185.7,359.7 186.1,360.0 186.4,360.4 186.8,360.7 187.2,361.1 187.6,361.4 188.0,361.8 188.4,362.1 188.8,362.5 189.1,362.9 189.5,363.2 189.9,363.6 190.3,363.9 190.7,364.3 191.1,364.6 191.5,365.0 191.8,365.3 192.2,365.7 192.6,366.1 193.0,366.4 193.4,366.8 193.8,367.1 194.1,367.6 194.5,368.1 194.9,368.5 195.3,369.0 195.7,369.5 196.1,369.9 196.5,370.4 196.8,370.9 197.2,371.3 197.6,371.9 198.0,372.4 198.4,373.0 198.8,373.6 199.2,374.2 199.5,374.8 199.9,375.3 200.3,375.9 200.7,376.5 201.1,377.1 201.5,377.6 201.9,378.2 202.2,378.8 202.6,379.4 203.0,380.0 203.4,380.5 203.8,381.1 204.2,381.7 204.5,382.3 204.9,382.9 205.1,383.3 205.3,383.7 205.5,384.1 205.7,384.5 205.9,384.9 206.1,385.3 206.3,385.7 206.5,386.0 206.7,386.4 206.9,386.8 207.1,387.2 207.2,387.6 207.4,388.0 207.6,388.4 207.8,388.8 208.0,389.2 208.2,389.5 208.4,389.9 208.6,390.3 208.8,390.7 209.0,391.1 209.2,391.5 209.4,391.9 209.6,392.3 209.7,392.6 209.9,393.0 210.1,393.4 210.3,394.1 210.5,394.7 210.7,395.4 210.9,396.0 211.1,396.7 211.3,397.4 211.5,398.0 211.7,398.7 211.9,399.3 212.1,400.0 212.3,400.6 212.4,401.3 212.6,401.9 212.8,402.6 213.0,403.6 213.2,404.6 213.4,405.7 213.6,406.7 213.8,407.7 214.4,407.7 214.9,407.7 215.5,407.7 216.1,407.7 216.7,407.7 217.3,407.7 217.8,407.7 218.4,407.7 219.0,407.7 219.6,407.7 220.1,407.7 220.7,407.7 221.3,407.7 221.9,407.7 222.5,407.7 223.0,407.7 223.6,407.7 224.2,407.7 224.8,407.7 225.3,407.7 225.9,407.7 226.5,407.7 227.1,407.7 227.7,407.7 228.2,407.7 228.8,407.7 229.4,407.7 230.0,407.7 230.5,407.7 231.1,407.7 231.7,407.7 232.3,407.7 232.9,407.7 233.4,407.7 234.0,407.7 234.6,407.7 235.2,407.7 235.7,407.7 236.3,407.7 236.9,407.7 237.5,407.7 238.1,407.7 238.6,407.7 239.2,407.7 239.8,407.7 240.4,407.7 240.9,407.7 241.5,407.7 242.1,407.7 242.7,407.7 243.3,407.7 243.8,407.7 244.4,407.7 245.0,407.7 245.6,407.7 246.1,407.7 246.7,407.7 247.3,407.7 247.9,407.7 248.5,407.7 249.0,407.7 249.6,407.7 250.2,407.7 250.8,407.7 251.3,407.7 251.9,407.7 252.5,407.7 253.1,407.7 253.7,407.7 254.2,407.7 254.8,407.7 255.4,407.7 256.0,407.7 256.5,407.7 257.1,407.7 257.7,407.7" fill="none" stroke="#bfbf00" stroke-width="0.955" stroke-linejoin="round" marker-start="url(#mLocalC)" marker-mid="url(#mLocalC)" marker-end="url(#mLocalC)"/>
<polyline points="39.7,245.6 39.9,245.7 40.1,245.9 40.3,246.0 40.5,246.2 40.7,246.3 40.9,246.4 41.0,246.6 41.2,246.7 41.4,246.9 41.6,247.0 41.8,247.2 42.0,247.3 42.2,247.5 42.4,247.6 42.6,247.8 42.8,247.9 43.0,248.1 43.2,248.2 43.4,248.4 43.6,248.5 43.7,248.7 43.9,248.8 44.1,249.0 44.3,249.1 44.5,249.3 44.7,249.4 44.9,249.6 45.1,249.7 45.3,249.9 45.5,250.0 45.7,250.1 45.9,250.3 46.1,250.4 46.2,250.6 46.4,250.7 46.6,250.9 46.8,251.0 47.0,251.2 47.2,251.3 47.4,251.5 47.6,251.6 47.8,251.8 48.0,251.9 48.2,252.1 48.4,252.2 48.6,252.4 48.8,252.5 48.9,252.7 49.1,252.8 49.3,253.0 49.5,253.1 49.7,253.3 49.9,253.4 50.1,253.5 50.3,253.7 50.5,253.8 50.7,254.0 50.9,254.1 51.1,254.3 51.3,254.4 51.4,254.6 51.6,254.7 51.8,254.9 52.0,255.0 52.2,255.2 52.4,255.3 52.6,255.5 52.8,255.6 53.0,255.8 53.2,255.9 53.4,256.1 53.6,256.2 53.8,256.4 54.0,256.5 54.1,256.7 54.3,256.8 54.5,257.0 54.7,257.1 54.9,257.2 55.1,257.4 55.3,257.5 55.5,257.7 55.7,257.8 55.9,258.0 56.1,258.1 56.3,258.3 56.5,258.4 56.6,258.6 56.8,258.7 57.0,258.9 57.2,259.0 57.4,259.2 57.6,259.3 57.8,259.5 58.0,259.6 58.2,259.8 58.4,259.9 58.6,260.1 58.8,260.2 59.0,260.4 59.2,260.5 59.3,260.6 59.5,260.8 59.7,260.9 59.9,261.1 60.1,261.2 60.3,261.4 60.5,261.5 60.7,261.7 60.9,261.8 61.1,262.0 61.3,262.1 61.5,262.3 61.7,262.4 61.8,262.6 62.0,262.7 62.2,262.9 62.4,263.0 62.6,263.2 62.8,263.3 63.0,263.5 63.2,263.6 63.4,263.8 63.6,263.9 63.8,264.1 64.0,264.2 64.2,264.3 64.4,264.5 64.5,264.6 64.7,264.8 64.9,264.9 65.1,265.1 65.3,265.2 65.5,265.4 65.7,265.5 65.9,265.7 66.1,265.8 66.3,266.0 66.5,266.1 66.7,266.3 66.9,266.4 67.0,266.6 67.2,266.7 67.4,266.9 67.6,267.0 67.8,267.2 68.0,267.3 68.2,267.5 68.4,267.6 68.6,267.7 68.8,267.9 69.0,268.0 69.2,268.2 69.4,268.3 69.5,268.5 69.7,268.6 69.9,268.8 70.1,268.9 70.3,269.1 70.5,269.2 70.7,269.4 70.9,269.5 71.1,269.7 71.3,269.8 71.5,270.0 71.7,270.1 71.9,270.3 72.1,270.4 72.2,270.6 72.4,270.7 72.6,270.9 72.8,271.0 73.0,271.2 73.2,271.3 73.4,271.4 73.6,271.6 73.8,271.7 74.0,271.9 74.2,272.0 74.4,272.2 74.6,272.3 74.7,272.5 74.9,272.6 75.1,272.8 75.3,272.9 75.5,273.1 75.7,273.2 75.9,273.4 76.1,273.5 76.3,273.7 76.5,273.8 76.7,274.0 76.9,274.1 77.1,274.3 77.3,274.4 77.4,274.6 77.6,274.7 77.8,274.8 78.0,275.0 78.2,275.1 78.4,275.3 78.6,275.4 78.8,275.6 79.0,275.7 79.2,275.9 79.4,276.0 79.6,276.2 79.8,276.3 79.9,276.5 80.1,276.6 80.3,276.8 80.5,276.9 80.7,277.1 80.9,277.2 81.1,277.4 81.3,277.5 81.5,277.7 81.7,277.8 81.9,278.0 82.1,278.1 82.3,278.3 82.5,278.4 82.6,278.5 82.8,278.7 83.0,278.8 83.2,279.0 83.4,279.1 83.6,279.3 83.8,279.4 84.0,279.6 84.2,279.7 84.4,279.9 84.6,280.0 84.8,280.2 85.0,280.3 85.1,280.5 85.3,280.6 85.5,280.8 85.7,280.9 85.9,281.1 86.1,281.2 86.3,281.4 86.5,281.5 86.7,281.7 86.9,281.8 87.1,281.9 87.3,282.1 87.5,282.2 87.7,282.4 87.8,282.5 88.0,282.7 88.2,282.8 88.4,283.0 88.6,283.1 88.8,283.3 89.0,283.4 89.2,283.6 89.4,283.7 89.6,283.9 89.8,284.0 90.0,284.2 90.2,284.3 90.3,284.5 90.5,284.6 90.7,284.8 90.9,284.9 91.1,285.1 91.3,285.2 91.5,285.4 91.7,285.5 91.9,285.6 92.1,285.8 92.3,285.9 92.5,286.1 92.7,286.2 92.9,286.4 93.0,286.5 93.2,286.7 93.4,286.8 93.6,287.0 93.8,287.1 94.0,287.3 94.2,287.4 94.4,287.6 94.6,287.7 94.8,287.9 95.0,288.0 95.2,288.2 95.4,288.3 95.5,288.5 95.7,288.6 95.9,288.8 96.1,288.9 96.3,289.1 96.5,289.2 96.7,289.3 96.9,289.5 97.1,289.6 97.3,289.8 97.5,289.9 97.7,290.1 97.9,290.2 98.1,290.4 98.2,290.5 98.4,290.7 98.6,290.8 98.8,291.0 99.0,291.1 99.2,291.3 99.4,291.5 99.6,291.6 99.8,291.8 100.0,291.9 100.2,292.1 100.4,292.2 100.6,292.4 100.7,292.5 100.9,292.7 101.1,292.8 101.3,293.0 101.5,293.1 101.7,293.3 101.9,293.4 102.1,293.6 102.3,293.7 102.5,293.9 102.7,294.0 102.9,294.2 103.1,294.3 103.3,294.5 103.4,294.6 103.6,294.8 103.8,294.9 104.0,295.1 104.2,295.2 104.4,295.4 104.6,295.5 104.8,295.7 105.0,295.8 105.2,296.0 105.4,296.1 105.6,296.3 105.8,296.4 105.9,296.6 106.1,296.7 106.3,296.9 106.5,297.0 106.7,297.2 106.9,297.3 107.1,297.5 107.3,297.6 107.5,297.8 107.7,297.9 107.9,298.1 108.1,298.2 108.3,298.4 108.5,298.5 108.6,298.7 108.8,298.8 109.0,299.0 109.2,299.1 109.4,299.3 109.6,299.5 109.8,299.6 110.0,299.8 110.2,299.9 110.4,300.1 110.6,300.2 110.8,300.4 111.0,300.5 111.1,300.7 111.3,300.8 111.5,301.0 111.7,301.1 111.9,301.3 112.1,301.4 112.3,301.6 112.5,301.7 112.7,301.9 112.9,302.0 113.1,302.2 113.3,302.3 113.5,302.5 113.7,302.6 113.8,302.8 114.0,302.9 114.2,303.1 114.4,303.2 114.6,303.4 114.8,303.5 115.0,303.7 115.2,303.8 115.4,304.0 115.6,304.1 115.8,304.3 116.0,304.4 116.2,304.6 116.3,304.7 116.5,304.9 116.7,305.0 116.9,305.2 117.1,305.3 117.3,305.5 117.5,305.6 117.7,305.8 117.9,305.9 118.1,306.1 118.3,306.2 118.5,306.4 118.7,306.5 118.9,306.7 119.0,306.8 119.2,307.0 119.4,307.1 119.6,307.3 119.8,307.5 120.0,307.6 120.2,307.8 120.4,307.9 120.6,308.1 120.8,308.2 121.0,308.4 121.2,308.5 121.4,308.7 121.5,308.8 121.7,309.0 121.9,309.1 122.1,309.3 122.3,309.4 122.5,309.6 122.7,309.7 122.9,309.9 123.1,310.0 123.3,310.2 123.5,310.3 123.7,310.5 123.9,310.6 124.0,310.8 124.2,310.9 124.4,311.1 124.6,311.2 124.8,311.4 125.0,311.5 125.2,311.7 125.4,311.8 125.6,312.0 125.8,312.1 126.0,312.3 126.2,312.4 126.4,312.6 126.6,312.7 126.7,312.9 126.9,313.0 127.1,313.2 127.3,313.3 127.5,313.5 127.7,313.6 127.9,313.8 128.1,313.9 128.3,314.1 128.5,314.2 128.7,314.4 128.9,314.5 129.1,314.7 129.2,314.8 129.4,315.0 129.6,315.1 129.8,315.3 130.0,315.5 130.2,315.6 130.4,315.8 130.6,315.9 130.8,316.1 131.0,316.2 131.2,316.4 131.4,316.5 131.6,316.7 131.8,316.8 131.9,317.0 132.1,317.1 132.3,317.3 132.5,317.4 132.7,317.6 132.9,317.7 133.1,317.9 133.3,318.0 133.5,318.2 133.7,318.3 133.9,318.5 134.1,318.6 134.3,318.8 134.4,318.9 134.6,319.1 134.8,319.2 135.0,319.4 135.2,319.5 135.4,319.7 135.6,319.8 135.8,320.0 136.0,320.2 136.2,320.3 136.4,320.5 136.6,320.7 136.8,320.9 137.0,321.0 137.1,321.2 137.3,321.4 137.5,321.6 137.7,321.8 137.9,321.9 138.1,322.1 138.3,322.3 138.5,322.5 138.7,322.7 138.9,322.8 139.1,323.0 139.3,323.2 139.5,323.4 139.6,323.5 139.8,323.7 140.0,323.9 140.2,324.1 140.4,324.3 140.6,324.4 140.8,324.6 141.0,324.8 141.2,325.0 141.4,325.2 141.6,325.3 141.8,325.5 142.0,325.7 142.2,325.9 142.3,326.0 142.5,326.2 142.7,326.4 142.9,326.6 143.1,326.8 143.3,326.9 143.5,327.1 143.7,327.3 143.9,327.5 144.1,327.6 144.3,327.8 144.5,328.0 144.7,328.2 144.8,328.4 145.0,328.5 145.2,328.7 145.4,328.9 145.6,329.1 145.8,329.3 146.0,329.4 146.2,329.6 146.4,329.8 146.6,330.0 146.8,330.1 147.0,330.3 147.2,330.5 147.4,330.7 147.5,330.9 147.7,331.0 147.9,331.2 148.1,331.4 148.3,331.6 148.5,331.7 148.7,331.9 148.9,332.1 149.1,332.3 149.3,332.4 149.5,332.6 149.7,332.8 149.9,333.0 150.0,333.1 150.2,333.3 150.4,333.5 150.6,333.7 150.8,333.8 151.0,334.0 151.2,334.2 151.4,334.4 151.6,334.5 151.8,334.7 152.0,334.9 152.2,335.1 152.4,335.2 152.6,335.4 152.7,335.6 152.9,335.8 153.1,335.9 153.3,336.1 153.5,336.3 153.7,336.5 153.9,336.6 154.1,336.8 154.3,337.0 154.5,337.2 154.7,337.3 154.9,337.5 155.1,337.7 155.2,337.8 155.4,338.0 155.6,338.2 155.8,338.4 156.0,338.5 156.2,338.7 156.4,338.9 156.6,339.1 156.8,339.2 157.0,339.4 157.2,339.6 157.4,339.8 157.6,339.9 157.8,340.1 157.9,340.3 158.1,340.5 158.3,340.6 158.5,340.8 158.7,341.0 158.9,341.2 159.1,341.3 159.3,341.5 159.5,341.7 159.7,341.8 159.9,342.0 160.1,342.2 160.3,342.3 160.4,342.5 160.6,342.7 160.8,342.8 161.0,343.0 161.2,343.2 161.4,343.3 161.6,343.5 161.8,343.7 162.0,343.8 162.2,344.0 162.4,344.2 162.6,344.3 162.8,344.5 163.0,344.7 163.1,344.9 163.3,345.0 163.5,345.2 163.7,345.4 163.9,345.5 164.1,345.7 164.3,345.9 164.5,346.0 164.7,346.2 164.9,346.4 165.1,346.5 165.3,346.7 165.5,346.9 165.6,347.0 165.8,347.2 166.0,347.4 166.2,347.5 166.4,347.7 166.6,347.9 166.8,348.0 167.0,348.2 167.2,348.4 167.4,348.5 167.6,348.7 167.8,348.9 168.0,349.0 168.2,349.2 168.3,349.4 168.5,349.6 168.7,349.7 168.9,349.9 169.1,350.1 169.3,350.2 169.5,350.4 169.7,350.6 169.9,350.7 170.1,350.9 170.3,351.1 170.5,351.2 170.7,351.4 170.8,351.6 171.0,351.7 171.2,351.9 171.4,352.1 171.6,352.3 171.8,352.4 172.0,352.6 172.2,352.8 172.4,352.9 172.6,353.1 172.8,353.3 173.0,353.5 173.2,353.6 173.4,353.8 173.5,354.0 173.7,354.1 173.9,354.3 174.1,354.5 174.3,354.7 174.5,354.8 174.7,355.0 174.9,355.2 175.1,355.3 175.3,355.5 175.5,355.7 175.7,355.9 175.9,356.0 176.0,356.2 176.2,356.4 176.4,356.5 176.6,356.7 176.8,356.9 177.0,357.0 177.2,357.2 177.4,357.4 177.6,357.6 177.8,357.7 178.0,357.9 178.2,358.1 178.4,358.2 178.5,358.4 178.7,358.6 178.9,358.8 179.1,358.9 179.3,359.1 179.5,359.3 179.7,359.4 179.9,359.6 180.1,359.8 180.3,360.0 180.5,360.1 180.7,360.3 180.9,360.5 181.1,360.6 181.2,360.9 181.4,361.2 181.6,361.5 181.8,361.7 182.0,362.0 182.2,362.3 182.4,362.5 182.6,362.8 182.8,363.1 183.0,363.3 183.2,363.6 183.4,363.9 183.6,364.2 183.7,364.4 183.9,364.7 184.1,365.0 184.3,365.2 184.5,365.5 184.7,365.8 184.9,366.1 185.1,366.3 185.3,366.6 185.5,366.9 185.7,367.1 185.9,367.4 186.1,367.7 186.3,368.0 186.4,368.2 186.6,368.5 186.8,368.8 187.0,369.0 187.2,369.3 187.4,369.6 187.6,369.9 187.8,370.1 188.0,370.4 188.2,370.7 188.4,370.9 188.6,371.2 188.8,371.5 188.9,371.8 189.1,372.0 189.3,372.3 189.5,372.6 189.7,372.8 189.9,373.1 190.1,373.4 190.3,373.8 190.5,374.3 190.7,374.7 190.9,375.2 191.1,375.7 191.3,376.1 191.5,376.6 191.6,377.0 191.8,377.5 192.0,377.9 192.2,378.4 192.4,378.9 192.6,379.3 192.8,379.8 193.0,380.2 193.2,380.7 193.4,381.1 193.6,381.6 193.8,382.1 194.0,382.5 194.1,383.0 194.3,383.4 194.5,383.9 194.7,384.3 194.9,385.1 195.1,385.9 195.3,386.7 195.5,387.5 195.7,388.2 195.9,389.0 196.1,389.8 196.3,390.6 196.5,391.4 196.7,392.1 196.8,392.9 197.0,393.7 197.2,394.5 197.4,395.3 197.6,396.2 197.8,397.1 198.0,398.0 198.2,398.9 198.4,399.9 198.6,400.8 198.8,401.7 199.0,402.6 199.2,403.5 199.3,404.5 199.5,405.3 199.7,406.1 199.9,406.9 200.1,407.7 200.5,407.7 200.9,407.7 201.3,407.7 201.7,407.7 202.0,407.7 202.4,407.7 202.8,407.7 203.2,407.7 203.6,407.7 204.0,407.7 204.4,407.7 204.7,407.7 205.1,407.7 205.5,407.7 205.9,407.7 206.3,407.7 206.7,407.7 207.1,407.7 207.4,407.7 207.8,407.7 208.2,407.7 208.6,407.7 209.0,407.7 209.4,407.7 209.7,407.7 210.1,407.7 210.5,407.7 210.9,407.7 211.3,407.7 211.7,407.7 212.1,407.7 212.4,407.7 212.8,407.7 213.2,407.7 213.6,407.7 214.0,407.7 214.4,407.7 214.8,407.7 215.1,407.7 215.5,407.7 215.9,407.7 216.3,407.7 216.7,407.7 217.1,407.7 217.5,407.7 217.8,407.7 218.2,407.7 218.6,407.7 219.0,407.7 219.4,407.7 219.8,407.7 220.1,407.7 220.5,407.7 220.9,407.7 221.3,407.7 221.7,407.7 222.1,407.7 222.5,407.7 222.8,407.7 223.2,407.7 223.6,407.7 224.0,407.7 224.4,407.7 224.8,407.7 225.2,407.7 225.5,407.7 225.9,407.7 226.3,407.7 226.7,407.7 227.1,407.7 227.5,407.7 227.9,407.7 228.2,407.7 228.6,407.7 229.0,407.7 229.4,407.7 229.8,407.7 230.2,407.7 230.5,407.7 230.9,407.7 231.3,407.7 231.7,407.7 232.1,407.7 232.5,407.7 232.9,407.7 233.2,407.7 233.6,407.7 234.0,407.7 234.4,407.7 234.8,407.7 235.2,407.7 235.6,407.7 235.9,407.7 236.3,407.7 236.7,407.7 237.1,407.7 237.5,407.7 237.9,407.7 238.2,407.7 238.6,407.7 239.0,407.7 239.4,407.7 239.8,407.7 240.2,407.7 240.6,407.7 240.9,407.7 241.3,407.7 241.7,407.7 242.1,407.7 242.5,407.7 242.9,407.7 243.3,407.7 243.6,407.7 244.0,407.7 244.4,407.7 244.8,407.7 245.2,407.7 245.6,407.7 246.0,407.7 246.3,407.7 246.7,407.7 247.1,407.7 247.5,407.7 247.9,407.7 248.3,407.7 248.6,407.7 249.0,407.7 249.4,407.7 249.8,407.7 250.2,407.7 250.6,407.7 251.0,407.7 251.3,407.7 251.7,407.7 252.1,407.7 252.5,407.7 252.9,407.7 253.3,407.7 253.7,407.7 254.0,407.7 254.4,407.7 254.8,407.7 255.2,407.7 255.6,407.7 256.0,407.7 256.4,407.7 256.7,407.7 257.1,407.7 257.5,407.7 257.7,407.7" fill="none" stroke="#000000" stroke-width="0.955" stroke-dasharray="6.11 1.53 0.955 1.53" stroke-linejoin="round" marker-start="url(#mCLD)" marker-mid="url(#mCLD)" marker-end="url(#mCLD)"/>
<polyline points="39.7,245.6 40.1,245.9 40.5,246.2 40.9,246.5 41.2,246.8 41.6,247.1 42.0,247.4 42.4,247.7 42.8,248.0 43.2,248.3 43.6,248.6 43.9,248.9 44.3,249.2 44.7,249.5 45.1,249.8 45.5,250.1 45.9,250.4 46.2,250.7 46.6,251.0 47.0,251.3 47.4,251.6 47.8,251.9 48.2,252.2 48.6,252.5 48.9,252.8 49.3,253.1 49.7,253.4 50.1,253.7 50.5,254.0 50.9,254.3 51.3,254.6 51.6,254.9 52.0,255.2 52.4,255.5 52.8,255.8 53.2,256.1 53.6,256.4 54.0,256.7 54.3,257.0 54.7,257.3 55.1,257.6 55.5,257.9 55.9,258.2 56.3,258.5 56.6,258.8 57.0,259.1 57.4,259.4 57.8,259.7 58.2,260.0 58.6,260.3 59.0,260.6 59.3,260.9 59.7,261.2 60.1,261.5 60.5,261.8 60.9,262.1 61.3,262.4 61.7,262.7 62.0,263.0 62.4,263.3 62.8,263.6 63.2,263.9 63.6,264.2 64.0,264.5 64.4,264.8 64.7,265.1 65.1,265.4 65.5,265.7 65.9,266.0 66.3,266.3 66.7,266.6 67.0,266.9 67.4,267.2 67.8,267.5 68.2,267.8 68.6,268.1 69.0,268.4 69.4,268.7 69.7,269.0 70.1,269.3 70.5,269.6 70.9,269.9 71.3,270.2 71.7,270.5 72.1,270.8 72.4,271.1 72.8,271.4 73.2,271.7 73.6,272.0 74.0,272.3 74.4,272.6 74.7,272.9 75.1,273.2 75.5,273.5 75.9,273.8 76.3,274.1 76.7,274.4 77.1,274.7 77.4,275.0 77.8,275.3 78.2,275.6 78.6,275.9 79.0,276.2 79.4,276.5 79.8,276.8 80.1,277.1 80.5,277.4 80.9,277.7 81.3,278.0 81.7,278.3 82.1,278.6 82.5,278.9 82.8,279.2 83.2,279.5 83.6,279.8 84.0,280.1 84.4,280.4 84.8,280.7 85.1,281.0 85.5,281.3 85.9,281.6 86.3,281.9 86.7,282.3 87.1,282.6 87.5,282.9 87.8,283.2 88.2,283.5 88.6,283.8 89.0,284.1 89.4,284.4 89.8,284.7 90.2,285.0 90.5,285.3 90.9,285.6 91.3,285.9 91.7,286.2 92.1,286.5 92.5,286.8 92.9,287.1 93.2,287.4 93.6,287.7 94.0,288.0 94.4,288.3 94.8,288.6 95.2,288.9 95.5,289.2 95.9,289.5 96.3,289.8 96.7,290.1 97.1,290.4 97.5,290.7 97.9,291.0 98.2,291.3 98.6,291.6 99.0,291.9 99.4,292.2 99.8,292.5 100.2,292.8 100.6,293.1 100.9,293.4 101.3,293.7 101.7,294.0 102.1,294.3 102.5,294.6 102.9,294.9 103.3,295.2 103.6,295.5 104.0,295.8 104.4,296.1 104.8,296.4 105.2,296.7 105.6,297.0 105.9,297.3 106.3,297.6 106.7,297.9 107.1,298.2 107.5,298.5 107.9,298.8 108.3,299.1 108.6,299.4 109.0,299.7 109.4,300.0 109.8,300.3 110.2,300.6 110.6,300.9 111.0,301.2 111.3,301.5 111.7,301.8 112.1,302.1 112.5,302.4 112.9,302.7 113.3,303.0 113.7,303.3 114.0,303.6 114.4,303.9 114.8,304.2 115.2,304.5 115.6,304.7 116.0,305.0 116.3,305.3 116.7,305.6 117.1,305.9 117.5,306.2 117.9,306.5 118.3,306.8 118.7,307.1 119.0,307.4 119.4,307.7 119.8,308.0 120.2,308.3 120.6,308.6 121.0,308.9 121.4,309.2 121.7,309.5 122.1,309.8 122.5,310.1 122.9,310.4 123.3,310.7 123.7,311.0 124.0,311.3 124.4,311.6 124.8,311.9 125.2,312.2 125.6,312.5 126.0,312.8 126.4,313.0 126.7,313.3 127.1,313.6 127.5,313.9 127.9,314.2 128.3,314.5 128.7,314.8 129.1,315.1 129.4,315.4 129.8,315.7 130.2,316.0 130.6,316.3 131.0,316.6 131.4,316.9 131.8,317.2 132.1,317.5 132.5,317.8 132.9,318.1 133.3,318.4 133.7,318.7 134.1,319.0 134.4,319.3 134.8,319.6 135.2,319.9 135.6,320.2 136.0,320.5 136.4,320.8 136.8,321.1 137.1,321.3 137.5,321.6 137.9,321.9 138.3,322.2 138.7,322.5 139.1,322.8 139.5,323.1 139.8,323.4 140.2,323.7 140.6,324.0 141.0,324.3 141.4,324.6 141.8,324.9 142.2,325.2 142.5,325.5 142.9,325.8 143.3,326.1 143.7,326.4 144.1,326.7 144.5,327.0 144.8,327.3 145.2,327.6 145.6,327.9 146.0,328.2 146.4,328.5 146.8,328.8 147.2,329.1 147.5,329.4 147.9,329.6 148.3,329.9 148.7,330.2 149.1,330.5 149.5,330.8 149.9,331.1 150.2,331.4 150.6,331.7 151.0,332.0 151.4,332.3 151.8,332.6 152.2,332.9 152.6,333.2 152.9,333.5 153.3,333.8 153.7,334.1 154.1,334.4 154.5,334.7 154.9,335.0 155.2,335.3 155.6,335.6 156.0,335.9 156.4,336.2 156.8,336.5 157.2,336.8 157.6,337.1 157.9,337.4 158.3,337.7 158.7,337.9 159.1,338.2 159.5,338.5 159.9,338.8 160.3,339.1 160.6,339.4 161.0,339.7 161.4,340.0 161.8,340.3 162.2,340.6 162.6,340.9 163.0,341.2 163.3,341.5 163.7,341.8 164.1,342.1 164.5,342.4 164.9,342.7 165.3,343.0 165.6,343.3 166.0,343.6 166.4,343.9 166.8,344.2 167.2,344.5 167.6,344.8 168.0,345.1 168.3,345.4 168.7,345.7 169.1,346.0 169.5,346.2 169.9,346.5 170.3,346.8 170.7,347.1 171.0,347.4 171.4,347.6 171.8,347.9 172.2,348.1 172.6,348.4 173.0,348.7 173.4,348.9 173.7,349.2 174.1,349.4 174.5,349.7 174.9,350.0 175.3,350.2 175.7,350.5 176.0,350.8 176.4,351.0 176.8,351.3 177.2,351.5 177.6,351.8 178.0,352.1 178.4,352.3 178.7,352.6 179.1,352.8 179.5,353.1 179.9,353.4 180.3,353.6 180.7,353.9 181.1,354.1 181.4,354.4 181.8,354.7 182.2,354.9 182.6,355.2 183.0,355.4 183.4,355.7 183.7,356.0 184.1,356.2 184.5,356.5 184.9,356.7 185.3,357.0 185.7,357.2 186.1,357.5 186.4,357.7 186.8,358.0 187.2,358.2 187.6,358.5 188.0,358.7 188.4,359.0 188.8,359.2 189.1,359.5 189.5,359.7 189.9,360.0 190.3,360.2 190.7,360.5 191.1,360.7 191.5,361.0 191.8,361.2 192.2,361.5 192.6,361.7 193.0,362.0 193.4,362.2 193.8,362.5 194.1,362.7 194.5,363.0 194.9,363.2 195.3,363.5 195.7,363.7 196.1,364.0 196.5,364.2 196.8,364.5 197.2,364.7 197.6,365.0 198.0,365.3 198.4,365.6 198.8,365.8 199.2,366.1 199.5,366.4 199.9,366.7 200.3,367.0 200.7,367.2 201.1,367.5 201.5,367.8 201.9,368.1 202.2,368.3 202.6,368.6 203.0,368.9 203.4,369.2 203.8,369.5 204.2,369.7 204.5,370.0 204.9,370.3 205.3,370.6 205.7,370.9 206.1,371.1 206.5,371.4 206.9,371.7 207.2,372.0 207.6,372.3 208.0,372.6 208.4,372.9 208.8,373.2 209.2,373.5 209.6,373.9 209.9,374.2 210.3,374.5 210.7,374.8 211.1,375.1 211.5,375.4 211.9,375.7 212.3,376.0 212.6,376.3 213.0,376.6 213.4,377.0 213.8,377.3 214.2,377.6 214.6,377.9 214.9,378.2 215.3,378.5 215.7,378.8 216.1,379.1 216.5,379.4 216.9,379.7 217.3,380.1 217.6,380.4 218.0,380.7 218.4,381.0 218.8,381.3 219.2,381.6 219.6,381.9 220.0,382.2 220.3,382.5 220.7,382.9 221.1,383.2 221.5,383.5 221.9,383.8 222.3,384.1 222.7,384.4 223.0,384.7 223.4,385.0 223.8,385.3 224.2,385.6 224.6,386.0 225.0,386.3 225.3,386.6 225.7,386.9 226.1,387.3 226.5,387.6 226.9,387.9 227.3,388.2 227.7,388.6 228.0,388.9 228.4,389.2 228.8,389.5 229.2,389.9 229.6,390.2 230.0,390.5 230.4,390.8 230.7,391.2 231.1,391.5 231.5,391.8 231.9,392.1 232.3,392.5 232.7,392.8 233.0,393.1 233.4,393.5 233.8,393.8 234.2,394.1 234.6,394.5 235.0,394.8 235.4,395.2 235.7,395.5 236.1,395.8 236.5,396.2 236.9,396.5 237.3,396.8 237.7,397.2 238.1,397.5 238.4,397.8 238.8,398.2 239.2,398.5 239.6,398.9 240.0,399.2 240.4,399.6 240.8,400.0 241.1,400.3 241.5,400.7 241.9,401.0 242.3,401.4 242.7,401.7 243.1,402.1 243.4,402.5 243.8,402.9 244.2,403.3 244.6,403.8 245.0,404.2 245.4,404.6 245.8,405.1 246.1,405.6 246.5,406.1 246.9,406.6 247.3,407.2 247.7,407.7 248.3,407.7 248.8,407.7 249.4,407.7 250.0,407.7 250.6,407.7 251.2,407.7 251.7,407.7 252.3,407.7 252.9,407.7 253.5,407.7 254.0,407.7 254.6,407.7 255.2,407.7 255.8,407.7 256.4,407.7 256.9,407.7 257.5,407.7 257.7,407.7" fill="none" stroke="#ff0000" stroke-width="0.955" stroke-dasharray="0.955 1.576" stroke-linejoin="round" marker-start="url(#mLWC)" marker-mid="url(#mLWC)" marker-end="url(#mLWC)"/>
</g>
<rect x="28.8" y="237.45" width="239.8" height="178.0" fill="none" stroke="#000" stroke-width="0.5"/>
<path d="M39.51,415.45v2.23" stroke="#000" stroke-width="0.5"/>
<text x="39.51" y="425.58" text-anchor="middle" class="tk">0</text>
<path d="M78.02,415.45v2.23" stroke="#000" stroke-width="0.5"/>
<text x="78.02" y="425.58" text-anchor="middle" class="tk">200</text>
<path d="M116.54,415.45v2.23" stroke="#000" stroke-width="0.5"/>
<text x="116.54" y="425.58" text-anchor="middle" class="tk">400</text>
<path d="M155.06,415.45v2.23" stroke="#000" stroke-width="0.5"/>
<text x="155.06" y="425.58" text-anchor="middle" class="tk">600</text>
<path d="M193.57,415.45v2.23" stroke="#000" stroke-width="0.5"/>
<text x="193.57" y="425.58" text-anchor="middle" class="tk">800</text>
<path d="M232.09,415.45v2.23" stroke="#000" stroke-width="0.5"/>
<text x="232.09" y="425.58" text-anchor="middle" class="tk">1000</text>
<path d="M28.8,407.71h-2.23" stroke="#000" stroke-width="0.5"/>
<text x="24.07" y="410.16" text-anchor="end" class="tk">0.0</text>
<path d="M28.8,375.25h-2.23" stroke="#000" stroke-width="0.5"/>
<text x="24.07" y="377.70" text-anchor="end" class="tk">0.2</text>
<path d="M28.8,342.78h-2.23" stroke="#000" stroke-width="0.5"/>
<text x="24.07" y="345.23" text-anchor="end" class="tk">0.4</text>
<path d="M28.8,310.32h-2.23" stroke="#000" stroke-width="0.5"/>
<text x="24.07" y="312.77" text-anchor="end" class="tk">0.6</text>
<path d="M28.8,277.86h-2.23" stroke="#000" stroke-width="0.5"/>
<text x="24.07" y="280.31" text-anchor="end" class="tk">0.8</text>
<path d="M28.8,245.40h-2.23" stroke="#000" stroke-width="0.5"/>
<text x="24.07" y="247.85" text-anchor="end" class="tk">1.0</text>
<text x="148.70" y="434.55" text-anchor="middle" class="lb">rank</text>
<text transform="translate(9.70,327.35) rotate(-90)" text-anchor="middle" class="lb">CCDF</text>
<text x="148.70" y="447.25" text-anchor="middle" class="tt">(c) Email</text>
<rect x="216.80000000000004" y="240.64999999999998" width="48.599999999999994" height="61.60000000000002" rx="1.3" fill="#fff" fill-opacity="0.8" stroke="#ccc" stroke-opacity="0.8" stroke-width="0.55"/>
<polyline points="219.2,245.9 226.2,245.9 233.1,245.9" fill="none" stroke="#0000ff" stroke-width="1.1" stroke-dasharray="3.53 1.53" marker-mid="url(#lDegree)"/>
<text x="238.2" y="248.2" class="lg">Degree</text>
<polyline points="219.2,256.0 226.2,256.0 233.1,256.0" fill="none" stroke="#00bfbf" stroke-width="1.1" stroke-dasharray="0.955 1.576" marker-mid="url(#lBC)"/>
<text x="238.2" y="258.3" class="lg">BC</text>
<polyline points="219.2,266.2 226.2,266.2 233.1,266.2" fill="none" stroke="#008000" stroke-width="1.1" marker-mid="url(#lCC)"/>
<text x="238.2" y="268.5" class="lg">CC</text>
<polyline points="219.2,276.3 226.2,276.3 233.1,276.3" fill="none" stroke="#bfbf00" stroke-width="1.1" marker-mid="url(#lLocalC)"/>
<text x="238.2" y="278.6" class="lg">LocalC</text>
<polyline points="219.2,286.4 226.2,286.4 233.1,286.4" fill="none" stroke="#000000" stroke-width="1.1" stroke-dasharray="6.11 1.53 0.955 1.53" marker-mid="url(#lCLD)"/>
<text x="238.2" y="288.7" class="lg">CLD</text>
<polyline points="219.2,296.5 226.2,296.5 233.1,296.5" fill="none" stroke="#ff0000" stroke-width="1.1" stroke-dasharray="0.955 1.576" marker-mid="url(#lLWC)"/>
<text x="238.2" y="298.8" class="lg">LWC</text>
<clipPath id="c307_237"><rect x="307.4" y="237.45" width="239.60000000000002" height="178.0"/></clipPath>
<g clip-path="url(#c307_237)">
<polyline points="318.3,245.5 318.4,246.2 318.5,246.8 318.6,248.1 318.6,249.6 318.6,251.7 318.7,254.4 318.7,257.7 318.8,265.0 318.8,277.9 318.9,313.6 318.9,367.8 319.0,407.7 319.4,407.7 319.8,407.7 320.3,407.7 320.7,407.7 321.2,407.7 321.6,407.7 322.0,407.7 322.5,407.7 322.9,407.7 323.4,407.7 323.8,407.7 324.2,407.7 324.7,407.7 325.1,407.7 325.6,407.7 326.0,407.7 326.4,407.7 326.9,407.7 327.3,407.7 327.8,407.7 328.2,407.7 328.7,407.7 329.1,407.7 329.5,407.7 330.0,407.7 330.4,407.7 330.9,407.7 331.3,407.7 331.7,407.7 332.2,407.7 332.6,407.7 333.1,407.7 333.5,407.7 333.9,407.7 334.4,407.7 334.8,407.7 335.3,407.7 335.7,407.7 336.1,407.7 336.6,407.7 337.0,407.7 337.5,407.7 337.9,407.7 338.4,407.7 338.8,407.7 339.2,407.7 339.7,407.7 340.1,407.7 340.6,407.7 341.0,407.7 341.4,407.7 341.9,407.7 342.3,407.7 342.8,407.7 343.2,407.7 343.6,407.7 344.1,407.7 344.5,407.7 345.0,407.7 345.4,407.7 345.8,407.7 346.3,407.7 346.7,407.7 347.2,407.7 347.6,407.7 348.1,407.7 348.5,407.7 348.9,407.7 349.4,407.7 349.8,407.7 350.3,407.7 350.7,407.7 351.1,407.7 351.6,407.7 352.0,407.7 352.5,407.7 352.9,407.7 353.3,407.7 353.8,407.7 354.2,407.7 354.7,407.7 355.1,407.7 355.5,407.7 356.0,407.7 356.4,407.7 356.9,407.7 357.3,407.7 357.8,407.7 358.2,407.7 358.6,407.7 359.1,407.7 359.5,407.7 360.0,407.7 360.4,407.7 360.8,407.7 361.3,407.7 361.7,407.7 362.2,407.7 362.6,407.7 363.0,407.7 363.5,407.7 363.9,407.7 364.4,407.7 364.8,407.7 365.2,407.7 365.7,407.7 366.1,407.7 366.6,407.7 367.0,407.7 367.5,407.7 367.9,407.7 368.3,407.7 368.8,407.7 369.2,407.7 369.7,407.7 370.1,407.7 370.5,407.7 371.0,407.7 371.4,407.7 371.9,407.7 372.3,407.7 372.7,407.7 373.2,407.7 373.6,407.7 374.1,407.7 374.5,407.7 375.0,407.7 375.4,407.7 375.8,407.7 376.3,407.7 376.7,407.7 377.2,407.7 377.6,407.7 378.0,407.7 378.5,407.7 378.9,407.7 379.4,407.7 379.8,407.7 380.2,407.7 380.7,407.7 381.1,407.7 381.6,407.7 382.0,407.7 382.4,407.7 382.9,407.7 383.3,407.7 383.8,407.7 384.2,407.7 384.7,407.7 385.1,407.7 385.5,407.7 386.0,407.7 386.4,407.7 386.9,407.7 387.3,407.7 387.7,407.7 388.2,407.7 388.6,407.7 389.1,407.7 389.5,407.7 389.9,407.7 390.4,407.7 390.8,407.7 391.3,407.7 391.7,407.7 392.1,407.7 392.6,407.7 393.0,407.7 393.5,407.7 393.9,407.7 394.4,407.7 394.8,407.7 395.2,407.7 395.7,407.7 396.1,407.7 396.6,407.7 397.0,407.7 397.4,407.7 397.9,407.7 398.3,407.7 398.8,407.7 399.2,407.7 399.6,407.7 400.1,407.7 400.5,407.7 401.0,407.7 401.4,407.7 401.8,407.7 402.3,407.7 402.7,407.7 403.2,407.7 403.6,407.7 404.1,407.7 404.5,407.7 404.9,407.7 405.4,407.7 405.8,407.7 406.3,407.7 406.7,407.7 407.1,407.7 407.6,407.7 408.0,407.7 408.5,407.7 408.9,407.7 409.3,407.7 409.8,407.7 410.2,407.7 410.7,407.7 411.1,407.7 411.5,407.7 412.0,407.7 412.4,407.7 412.9,407.7 413.3,407.7 413.8,407.7 414.2,407.7 414.6,407.7 415.1,407.7 415.5,407.7 416.0,407.7 416.4,407.7 416.8,407.7 417.3,407.7 417.7,407.7 418.2,407.7 418.6,407.7 419.0,407.7 419.5,407.7 419.9,407.7 420.4,407.7 420.8,407.7 421.2,407.7 421.7,407.7 422.1,407.7 422.6,407.7 423.0,407.7 423.5,407.7 423.9,407.7 424.3,407.7 424.8,407.7 425.2,407.7 425.7,407.7 426.1,407.7 426.5,407.7 427.0,407.7 427.4,407.7 427.9,407.7 428.3,407.7 428.7,407.7 429.2,407.7 429.6,407.7 430.1,407.7 430.5,407.7 430.9,407.7 431.4,407.7 431.8,407.7 432.3,407.7 432.7,407.7 433.2,407.7 433.6,407.7 434.0,407.7 434.5,407.7 434.9,407.7 435.4,407.7 435.8,407.7 436.2,407.7 436.7,407.7 437.1,407.7 437.6,407.7 438.0,407.7 438.4,407.7 438.9,407.7 439.3,407.7 439.8,407.7 440.2,407.7 440.6,407.7 441.1,407.7 441.5,407.7 442.0,407.7 442.4,407.7 442.9,407.7 443.3,407.7 443.7,407.7 444.2,407.7 444.6,407.7 445.1,407.7 445.5,407.7 445.9,407.7 446.4,407.7 446.8,407.7 447.3,407.7 447.7,407.7 448.1,407.7 448.6,407.7 449.0,407.7 449.5,407.7 449.9,407.7 450.3,407.7 450.8,407.7 451.2,407.7 451.7,407.7 452.1,407.7 452.6,407.7 453.0,407.7 453.4,407.7 453.9,407.7 454.3,407.7 454.8,407.7 455.2,407.7 455.6,407.7 456.1,407.7 456.5,407.7 457.0,407.7 457.4,407.7 457.8,407.7 458.3,407.7 458.7,407.7 459.2,407.7 459.6,407.7 460.0,407.7 460.5,407.7 460.9,407.7 461.4,407.7 461.8,407.7 462.3,407.7 462.7,407.7 463.1,407.7 463.6,407.7 464.0,407.7 464.5,407.7 464.9,407.7 465.3,407.7 465.8,407.7 466.2,407.7 466.7,407.7 467.1,407.7 467.5,407.7 468.0,407.7 468.4,407.7 468.9,407.7 469.3,407.7 469.7,407.7 470.2,407.7 470.6,407.7 471.1,407.7 471.5,407.7 472.0,407.7 472.4,407.7 472.8,407.7 473.3,407.7 473.7,407.7 474.2,407.7 474.6,407.7 475.0,407.7 475.5,407.7 475.9,407.7 476.4,407.7 476.8,407.7 477.2,407.7 477.7,407.7 478.1,407.7 478.6,407.7 479.0,407.7 479.4,407.7 479.9,407.7 480.3,407.7 480.8,407.7 481.2,407.7 481.7,407.7 482.1,407.7 482.5,407.7 483.0,407.7 483.4,407.7 483.9,407.7 484.3,407.7 484.7,407.7 485.2,407.7 485.6,407.7 486.1,407.7 486.5,407.7 486.9,407.7 487.4,407.7 487.8,407.7 488.3,407.7 488.7,407.7 489.2,407.7 489.6,407.7 490.0,407.7 490.5,407.7 490.9,407.7 491.4,407.7 491.8,407.7 492.2,407.7 492.7,407.7 493.1,407.7 493.6,407.7 494.0,407.7 494.4,407.7 494.9,407.7 495.3,407.7 495.8,407.7 496.2,407.7 496.6,407.7 497.1,407.7 497.5,407.7 498.0,407.7 498.4,407.7 498.9,407.7 499.3,407.7 499.7,407.7 500.2,407.7 500.6,407.7 501.1,407.7 501.5,407.7 501.9,407.7 502.4,407.7 502.8,407.7 503.3,407.7 503.7,407.7 504.1,407.7 504.6,407.7 505.0,407.7 505.5,407.7 505.9,407.7 506.3,407.7 506.8,407.7 507.2,407.7 507.7,407.7 508.1,407.7 508.6,407.7 509.0,407.7 509.4,407.7 509.9,407.7 510.3,407.7 510.8,407.7 511.2,407.7 511.6,407.7 512.1,407.7 512.5,407.7 513.0,407.7 513.4,407.7 513.8,407.7 514.3,407.7 514.7,407.7 515.2,407.7 515.6,407.7 516.0,407.7 516.5,407.7 516.9,407.7 517.4,407.7 517.8,407.7 518.3,407.7 518.7,407.7 519.1,407.7 519.6,407.7 520.0,407.7 520.5,407.7 520.9,407.7 521.3,407.7 521.8,407.7 522.2,407.7 522.7,407.7 523.1,407.7 523.5,407.7 524.0,407.7 524.4,407.7 524.9,407.7 525.3,407.7 525.7,407.7 526.2,407.7 526.6,407.7 527.1,407.7 527.5,407.7 528.0,407.7 528.4,407.7 528.8,407.7 529.3,407.7 529.7,407.7 530.2,407.7 530.6,407.7 531.0,407.7 531.5,407.7 531.9,407.7 532.4,407.7 532.8,407.7 533.2,407.7 533.7,407.7 534.1,407.7 534.6,407.7 535.0,407.7 535.4,407.7 535.9,407.7 536.1,407.7" fill="none" stroke="#0000ff" stroke-width="0.955" stroke-dasharray="3.53 1.53" stroke-linejoin="round" marker-start="url(#mDegree)" marker-mid="url(#mDegree)" marker-end="url(#mDegree)"/>
<polyline points="318.3,245.5 318.6,245.8 319.0,246.1 319.3,246.3 319.7,246.6 320.1,246.9 320.4,247.1 320.8,247.4 321.1,247.7 321.5,247.9 321.8,248.2 322.2,248.5 322.5,248.7 322.9,249.0 323.2,249.3 323.6,249.5 323.9,249.8 324.3,250.1 324.6,250.3 325.0,250.6 325.3,250.9 325.7,251.1 326.1,251.4 326.4,251.7 326.8,251.9 327.1,252.2 327.5,252.5 327.8,252.7 328.2,253.0 328.5,253.3 328.9,253.5 329.2,253.8 329.6,254.1 329.9,254.3 330.3,254.6 330.6,254.9 331.0,255.1 331.3,255.4 331.7,255.6 332.0,255.9 332.4,256.2 332.8,256.4 333.1,256.7 333.5,257.0 333.8,257.2 334.2,257.5 334.5,257.8 334.9,258.0 335.2,258.3 335.6,258.6 335.9,258.8 336.3,259.1 336.6,259.4 337.0,259.6 337.3,259.9 337.7,260.2 338.0,260.4 338.4,260.7 338.7,261.0 339.1,261.2 339.5,261.5 339.8,261.8 340.2,262.0 340.5,262.3 340.9,262.6 341.2,262.8 341.6,263.1 341.9,263.4 342.3,263.6 342.6,263.9 343.0,264.2 343.3,264.4 343.7,264.7 344.0,265.0 344.4,265.2 344.7,265.5 345.1,265.8 345.5,266.0 345.8,266.3 346.2,266.6 346.5,266.8 346.9,267.1 347.2,267.4 347.6,267.6 347.9,267.9 348.3,268.2 348.6,268.4 349.0,268.7 349.3,269.0 349.7,269.2 350.0,269.5 350.4,269.7 350.7,270.0 351.1,270.3 351.4,270.5 351.8,270.8 352.2,271.1 352.5,271.3 352.9,271.6 353.2,271.9 353.6,272.1 353.9,272.4 354.3,272.7 354.6,272.9 355.0,273.2 355.3,273.5 355.7,273.7 356.0,274.0 356.4,274.3 356.7,274.5 357.1,274.8 357.4,275.1 357.8,275.3 358.2,275.6 358.5,275.9 358.9,276.1 359.2,276.4 359.6,276.7 359.9,276.9 360.3,277.2 360.6,277.5 361.0,277.7 361.3,278.0 361.7,278.3 362.0,278.5 362.4,278.8 362.7,279.1 363.1,279.3 363.4,279.6 363.8,279.9 364.1,280.1 364.5,280.4 364.9,280.7 365.2,280.9 365.6,281.2 365.9,281.5 366.3,281.7 366.6,282.0 367.0,282.3 367.3,282.5 367.7,282.8 368.0,283.0 368.4,283.3 368.7,283.6 369.1,283.8 369.4,284.1 369.8,284.4 370.1,284.6 370.5,284.9 370.8,285.2 371.2,285.4 371.6,285.7 371.9,286.0 372.3,286.2 372.6,286.5 373.0,286.8 373.3,287.0 373.7,287.3 374.0,287.6 374.4,287.8 374.7,288.1 375.1,288.4 375.4,288.6 375.8,288.9 376.1,289.2 376.5,289.4 376.8,289.7 377.2,290.0 377.6,290.2 377.9,290.5 378.3,290.8 378.6,291.0 379.0,291.3 379.3,291.6 379.7,291.8 380.0,292.1 380.4,292.4 380.7,292.6 381.1,292.9 381.4,293.2 381.8,293.4 382.1,293.7 382.5,294.0 382.8,294.2 383.2,294.5 383.5,294.8 383.9,295.0 384.3,295.3 384.6,295.6 385.0,295.8 385.3,296.1 385.7,296.3 386.0,296.6 386.4,296.9 386.7,297.1 387.1,297.4 387.4,297.7 387.8,297.9 388.1,298.2 388.5,298.5 388.8,298.7 389.2,299.0 389.5,299.3 389.9,299.5 390.3,299.8 390.6,300.1 391.0,300.3 391.3,300.6 391.7,300.9 392.0,301.1 392.4,301.4 392.7,301.7 393.1,301.9 393.4,302.2 393.8,302.5 394.1,302.7 394.5,303.0 394.8,303.3 395.2,303.5 395.5,303.8 395.9,304.1 396.2,304.3 396.6,304.6 397.0,304.9 397.3,305.1 397.7,305.4 398.0,305.7 398.4,305.9 398.7,306.2 399.1,306.5 399.4,306.7 399.8,307.0 400.1,307.3 400.5,307.5 400.8,307.8 401.2,308.1 401.5,308.3 401.9,308.6 402.2,308.9 402.6,309.1 402.9,309.4 403.3,309.7 403.7,309.9 404.0,310.2 404.4,310.4 404.7,310.7 405.1,311.0 405.4,311.2 405.8,311.5 406.1,311.8 406.5,312.0 406.8,312.3 407.2,312.6 407.5,312.8 407.9,313.1 408.2,313.4 408.6,313.6 408.9,313.9 409.3,314.2 409.7,314.4 410.0,314.7 410.4,315.0 410.7,315.2 411.1,315.5 411.4,315.8 411.8,316.0 412.1,316.3 412.5,316.6 412.8,316.8 413.2,317.1 413.5,317.4 413.9,317.6 414.2,317.9 414.6,318.2 414.9,318.4 415.3,318.7 415.6,319.0 416.0,319.2 416.4,319.5 416.7,319.8 417.1,320.0 417.4,320.3 417.8,320.6 418.1,320.8 418.5,321.1 418.8,321.4 419.2,321.6 419.5,321.9 419.9,322.2 420.2,322.4 420.6,322.7 420.9,323.0 421.3,323.2 421.6,323.5 422.0,323.7 422.3,324.0 422.7,324.3 423.1,324.5 423.4,324.8 423.8,325.1 424.1,325.3 424.5,325.6 424.8,325.9 425.2,326.1 425.5,326.4 425.9,326.7 426.2,326.9 426.6,327.2 426.9,327.5 427.3,327.7 427.6,328.0 428.0,328.3 428.3,328.5 428.7,328.8 429.1,329.1 429.4,329.3 429.8,329.6 430.1,329.9 430.5,330.1 430.8,330.4 431.2,330.7 431.5,330.9 431.9,331.2 432.2,331.5 432.6,331.7 432.9,332.0 433.3,332.3 433.6,332.5 434.0,332.8 434.3,333.1 434.7,333.3 435.0,333.6 435.4,333.9 435.8,334.1 436.1,334.4 436.5,334.7 436.8,334.9 437.2,335.2 437.5,335.5 437.9,335.7 438.2,336.0 438.6,336.3 438.9,336.5 439.3,336.8 439.6,337.1 440.0,337.3 440.3,337.6 440.7,337.8 441.0,338.1 441.4,338.4 441.8,338.6 442.1,338.9 442.5,339.2 442.8,339.4 443.2,339.7 443.5,340.0 443.9,340.2 444.2,340.5 444.6,340.8 444.9,341.0 445.2,407.7 445.6,407.7 446.1,407.7 446.5,407.7 447.0,407.7 447.4,407.7 447.8,407.7 448.3,407.7 448.7,407.7 449.2,407.7 449.6,407.7 450.0,407.7 450.5,407.7 450.9,407.7 451.4,407.7 451.8,407.7 452.2,407.7 452.7,407.7 453.1,407.7 453.6,407.7 454.0,407.7 454.4,407.7 454.9,407.7 455.3,407.7 455.8,407.7 456.2,407.7 456.7,407.7 457.1,407.7 457.5,407.7 458.0,407.7 458.4,407.7 458.9,407.7 459.3,407.7 459.7,407.7 460.2,407.7 460.6,407.7 461.1,407.7 461.5,407.7 461.9,407.7 462.4,407.7 462.8,407.7 463.3,407.7 463.7,407.7 464.1,407.7 464.6,407.7 465.0,407.7 465.5,407.7 465.9,407.7 466.4,407.7 466.8,407.7 467.2,407.7 467.7,407.7 468.1,407.7 468.6,407.7 469.0,407.7 469.4,407.7 469.9,407.7 470.3,407.7 470.8,407.7 471.2,407.7 471.6,407.7 472.1,407.7 472.5,407.7 473.0,407.7 473.4,407.7 473.9,407.7 474.3,407.7 474.7,407.7 475.2,407.7 475.6,407.7 476.1,407.7 476.5,407.7 476.9,407.7 477.4,407.7 477.8,407.7 478.3,407.7 478.7,407.7 479.1,407.7 479.6,407.7 480.0,407.7 480.5,407.7 480.9,407.7 481.3,407.7 481.8,407.7 482.2,407.7 482.7,407.7 483.1,407.7 483.6,407.7 484.0,407.7 484.4,407.7 484.9,407.7 485.3,407.7 485.8,407.7 486.2,407.7 486.6,407.7 487.1,407.7 487.5,407.7 488.0,407.7 488.4,407.7 488.8,407.7 489.3,407.7 489.7,407.7 490.2,407.7 490.6,407.7 491.0,407.7 491.5,407.7 491.9,407.7 492.4,407.7 492.8,407.7 493.3,407.7 493.7,407.7 494.1,407.7 494.6,407.7 495.0,407.7 495.5,407.7 495.9,407.7 496.3,407.7 496.8,407.7 497.2,407.7 497.7,407.7 498.1,407.7 498.5,407.7 499.0,407.7 499.4,407.7 499.9,407.7 500.3,407.7 500.7,407.7 501.2,407.7 501.6,407.7 502.1,407.7 502.5,407.7 503.0,407.7 503.4,407.7 503.8,407.7 504.3,407.7 504.7,407.7 505.2,407.7 505.6,407.7 506.0,407.7 506.5,407.7 506.9,407.7 507.4,407.7 507.8,407.7 508.2,407.7 508.7,407.7 509.1,407.7 509.6,407.7 510.0,407.7 510.4,407.7 510.9,407.7 511.3,407.7 511.8,407.7 512.2,407.7 512.7,407.7 513.1,407.7 513.5,407.7 514.0,407.7 514.4,407.7 514.9,407.7 515.3,407.7 515.7,407.7 516.2,407.7 516.6,407.7 517.1,407.7 517.5,407.7 517.9,407.7 518.4,407.7 518.8,407.7 519.3,407.7 519.7,407.7 520.1,407.7 520.6,407.7 521.0,407.7 521.5,407.7 521.9,407.7 522.4,407.7 522.8,407.7 523.2,407.7 523.7,407.7 524.1,407.7 524.6,407.7 525.0,407.7 525.4,407.7 525.9,407.7 526.3,407.7 526.8,407.7 527.2,407.7 527.6,407.7 528.1,407.7 528.5,407.7 529.0,407.7 529.4,407.7 529.8,407.7 530.3,407.7 530.7,407.7 531.2,407.7 531.6,407.7 532.1,407.7 532.5,407.7 532.9,407.7 533.4,407.7 533.8,407.7 534.3,407.7 534.7,407.7 535.1,407.7 535.6,407.7 536.0,407.7 536.1,407.7" fill="none" stroke="#00bfbf" stroke-width="0.955" stroke-dasharray="0.955 1.576" stroke-linejoin="round" marker-start="url(#mBC)" marker-mid="url(#mBC)" marker-end="url(#mBC)"/>
<polyline points="318.3,245.5 318.6,245.8 318.9,246.1 319.2,246.3 319.5,246.6 319.8,246.9 320.1,247.1 320.5,247.4 320.8,247.7 321.1,247.9 321.4,248.2 321.7,248.5 322.0,248.7 322.3,249.0 322.6,249.3 322.9,249.5 323.2,249.8 323.5,250.1 323.8,250.3 324.2,250.6 324.5,250.9 324.8,251.1 325.1,251.4 325.4,251.7 325.7,251.9 326.0,252.2 326.3,252.5 326.6,252.7 326.9,253.0 327.2,253.3 327.6,253.5 327.9,253.8 328.2,254.1 328.5,254.3 328.8,254.6 329.1,254.9 329.4,255.1 329.7,255.4 330.0,255.7 330.3,255.9 330.6,256.2 330.9,256.5 331.3,256.7 331.6,257.0 331.9,257.3 332.2,257.5 332.5,257.8 332.8,258.1 333.1,258.3 333.4,258.6 333.7,258.9 334.0,259.2 334.3,259.4 334.6,259.7 335.0,260.0 335.3,260.2 335.6,260.5 335.9,260.8 336.2,261.0 336.5,261.3 336.8,261.6 337.1,261.8 337.4,262.1 337.7,262.4 338.0,262.6 338.4,262.9 338.7,263.2 339.0,263.4 339.3,263.7 339.6,264.0 339.9,264.2 340.2,264.5 340.5,264.8 340.8,265.0 341.1,265.3 341.4,265.6 341.7,265.8 342.1,266.1 342.4,266.4 342.7,266.6 343.0,266.9 343.3,267.2 343.6,267.4 343.9,267.7 344.2,268.0 344.5,268.2 344.8,268.5 345.1,268.8 345.5,269.0 345.8,269.3 346.1,269.6 346.4,269.8 346.7,270.1 347.0,270.4 347.3,270.6 347.6,270.9 347.9,271.2 348.2,271.4 348.5,271.7 348.8,272.0 349.2,272.2 349.5,272.5 349.8,272.8 350.1,273.0 350.4,273.3 350.7,273.6 351.0,273.8 351.3,274.1 351.6,274.4 351.9,274.6 352.2,274.9 352.6,275.2 352.9,275.4 353.2,275.7 353.5,276.0 353.8,276.2 354.1,276.5 354.4,276.8 354.7,277.0 355.0,277.3 355.3,277.6 355.6,277.8 355.9,278.1 356.3,278.4 356.6,278.6 356.9,278.9 357.2,279.2 357.5,279.4 357.8,279.7 358.1,280.0 358.4,280.2 358.7,280.5 359.0,280.8 359.3,281.0 359.6,281.3 360.0,281.6 360.3,281.8 360.6,282.1 360.9,282.4 361.2,282.6 361.5,282.9 361.8,283.2 362.1,283.4 362.4,283.7 362.7,284.0 363.0,284.3 363.4,284.6 363.7,284.9 364.0,285.1 364.3,285.4 364.6,285.7 364.9,286.0 365.2,286.3 365.5,286.6 365.8,286.9 366.1,287.1 366.4,287.4 366.7,287.7 367.1,288.0 367.4,288.3 367.7,288.6 368.0,288.9 368.3,289.2 368.6,289.4 368.9,289.7 369.2,290.0 369.5,290.3 369.8,290.6 370.1,290.9 370.5,291.2 370.8,291.4 371.1,291.7 371.4,292.0 371.7,292.3 372.0,292.6 372.3,292.9 372.6,293.2 372.9,293.5 373.2,293.7 373.5,294.0 373.8,294.3 374.2,294.6 374.5,294.9 374.8,295.2 375.1,295.5 375.4,295.7 375.7,296.0 376.0,296.3 376.3,296.6 376.6,296.9 376.9,297.2 377.2,297.5 377.6,297.8 377.9,298.0 378.2,298.3 378.5,298.6 378.8,298.9 379.1,299.2 379.4,299.5 379.7,299.8 380.0,300.0 380.3,300.3 380.6,300.6 380.9,300.9 381.3,301.2 381.6,301.5 381.9,301.8 382.2,302.0 382.5,302.3 382.8,302.6 383.1,302.9 383.4,303.2 383.7,303.5 384.0,303.8 384.3,304.1 384.7,304.3 385.0,304.6 385.3,304.9 385.6,305.2 385.9,305.5 386.2,305.8 386.5,306.1 386.8,306.3 387.1,306.6 387.4,306.9 387.7,307.2 388.0,307.5 388.4,307.8 388.7,308.1 389.0,308.4 389.3,308.6 389.6,308.9 389.9,309.2 390.2,309.5 390.5,309.7 390.8,310.0 391.1,310.3 391.4,310.5 391.7,310.8 392.1,311.1 392.4,311.3 392.7,311.6 393.0,311.9 393.3,312.2 393.6,312.4 393.9,312.7 394.2,313.0 394.5,313.2 394.8,313.5 395.1,313.8 395.5,314.0 395.8,314.3 396.1,314.6 396.4,314.8 396.7,315.1 397.0,315.4 397.3,315.6 397.6,315.9 397.9,316.2 398.2,316.4 398.5,316.7 398.8,317.0 399.2,317.2 399.5,317.5 399.8,317.8 400.1,318.0 400.4,318.3 400.7,318.6 401.0,318.9 401.3,319.1 401.6,319.4 401.9,319.7 402.2,319.9 402.6,320.2 402.9,320.5 403.2,320.7 403.5,321.0 403.8,321.3 404.1,321.5 404.4,321.8 404.7,322.1 405.0,322.3 405.3,322.6 405.6,322.9 405.9,323.1 406.3,323.4 406.6,323.7 406.9,323.9 407.2,324.2 407.5,324.5 407.8,324.7 408.1,325.0 408.4,325.3 408.7,325.6 409.0,325.8 409.3,326.1 409.7,326.4 410.0,326.6 410.3,326.9 410.6,327.2 410.9,327.4 411.2,327.7 411.5,328.0 411.8,328.2 412.1,328.5 412.4,328.8 412.7,329.0 413.0,329.3 413.4,329.6 413.7,329.8 414.0,330.1 414.3,330.4 414.6,330.6 414.9,330.9 415.2,331.2 415.5,331.4 415.8,331.7 416.1,332.0 416.4,332.3 416.8,332.5 417.1,332.8 417.4,333.1 417.7,333.3 418.0,333.6 418.3,333.9 418.6,334.1 418.9,334.4 419.2,334.7 419.5,334.9 419.8,335.2 420.1,335.5 420.5,335.7 420.8,336.0 421.1,336.3 421.4,336.5 421.7,336.8 422.0,337.1 422.3,337.3 422.6,337.6 422.9,337.9 423.2,338.1 423.5,338.4 423.8,338.7 424.2,339.0 424.5,339.2 424.8,339.5 425.1,339.8 425.4,340.0 425.7,340.3 426.0,340.6 426.3,340.8 426.6,341.1 426.9,341.4 427.2,341.6 427.6,341.9 427.9,342.2 428.2,342.4 428.5,342.7 428.8,343.0 429.1,343.2 429.4,343.5 429.7,343.8 430.0,344.0 430.3,344.3 430.6,344.6 430.9,344.8 431.3,345.1 431.6,345.4 431.9,345.6 432.2,345.9 432.5,346.2 432.8,346.5 433.1,346.7 433.4,347.0 433.7,347.3 434.0,347.5 434.3,347.8 434.7,348.1 435.0,348.3 435.3,348.6 435.6,348.9 435.9,349.1 436.2,349.4 436.5,349.7 436.8,349.9 437.1,350.2 437.4,350.5 437.7,350.7 438.0,351.0 438.4,351.3 438.7,351.5 439.0,351.8 439.3,352.1 439.6,352.3 439.9,352.6 440.2,352.9 440.5,353.2 440.8,353.4 441.1,353.7 441.4,354.0 441.8,354.2 442.1,354.5 442.4,354.8 442.7,355.0 443.0,355.3 443.3,355.6 443.6,355.8 443.9,356.1 444.2,356.4 444.5,356.6 444.8,356.9 445.1,357.2 445.5,357.5 445.8,357.7 446.1,358.0 446.4,358.3 446.7,358.6 447.0,358.8 447.3,359.1 447.6,359.4 447.9,359.7 448.2,359.9 448.5,360.2 448.8,360.5 449.2,360.7 449.5,361.0 449.8,361.3 450.1,361.6 450.4,361.8 450.7,362.1 451.0,362.4 451.3,362.7 451.6,362.9 451.9,363.2 452.2,363.5 452.6,363.8 452.9,364.0 453.2,364.3 453.5,364.6 453.8,364.9 454.1,365.1 454.4,365.4 454.7,365.7 455.0,365.9 455.3,366.2 455.6,366.5 455.9,366.8 456.3,367.0 456.6,367.3 456.9,367.6 457.2,367.9 457.5,368.1 457.8,368.4 458.1,368.7 458.4,369.0 458.7,369.2 459.0,369.5 459.3,369.8 459.7,370.1 460.0,370.3 460.3,370.6 460.6,370.9 460.9,371.1 461.2,371.4 461.5,371.7 461.8,372.0 462.1,372.2 462.4,372.5 462.7,372.8 463.0,373.1 463.4,373.3 463.7,373.6 464.0,373.9 464.3,374.2 464.6,374.4 464.9,374.7 465.2,375.0 465.5,375.3 465.8,375.5 466.1,375.8 466.4,376.1 466.8,376.4 467.1,376.6 467.4,376.9 467.7,377.2 468.0,377.4 468.3,377.7 468.6,378.0 468.9,378.3 469.2,378.5 469.5,378.8 469.8,379.1 470.1,379.4 470.5,379.6 470.8,379.9 471.1,380.2 471.4,380.5 471.7,380.7 472.0,381.0 472.3,381.3 472.6,381.6 472.9,381.8 473.2,382.1 473.5,382.4 473.9,382.6 474.2,382.9 474.5,383.2 474.8,383.5 475.1,383.7 475.4,384.0 475.7,384.3 476.0,384.6 476.3,384.8 476.6,385.1 476.9,385.4 477.2,385.7 477.6,385.9 477.9,386.2 478.2,386.5 478.5,386.8 478.8,387.0 479.1,387.3 479.4,387.6 479.7,387.8 480.0,388.1 480.3,388.4 480.6,388.7 480.9,388.9 481.3,389.2 481.6,389.5 481.9,389.8 482.2,390.0 482.5,390.3 482.8,390.6 483.1,390.9 483.4,391.1 483.7,391.4 484.0,391.7 484.3,392.0 484.7,392.2 485.0,392.5 485.3,392.8 485.6,393.0 485.9,393.3 486.2,393.6 486.5,393.9 486.8,394.1 487.1,394.4 487.4,394.7 487.7,395.0 488.0,395.2 488.4,395.5 488.7,395.8 489.0,396.1 489.3,396.3 489.6,396.6 489.9,396.9 490.2,397.2 490.5,397.4 490.8,397.7 491.1,398.0 491.4,398.2 491.8,398.5 492.1,398.8 492.4,399.1 492.7,399.3 493.0,399.6 493.3,399.9 493.6,400.2 493.9,400.4 494.2,400.7 494.5,401.0 494.8,401.3 495.1,401.5 495.5,401.8 495.8,402.1 496.1,402.4 496.4,402.6 496.7,402.9 497.0,403.2 497.3,403.4 497.6,403.7 497.9,404.0 498.2,404.3 498.5,404.5 498.9,404.8 499.2,405.1 499.5,405.4 499.8,405.6 500.1,405.9 500.4,406.2 500.7,406.5 501.0,406.7 501.3,407.0 501.6,407.3 501.9,407.6 502.3,407.7 502.8,407.7 503.2,407.7 503.7,407.7 504.1,407.7 504.5,407.7 505.0,407.7 505.4,407.7 505.9,407.7 506.3,407.7 506.7,407.7 507.2,407.7 507.6,407.7 508.1,407.7 508.5,407.7 508.9,407.7 509.4,407.7 509.8,407.7 510.3,407.7 510.7,407.7 511.2,407.7 511.6,407.7 512.0,407.7 512.5,407.7 512.9,407.7 513.4,407.7 513.8,407.7 514.2,407.7 514.7,407.7 515.1,407.7 515.6,407.7 516.0,407.7 516.4,407.7 516.9,407.7 517.3,407.7 517.8,407.7 518.2,407.7 518.6,407.7 519.1,407.7 519.5,407.7 520.0,407.7 520.4,407.7 520.9,407.7 521.3,407.7 521.7,407.7 522.2,407.7 522.6,407.7 523.1,407.7 523.5,407.7 523.9,407.7 524.4,407.7 524.8,407.7 525.3,407.7 525.7,407.7 526.1,407.7 526.6,407.7 527.0,407.7 527.5,407.7 527.9,407.7 528.3,407.7 528.8,407.7 529.2,407.7 529.7,407.7 530.1,407.7 530.6,407.7 531.0,407.7 531.4,407.7 531.9,407.7 532.3,407.7 532.8,407.7 533.2,407.7 533.6,407.7 534.1,407.7 534.5,407.7 535.0,407.7 535.4,407.7 535.8,407.7 536.1,407.7" fill="none" stroke="#008000" stroke-width="0.955" stroke-linejoin="round" marker-start="url(#mCC)" marker-mid="url(#mCC)" marker-end="url(#mCC)"/>
<polyline points="318.3,245.5 318.6,245.8 318.9,246.1 319.2,246.4 319.5,246.7 319.8,247.0 320.1,247.2 320.5,247.5 320.8,247.8 321.1,248.1 321.4,248.4 321.7,248.7 322.0,249.0 322.3,249.2 322.6,249.5 322.9,249.8 323.2,250.1 323.5,250.4 323.8,250.7 324.2,250.9 324.5,251.2 324.8,251.5 325.0,251.9 325.2,252.3 325.3,252.7 325.4,253.1 325.6,253.5 325.7,253.9 325.8,254.3 326.0,254.7 326.1,255.1 326.2,255.5 326.4,255.9 326.5,256.3 326.6,256.7 326.8,257.1 326.9,257.5 327.0,257.9 327.2,258.3 327.3,258.7 327.4,259.1 327.6,259.5 327.7,259.9 327.8,260.3 327.9,260.7 328.1,261.1 328.2,261.5 328.3,261.9 328.5,262.3 328.6,262.8 328.7,263.3 328.8,263.8 328.9,264.4 329.0,264.9 329.0,265.4 329.1,265.9 329.2,266.4 329.3,267.0 329.4,267.5 329.5,268.0 329.6,268.5 329.7,269.1 329.8,269.6 329.8,270.2 329.9,270.9 330.0,271.6 330.1,272.3 330.2,273.0 330.3,273.7 330.4,274.4 330.5,275.4 330.5,276.1 330.5,276.8 330.6,277.5 330.6,278.2 330.7,278.9 330.7,279.6 330.8,281.7 330.8,283.8 330.9,291.7 330.9,300.2 330.9,306.4 331.0,314.0 331.0,320.3 331.1,327.7 331.1,334.1 331.2,342.8 331.2,356.8 331.3,371.7 331.3,386.8 331.3,401.4 331.4,407.7 331.8,407.7 332.3,407.7 332.7,407.7 333.2,407.7 333.6,407.7 334.0,407.7 334.5,407.7 334.9,407.7 335.4,407.7 335.8,407.7 336.2,407.7 336.7,407.7 337.1,407.7 337.6,407.7 338.0,407.7 338.4,407.7 338.9,407.7 339.3,407.7 339.8,407.7 340.2,407.7 340.6,407.7 341.1,407.7 341.5,407.7 342.0,407.7 342.4,407.7 342.9,407.7 343.3,407.7 343.7,407.7 344.2,407.7 344.6,407.7 345.1,407.7 345.5,407.7 345.9,407.7 346.4,407.7 346.8,407.7 347.3,407.7 347.7,407.7 348.1,407.7 348.6,407.7 349.0,407.7 349.5,407.7 349.9,407.7 350.3,407.7 350.8,407.7 351.2,407.7 351.7,407.7 352.1,407.7 352.6,407.7 353.0,407.7 353.4,407.7 353.9,407.7 354.3,407.7 354.8,407.7 355.2,407.7 355.6,407.7 356.1,407.7 356.5,407.7 357.0,407.7 357.4,407.7 357.8,407.7 358.3,407.7 358.7,407.7 359.2,407.7 359.6,407.7 360.0,407.7 360.5,407.7 360.9,407.7 361.4,407.7 361.8,407.7 362.3,407.7 362.7,407.7 363.1,407.7 363.6,407.7 364.0,407.7 364.5,407.7 364.9,407.7 365.3,407.7 365.8,407.7 366.2,407.7 366.7,407.7 367.1,407.7 367.5,407.7 368.0,407.7 368.4,407.7 368.9,407.7 369.3,407.7 369.7,407.7 370.2,407.7 370.6,407.7 371.1,407.7 371.5,407.7 372.0,407.7 372.4,407.7 372.8,407.7 373.3,407.7 373.7,407.7 374.2,407.7 374.6,407.7 375.0,407.7 375.5,407.7 375.9,407.7 376.4,407.7 376.8,407.7 377.2,407.7 377.7,407.7 378.1,407.7 378.6,407.7 379.0,407.7 379.4,407.7 379.9,407.7 380.3,407.7 380.8,407.7 381.2,407.7 381.7,407.7 382.1,407.7 382.5,407.7 383.0,407.7 383.4,407.7 383.9,407.7 384.3,407.7 384.7,407.7 385.2,407.7 385.6,407.7 386.1,407.7 386.5,407.7 386.9,407.7 387.4,407.7 387.8,407.7 388.3,407.7 388.7,407.7 389.1,407.7 389.6,407.7 390.0,407.7 390.5,407.7 390.9,407.7 391.4,407.7 391.8,407.7 392.2,407.7 392.7,407.7 393.1,407.7 393.6,407.7 394.0,407.7 394.4,407.7 394.9,407.7 395.3,407.7 395.8,407.7 396.2,407.7 396.6,407.7 397.1,407.7 397.5,407.7 398.0,407.7 398.4,407.7 398.8,407.7 399.3,407.7 399.7,407.7 400.2,407.7 400.6,407.7 401.1,407.7 401.5,407.7 401.9,407.7 402.4,407.7 402.8,407.7 403.3,407.7 403.7,407.7 404.1,407.7 404.6,407.7 405.0,407.7 405.5,407.7 405.9,407.7 406.3,407.7 406.8,407.7 407.2,407.7 407.7,407.7 408.1,407.7 408.5,407.7 409.0,407.7 409.4,407.7 409.9,407.7 410.3,407.7 410.8,407.7 411.2,407.7 411.6,407.7 412.1,407.7 412.5,407.7 413.0,407.7 413.4,407.7 413.8,407.7 414.3,407.7 414.7,407.7 415.2,407.7 415.6,407.7 416.0,407.7 416.5,407.7 416.9,407.7 417.4,407.7 417.8,407.7 418.2,407.7 418.7,407.7 419.1,407.7 419.6,407.7 420.0,407.7 420.5,407.7 420.9,407.7 421.3,407.7 421.8,407.7 422.2,407.7 422.7,407.7 423.1,407.7 423.5,407.7 424.0,407.7 424.4,407.7 424.9,407.7 425.3,407.7 425.7,407.7 426.2,407.7 426.6,407.7 427.1,407.7 427.5,407.7 427.9,407.7 428.4,407.7 428.8,407.7 429.3,407.7 429.7,407.7 430.2,407.7 430.6,407.7 431.0,407.7 431.5,407.7 431.9,407.7 432.4,407.7 432.8,407.7 433.2,407.7 433.7,407.7 434.1,407.7 434.6,407.7 435.0,407.7 435.4,407.7 435.9,407.7 436.3,407.7 436.8,407.7 437.2,407.7 437.6,407.7 438.1,407.7 438.5,407.7 439.0,407.7 439.4,407.7 439.9,407.7 440.3,407.7 440.7,407.7 441.2,407.7 441.6,407.7 442.1,407.7 442.5,407.7 442.9,407.7 443.4,407.7 443.8,407.7 444.3,407.7 444.7,407.7 445.1,407.7 445.6,407.7 446.0,407.7 446.5,407.7 446.9,407.7 447.4,407.7 447.8,407.7 448.2,407.7 448.7,407.7 449.1,407.7 449.6,407.7 450.0,407.7 450.4,407.7 450.9,407.7 451.3,407.7 451.8,407.7 452.2,407.7 452.6,407.7 453.1,407.7 453.5,407.7 454.0,407.7 454.4,407.7 454.8,407.7 455.3,407.7 455.7,407.7 456.2,407.7 456.6,407.7 457.1,407.7 457.5,407.7 457.9,407.7 458.4,407.7 458.8,407.7 459.3,407.7 459.7,407.7 460.1,407.7 460.6,407.7 461.0,407.7 461.5,407.7 461.9,407.7 462.3,407.7 462.8,407.7 463.2,407.7 463.7,407.7 464.1,407.7 464.5,407.7 465.0,407.7 465.4,407.7 465.9,407.7 466.3,407.7 466.8,407.7 467.2,407.7 467.6,407.7 468.1,407.7 468.5,407.7 469.0,407.7 469.4,407.7 469.8,407.7 470.3,407.7 470.7,407.7 471.2,407.7 471.6,407.7 472.0,407.7 472.5,407.7 472.9,407.7 473.4,407.7 473.8,407.7 474.2,407.7 474.7,407.7 475.1,407.7 475.6,407.7 476.0,407.7 476.5,407.7 476.9,407.7 477.3,407.7 477.8,407.7 478.2,407.7 478.7,407.7 479.1,407.7 479.5,407.7 480.0,407.7 480.4,407.7 480.9,407.7 481.3,407.7 481.7,407.7 482.2,407.7 482.6,407.7 483.1,407.7 483.5,407.7 483.9,407.7 484.4,407.7 484.8,407.7 485.3,407.7 485.7,407.7 486.2,407.7 486.6,407.7 487.0,407.7 487.5,407.7 487.9,407.7 488.4,407.7 488.8,407.7 489.2,407.7 489.7,407.7 490.1,407.7 490.6,407.7 491.0,407.7 491.4,407.7 491.9,407.7 492.3,407.7 492.8,407.7 493.2,407.7 493.6,407.7 494.1,407.7 494.5,407.7 495.0,407.7 495.4,407.7 495.9,407.7 496.3,407.7 496.7,407.7 497.2,407.7 497.6,407.7 498.1,407.7 498.5,407.7 498.9,407.7 499.4,407.7 499.8,407.7 500.3,407.7 500.7,407.7 501.1,407.7 501.6,407.7 502.0,407.7 502.5,407.7 502.9,407.7 503.3,407.7 503.8,407.7 504.2,407.7 504.7,407.7 505.1,407.7 505.6,407.7 506.0,407.7 506.4,407.7 506.9,407.7 507.3,407.7 507.8,407.7 508.2,407.7 508.6,407.7 509.1,407.7 509.5,407.7 510.0,407.7 510.4,407.7 510.8,407.7 511.3,407.7 511.7,407.7 512.2,407.7 512.6,407.7 513.0,407.7 513.5,407.7 513.9,407.7 514.4,407.7 514.8,407.7 515.3,407.7 515.7,407.7 516.1,407.7 516.6,407.7 517.0,407.7 517.5,407.7 517.9,407.7 518.3,407.7 518.8,407.7 519.2,407.7 519.7,407.7 520.1,407.7 520.5,407.7 521.0,407.7 521.4,407.7 521.9,407.7 522.3,407.7 522.7,407.7 523.2,407.7 523.6,407.7 524.1,407.7 524.5,407.7 525.0,407.7 525.4,407.7 525.8,407.7 526.3,407.7 526.7,407.7 527.2,407.7 527.6,407.7 528.0,407.7 528.5,407.7 528.9,407.7 529.4,407.7 529.8,407.7 530.2,407.7 530.7,407.7 531.1,407.7 531.6,407.7 532.0,407.7 532.4,407.7 532.9,407.7 533.3,407.7 533.8,407.7 534.2,407.7 534.7,407.7 535.1,407.7 535.5,407.7 536.0,407.7 536.1,407.7" fill="none" stroke="#bfbf00" stroke-width="0.955" stroke-linejoin="round" marker-start="url(#mLocalC)" marker-mid="url(#mLocalC)" marker-end="url(#mLocalC)"/>
<polyline points="318.3,245.5 318.5,245.7 318.6,245.9 318.8,246.0 319.0,246.2 319.2,246.4 319.3,246.5 319.5,246.7 319.7,246.8 319.9,247.0 320.1,247.2 320.2,247.3 320.4,247.5 320.6,247.7 320.8,247.8 320.9,248.0 321.1,248.1 321.3,248.3 321.5,248.5 321.6,248.6 321.8,248.8 322.0,249.0 322.2,249.1 322.3,249.3 322.5,249.4 322.7,249.6 322.9,249.8 323.1,249.9 323.2,250.1 323.4,250.3 323.6,250.4 323.8,250.6 323.9,250.7 324.1,250.9 324.3,251.1 324.5,251.2 324.6,251.4 324.8,251.5 325.0,251.8 325.1,252.1 325.2,252.3 325.3,252.6 325.3,252.9 325.4,253.1 325.5,253.4 325.6,253.7 325.7,253.9 325.8,254.2 325.9,254.5 326.0,254.7 326.1,255.0 326.1,255.3 326.2,255.5 326.3,255.8 326.4,256.0 326.5,256.3 326.6,256.6 326.7,256.8 326.8,257.1 326.8,257.4 326.9,257.6 327.0,257.9 327.1,258.2 327.2,258.4 327.3,258.7 327.4,259.0 327.5,259.2 327.6,259.5 327.6,259.8 327.7,260.0 327.8,260.3 327.9,260.6 328.0,260.8 328.1,261.1 328.2,261.3 328.3,261.6 328.3,261.9 328.4,262.1 328.5,262.4 328.6,262.8 328.7,263.1 328.7,263.3 328.7,263.6 328.8,263.8 328.8,264.1 328.9,264.4 328.9,264.6 329.0,264.9 329.0,265.1 329.0,265.4 329.1,265.7 329.1,265.9 329.2,266.2 329.2,266.4 329.3,266.7 329.3,267.0 329.4,267.2 329.4,267.5 329.4,267.8 329.5,268.0 329.5,268.3 329.6,268.5 329.6,268.8 329.7,269.1 329.7,269.3 329.8,269.6 329.8,269.8 329.8,270.2 329.9,270.5 329.9,270.9 330.0,271.2 330.0,271.6 330.1,271.9 330.1,272.3 330.2,272.6 330.2,273.0 330.2,273.3 330.3,273.7 330.3,274.0 330.4,274.4 330.4,274.7 330.5,275.4 330.5,276.1 330.5,276.8 330.6,277.5 330.6,278.2 330.7,278.9 330.7,279.6 330.8,281.7 330.8,283.8 330.9,291.7 330.9,300.2 330.9,306.4 331.0,314.0 331.0,320.3 331.1,327.7 331.1,334.1 331.2,342.8 331.2,356.8 331.3,371.7 331.3,386.8 331.3,401.4 331.4,407.7 331.6,407.7 331.8,407.7 332.0,407.7 332.3,407.7 332.5,407.7 332.7,407.7 332.9,407.7 333.2,407.7 333.4,407.7 333.6,407.7 333.8,407.7 334.0,407.7 334.3,407.7 334.5,407.7 334.7,407.7 334.9,407.7 335.1,407.7 335.4,407.7 335.6,407.7 335.8,407.7 336.0,407.7 336.2,407.7 336.5,407.7 336.7,407.7 336.9,407.7 337.1,407.7 337.3,407.7 337.6,407.7 337.8,407.7 338.0,407.7 338.2,407.7 338.4,407.7 338.7,407.7 338.9,407.7 339.1,407.7 339.3,407.7 339.5,407.7 339.8,407.7 340.0,407.7 340.2,407.7 340.4,407.7 340.6,407.7 340.9,407.7 341.1,407.7 341.3,407.7 341.5,407.7 341.7,407.7 342.0,407.7 342.2,407.7 342.4,407.7 342.6,407.7 342.9,407.7 343.1,407.7 343.3,407.7 343.5,407.7 343.7,407.7 344.0,407.7 344.2,407.7 344.4,407.7 344.6,407.7 344.8,407.7 345.1,407.7 345.3,407.7 345.5,407.7 345.7,407.7 345.9,407.7 346.2,407.7 346.4,407.7 346.6,407.7 346.8,407.7 347.0,407.7 347.3,407.7 347.5,407.7 347.7,407.7 347.9,407.7 348.1,407.7 348.4,407.7 348.6,407.7 348.8,407.7 349.0,407.7 349.2,407.7 349.5,407.7 349.7,407.7 349.9,407.7 350.1,407.7 350.3,407.7 350.6,407.7 350.8,407.7 351.0,407.7 351.2,407.7 351.4,407.7 351.7,407.7 351.9,407.7 352.1,407.7 352.3,407.7 352.6,407.7 352.8,407.7 353.0,407.7 353.2,407.7 353.4,407.7 353.7,407.7 353.9,407.7 354.1,407.7 354.3,407.7 354.5,407.7 354.8,407.7 355.0,407.7 355.2,407.7 355.4,407.7 355.6,407.7 355.9,407.7 356.1,407.7 356.3,407.7 356.5,407.7 356.7,407.7 357.0,407.7 357.2,407.7 357.4,407.7 357.6,407.7 357.8,407.7 358.1,407.7 358.3,407.7 358.5,407.7 358.7,407.7 358.9,407.7 359.2,407.7 359.4,407.7 359.6,407.7 359.8,407.7 360.0,407.7 360.3,407.7 360.5,407.7 360.7,407.7 360.9,407.7 361.1,407.7 361.4,407.7 361.6,407.7 361.8,407.7 362.0,407.7 362.3,407.7 362.5,407.7 362.7,407.7 362.9,407.7 363.1,407.7 363.4,407.7 363.6,407.7 363.8,407.7 364.0,407.7 364.2,407.7 364.5,407.7 364.7,407.7 364.9,407.7 365.1,407.7 365.3,407.7 365.6,407.7 365.8,407.7 366.0,407.7 366.2,407.7 366.4,407.7 366.7,407.7 366.9,407.7 367.1,407.7 367.3,407.7 367.5,407.7 367.8,407.7 368.0,407.7 368.2,407.7 368.4,407.7 368.6,407.7 368.9,407.7 369.1,407.7 369.3,407.7 369.5,407.7 369.7,407.7 370.0,407.7 370.2,407.7 370.4,407.7 370.6,407.7 370.8,407.7 371.1,407.7 371.3,407.7 371.5,407.7 371.7,407.7 372.0,407.7 372.2,407.7 372.4,407.7 372.6,407.7 372.8,407.7 373.1,407.7 373.3,407.7 373.5,407.7 373.7,407.7 373.9,407.7 374.2,407.7 374.4,407.7 374.6,407.7 374.8,407.7 375.0,407.7 375.3,407.7 375.5,407.7 375.7,407.7 375.9,407.7 376.1,407.7 376.4,407.7 376.6,407.7 376.8,407.7 377.0,407.7 377.2,407.7 377.5,407.7 377.7,407.7 377.9,407.7 378.1,407.7 378.3,407.7 378.6,407.7 378.8,407.7 379.0,407.7 379.2,407.7 379.4,407.7 379.7,407.7 379.9,407.7 380.1,407.7 380.3,407.7 380.5,407.7 380.8,407.7 381.0,407.7 381.2,407.7 381.4,407.7 381.7,407.7 381.9,407.7 382.1,407.7 382.3,407.7 382.5,407.7 382.8,407.7 383.0,407.7 383.2,407.7 383.4,407.7 383.6,407.7 383.9,407.7 384.1,407.7 384.3,407.7 384.5,407.7 384.7,407.7 385.0,407.7 385.2,407.7 385.4,407.7 385.6,407.7 385.8,407.7 386.1,407.7 386.3,407.7 386.5,407.7 386.7,407.7 386.9,407.7 387.2,407.7 387.4,407.7 387.6,407.7 387.8,407.7 388.0,407.7 388.3,407.7 388.5,407.7 388.7,407.7 388.9,407.7 389.1,407.7 389.4,407.7 389.6,407.7 389.8,407.7 390.0,407.7 390.3,407.7 390.5,407.7 390.7,407.7 390.9,407.7 391.1,407.7 391.4,407.7 391.6,407.7 391.8,407.7 392.0,407.7 392.2,407.7 392.5,407.7 392.7,407.7 392.9,407.7 393.1,407.7 393.3,407.7 393.6,407.7 393.8,407.7 394.0,407.7 394.2,407.7 394.4,407.7 394.7,407.7 394.9,407.7 395.1,407.7 395.3,407.7 395.5,407.7 395.8,407.7 396.0,407.7 396.2,407.7 396.4,407.7 396.6,407.7 396.9,407.7 397.1,407.7 397.3,407.7 397.5,407.7 397.7,407.7 398.0,407.7 398.2,407.7 398.4,407.7 398.6,407.7 398.8,407.7 399.1,407.7 399.3,407.7 399.5,407.7 399.7,407.7 400.0,407.7 400.2,407.7 400.4,407.7 400.6,407.7 400.8,407.7 401.1,407.7 401.3,407.7 401.5,407.7 401.7,407.7 401.9,407.7 402.2,407.7 402.4,407.7 402.6,407.7 402.8,407.7 403.0,407.7 403.3,407.7 403.5,407.7 403.7,407.7 403.9,407.7 404.1,407.7 404.4,407.7 404.6,407.7 404.8,407.7 405.0,407.7 405.2,407.7 405.5,407.7 405.7,407.7 405.9,407.7 406.1,407.7 406.3,407.7 406.6,407.7 406.8,407.7 407.0,407.7 407.2,407.7 407.4,407.7 407.7,407.7 407.9,407.7 408.1,407.7 408.3,407.7 408.5,407.7 408.8,407.7 409.0,407.7 409.2,407.7 409.4,407.7 409.7,407.7 409.9,407.7 410.1,407.7 410.3,407.7 410.5,407.7 410.8,407.7 411.0,407.7 411.2,407.7 411.4,407.7 411.6,407.7 411.9,407.7 412.1,407.7 412.3,407.7 412.5,407.7 412.7,407.7 413.0,407.7 413.2,407.7 413.4,407.7 413.6,407.7 413.8,407.7 414.1,407.7 414.3,407.7 414.5,407.7 414.7,407.7 414.9,407.7 415.2,407.7 415.4,407.7 415.6,407.7 415.8,407.7 416.0,407.7 416.3,407.7 416.5,407.7 416.7,407.7 416.9,407.7 417.1,407.7 417.4,407.7 417.6,407.7 417.8,407.7 418.0,407.7 418.2,407.7 418.5,407.7 418.7,407.7 418.9,407.7 419.1,407.7 419.4,407.7 419.6,407.7 419.8,407.7 420.0,407.7 420.2,407.7 420.5,407.7 420.7,407.7 420.9,407.7 421.1,407.7 421.3,407.7 421.6,407.7 421.8,407.7 422.0,407.7 422.2,407.7 422.4,407.7 422.7,407.7 422.9,407.7 423.1,407.7 423.3,407.7 423.5,407.7 423.8,407.7 424.0,407.7 424.2,407.7 424.4,407.7 424.6,407.7 424.9,407.7 425.1,407.7 425.3,407.7 425.5,407.7 425.7,407.7 426.0,407.7 426.2,407.7 426.4,407.7 426.6,407.7 426.8,407.7 427.1,407.7 427.3,407.7 427.5,407.7 427.7,407.7 427.9,407.7 428.2,407.7 428.4,407.7 428.6,407.7 428.8,407.7 429.1,407.7 429.3,407.7 429.5,407.7 429.7,407.7 429.9,407.7 430.2,407.7 430.4,407.7 430.6,407.7 430.8,407.7 431.0,407.7 431.3,407.7 431.5,407.7 431.7,407.7 431.9,407.7 432.1,407.7 432.4,407.7 432.6,407.7 432.8,407.7 433.0,407.7 433.2,407.7 433.5,407.7 433.7,407.7 433.9,407.7 434.1,407.7 434.3,407.7 434.6,407.7 434.8,407.7 435.0,407.7 435.2,407.7 435.4,407.7 435.7,407.7 435.9,407.7 436.1,407.7 436.3,407.7 436.5,407.7 436.8,407.7 437.0,407.7 437.2,407.7 437.4,407.7 437.6,407.7 437.9,407.7 438.1,407.7 438.3,407.7 438.5,407.7 438.8,407.7 439.0,407.7 439.2,407.7 439.4,407.7 439.6,407.7 439.9,407.7 440.1,407.7 440.3,407.7 440.5,407.7 440.7,407.7 441.0,407.7 441.2,407.7 441.4,407.7 441.6,407.7 441.8,407.7 442.1,407.7 442.3,407.7 442.5,407.7 442.7,407.7 442.9,407.7 443.2,407.7 443.4,407.7 443.6,407.7 443.8,407.7 444.0,407.7 444.3,407.7 444.5,407.7 444.7,407.7 444.9,407.7 445.1,407.7 445.4,407.7 445.6,407.7 445.8,407.7 446.0,407.7 446.2,407.7 446.5,407.7 446.7,407.7 446.9,407.7 447.1,407.7 447.4,407.7 447.6,407.7 447.8,407.7 448.0,407.7 448.2,407.7 448.5,407.7 448.7,407.7 448.9,407.7 449.1,407.7 449.3,407.7 449.6,407.7 449.8,407.7 450.0,407.7 450.2,407.7 450.4,407.7 450.7,407.7 450.9,407.7 451.1,407.7 451.3,407.7 451.5,407.7 451.8,407.7 452.0,407.7 452.2,407.7 452.4,407.7 452.6,407.7 452.9,407.7 453.1,407.7 453.3,407.7 453.5,407.7 453.7,407.7 454.0,407.7 454.2,407.7 454.4,407.7 454.6,407.7 454.8,407.7 455.1,407.7 455.3,407.7 455.5,407.7 455.7,407.7 455.9,407.7 456.2,407.7 456.4,407.7 456.6,407.7 456.8,407.7 457.1,407.7 457.3,407.7 457.5,407.7 457.7,407.7 457.9,407.7 458.2,407.7 458.4,407.7 458.6,407.7 458.8,407.7 459.0,407.7 459.3,407.7 459.5,407.7 459.7,407.7 459.9,407.7 460.1,407.7 460.4,407.7 460.6,407.7 460.8,407.7 461.0,407.7 461.2,407.7 461.5,407.7 461.7,407.7 461.9,407.7 462.1,407.7 462.3,407.7 462.6,407.7 462.8,407.7 463.0,407.7 463.2,407.7 463.4,407.7 463.7,407.7 463.9,407.7 464.1,407.7 464.3,407.7 464.5,407.7 464.8,407.7 465.0,407.7 465.2,407.7 465.4,407.7 465.6,407.7 465.9,407.7 466.1,407.7 466.3,407.7 466.5,407.7 466.8,407.7 467.0,407.7 467.2,407.7 467.4,407.7 467.6,407.7 467.9,407.7 468.1,407.7 468.3,407.7 468.5,407.7 468.7,407.7 469.0,407.7 469.2,407.7 469.4,407.7 469.6,407.7 469.8,407.7 470.1,407.7 470.3,407.7 470.5,407.7 470.7,407.7 470.9,407.7 471.2,407.7 471.4,407.7 471.6,407.7 471.8,407.7 472.0,407.7 472.3,407.7 472.5,407.7 472.7,407.7 472.9,407.7 473.1,407.7 473.4,407.7 473.6,407.7 473.8,407.7 474.0,407.7 474.2,407.7 474.5,407.7 474.7,407.7 474.9,407.7 475.1,407.7 475.3,407.7 475.6,407.7 475.8,407.7 476.0,407.7 476.2,407.7 476.5,407.7 476.7,407.7 476.9,407.7 477.1,407.7 477.3,407.7 477.6,407.7 477.8,407.7 478.0,407.7 478.2,407.7 478.4,407.7 478.7,407.7 478.9,407.7 479.1,407.7 479.3,407.7 479.5,407.7 479.8,407.7 480.0,407.7 480.2,407.7 480.4,407.7 480.6,407.7 480.9,407.7 481.1,407.7 481.3,407.7 481.5,407.7 481.7,407.7 482.0,407.7 482.2,407.7 482.4,407.7 482.6,407.7 482.8,407.7 483.1,407.7 483.3,407.7 483.5,407.7 483.7,407.7 483.9,407.7 484.2,407.7 484.4,407.7 484.6,407.7 484.8,407.7 485.0,407.7 485.3,407.7 485.5,407.7 485.7,407.7 485.9,407.7 486.2,407.7 486.4,407.7 486.6,407.7 486.8,407.7 487.0,407.7 487.3,407.7 487.5,407.7 487.7,407.7 487.9,407.7 488.1,407.7 488.4,407.7 488.6,407.7 488.8,407.7 489.0,407.7 489.2,407.7 489.5,407.7 489.7,407.7 489.9,407.7 490.1,407.7 490.3,407.7 490.6,407.7 490.8,407.7 491.0,407.7 491.2,407.7 491.4,407.7 491.7,407.7 491.9,407.7 492.1,407.7 492.3,407.7 492.5,407.7 492.8,407.7 493.0,407.7 493.2,407.7 493.4,407.7 493.6,407.7 493.9,407.7 494.1,407.7 494.3,407.7 494.5,407.7 494.8,407.7 495.0,407.7 495.2,407.7 495.4,407.7 495.6,407.7 495.9,407.7 496.1,407.7 496.3,407.7 496.5,407.7 496.7,407.7 497.0,407.7 497.2,407.7 497.4,407.7 497.6,407.7 497.8,407.7 498.1,407.7 498.3,407.7 498.5,407.7 498.7,407.7 498.9,407.7 499.2,407.7 499.4,407.7 499.6,407.7 499.8,407.7 500.0,407.7 500.3,407.7 500.5,407.7 500.7,407.7 500.9,407.7 501.1,407.7 501.4,407.7 501.6,407.7 501.8,407.7 502.0,407.7 502.2,407.7 502.5,407.7 502.7,407.7 502.9,407.7 503.1,407.7 503.3,407.7 503.6,407.7 503.8,407.7 504.0,407.7 504.2,407.7 504.5,407.7 504.7,407.7 504.9,407.7 505.1,407.7 505.3,407.7 505.6,407.7 505.8,407.7 506.0,407.7 506.2,407.7 506.4,407.7 506.7,407.7 506.9,407.7 507.1,407.7 507.3,407.7 507.5,407.7 507.8,407.7 508.0,407.7 508.2,407.7 508.4,407.7 508.6,407.7 508.9,407.7 509.1,407.7 509.3,407.7 509.5,407.7 509.7,407.7 510.0,407.7 510.2,407.7 510.4,407.7 510.6,407.7 510.8,407.7 511.1,407.7 511.3,407.7 511.5,407.7 511.7,407.7 511.9,407.7 512.2,407.7 512.4,407.7 512.6,407.7 512.8,407.7 513.0,407.7 513.3,407.7 513.5,407.7 513.7,407.7 513.9,407.7 514.2,407.7 514.4,407.7 514.6,407.7 514.8,407.7 515.0,407.7 515.3,407.7 515.5,407.7 515.7,407.7 515.9,407.7 516.1,407.7 516.4,407.7 516.6,407.7 516.8,407.7 517.0,407.7 517.2,407.7 517.5,407.7 517.7,407.7 517.9,407.7 518.1,407.7 518.3,407.7 518.6,407.7 518.8,407.7 519.0,407.7 519.2,407.7 519.4,407.7 519.7,407.7 519.9,407.7 520.1,407.7 520.3,407.7 520.5,407.7 520.8,407.7 521.0,407.7 521.2,407.7 521.4,407.7 521.6,407.7 521.9,407.7 522.1,407.7 522.3,407.7 522.5,407.7 522.7,407.7 523.0,407.7 523.2,407.7 523.4,407.7 523.6,407.7 523.9,407.7 524.1,407.7 524.3,407.7 524.5,407.7 524.7,407.7 525.0,407.7 525.2,407.7 525.4,407.7 525.6,407.7 525.8,407.7 526.1,407.7 526.3,407.7 526.5,407.7 526.7,407.7 526.9,407.7 527.2,407.7 527.4,407.7 527.6,407.7 527.8,407.7 528.0,407.7 528.3,407.7 528.5,407.7 528.7,407.7 528.9,407.7 529.1,407.7 529.4,407.7 529.6,407.7 529.8,407.7 530.0,407.7 530.2,407.7 530.5,407.7 530.7,407.7 530.9,407.7 531.1,407.7 531.3,407.7 531.6,407.7 531.8,407.7 532.0,407.7 532.2,407.7 532.4,407.7 532.7,407.7 532.9,407.7 533.1,407.7 533.3,407.7 533.6,407.7 533.8,407.7 534.0,407.7 534.2,407.7 534.4,407.7 534.7,407.7 534.9,407.7 535.1,407.7 535.3,407.7 535.5,407.7 535.8,407.7 536.0,407.7 536.1,407.7" fill="none" stroke="#000000" stroke-width="0.955" stroke-dasharray="6.11 1.53 0.955 1.53" stroke-linejoin="round" marker-start="url(#mCLD)" marker-mid="url(#mCLD)" marker-end="url(#mCLD)"/>
<polyline points="318.3,245.5 318.6,245.8 318.9,246.1 319.2,246.4 319.5,246.6 319.8,246.9 320.1,247.2 320.5,247.5 320.8,247.8 321.1,248.0 321.4,248.3 321.7,248.6 322.0,248.9 322.3,249.1 322.6,249.4 322.9,249.7 323.2,250.0 323.5,250.2 323.8,250.5 324.2,250.8 324.5,251.1 324.8,251.4 325.1,251.6 325.4,251.9 325.7,252.2 326.0,252.5 326.3,252.7 326.6,253.0 326.9,253.3 327.2,253.6 327.6,253.8 327.9,254.1 328.2,254.4 328.5,254.7 328.8,255.0 329.1,255.2 329.4,255.5 329.7,255.8 330.0,256.1 330.3,256.3 330.6,256.6 330.9,256.9 331.3,257.2 331.6,257.4 331.9,257.7 332.2,258.0 332.5,258.3 332.8,258.6 333.1,258.8 333.4,259.1 333.7,259.4 334.0,259.7 334.3,259.9 334.6,260.2 335.0,260.5 335.3,260.8 335.6,261.0 335.9,261.3 336.2,261.6 336.5,261.9 336.8,262.2 337.1,262.4 337.4,262.7 337.7,263.0 338.0,263.3 338.4,263.5 338.7,263.8 339.0,264.1 339.3,264.4 339.6,264.6 339.9,264.9 340.2,265.2 340.5,265.5 340.8,265.8 341.1,266.0 341.4,266.3 341.8,266.6 342.1,266.9 342.5,267.2 342.9,267.4 343.2,267.7 343.6,268.0 343.9,268.3 344.3,268.6 344.6,268.9 345.0,269.2 345.3,269.5 345.7,269.7 346.0,270.0 346.4,270.3 346.7,270.6 347.1,270.9 347.4,271.2 347.8,271.5 348.1,271.8 348.5,272.0 348.8,272.3 349.2,272.6 349.6,272.9 349.9,273.2 350.3,273.5 350.6,273.8 351.0,274.0 351.3,274.3 351.7,274.6 352.0,274.9 352.4,275.2 352.7,275.5 353.1,275.8 353.4,276.1 353.8,276.3 354.1,276.6 354.5,276.9 354.8,277.2 355.2,277.5 355.5,277.8 355.9,278.1 356.3,278.4 356.6,278.6 357.0,278.9 357.3,279.2 357.7,279.5 358.0,279.8 358.4,280.1 358.7,280.4 359.1,280.7 359.4,280.9 359.6,281.3 359.9,281.6 360.2,282.0 360.4,282.3 360.7,282.7 361.0,283.0 361.2,283.4 361.5,283.7 361.8,284.1 362.0,284.4 362.3,284.8 362.6,285.1 362.8,285.5 363.1,285.8 363.4,286.2 363.6,286.5 363.9,286.9 364.1,287.2 364.4,287.5 364.7,287.9 364.9,288.3 365.1,288.7 365.2,289.2 365.4,289.6 365.6,290.1 365.8,290.5 366.0,291.0 366.1,291.4 366.3,291.9 366.5,292.3 366.7,292.8 366.8,293.2 367.0,293.7 367.2,294.1 367.4,294.6 367.5,295.0 367.7,295.5 367.9,295.9 368.1,296.4 368.2,296.8 368.4,297.3 368.6,297.6 368.7,298.0 368.8,298.4 369.0,298.8 369.1,299.2 369.2,299.6 369.4,300.0 369.5,300.4 369.6,300.8 369.7,301.2 369.9,301.6 370.0,302.0 370.1,302.4 370.3,302.7 370.4,303.1 370.5,303.5 370.7,303.9 370.8,304.3 370.9,304.7 371.1,305.1 371.2,305.5 371.3,305.9 371.5,306.3 371.6,306.7 371.7,307.1 371.9,307.5 372.0,307.9 372.1,308.3 372.2,308.8 372.3,309.3 372.4,309.7 372.5,310.2 372.6,310.6 372.7,311.1 372.7,311.6 372.8,312.0 372.9,312.5 373.0,312.9 373.1,313.4 373.2,313.9 373.3,314.3 373.4,314.8 373.5,315.2 373.5,315.7 373.6,316.1 373.7,316.6 373.8,317.1 373.9,317.5 374.0,318.2 374.1,318.8 374.2,319.5 374.2,320.1 374.3,320.8 374.4,321.4 374.5,322.1 374.6,322.7 374.7,323.4 374.8,324.0 374.9,324.7 375.0,325.3 375.0,326.0 375.1,326.6 375.2,327.0 375.2,327.5 375.3,327.9 375.3,328.3 375.3,328.8 375.4,329.2 375.4,329.6 375.5,330.1 375.5,330.5 375.6,330.9 375.6,331.4 375.7,331.8 375.7,332.2 375.7,332.7 375.8,333.1 375.8,333.5 375.9,334.0 375.9,334.4 376.0,334.8 376.0,335.3 376.1,335.7 376.1,336.1 376.1,336.6 376.2,337.0 376.2,337.5 376.3,338.1 376.3,338.6 376.4,339.1 376.4,339.6 376.4,340.2 376.5,340.7 376.5,341.2 376.6,341.8 376.6,342.3 376.7,342.8 376.7,344.5 376.8,346.1 376.8,347.7 376.8,354.2 376.9,359.0 376.9,367.2 377.0,373.6 377.0,377.7 377.1,381.8 377.1,389.9 377.2,399.6 377.2,407.7 377.6,407.7 378.1,407.7 378.5,407.7 379.0,407.7 379.4,407.7 379.8,407.7 380.3,407.7 380.7,407.7 381.2,407.7 381.6,407.7 382.0,407.7 382.5,407.7 382.9,407.7 383.4,407.7 383.8,407.7 384.3,407.7 384.7,407.7 385.1,407.7 385.6,407.7 386.0,407.7 386.5,407.7 386.9,407.7 387.3,407.7 387.8,407.7 388.2,407.7 388.7,407.7 389.1,407.7 389.5,407.7 390.0,407.7 390.4,407.7 390.9,407.7 391.3,407.7 391.7,407.7 392.2,407.7 392.6,407.7 393.1,407.7 393.5,407.7 394.0,407.7 394.4,407.7 394.8,407.7 395.3,407.7 395.7,407.7 396.2,407.7 396.6,407.7 397.0,407.7 397.5,407.7 397.9,407.7 398.4,407.7 398.8,407.7 399.2,407.7 399.7,407.7 400.1,407.7 400.6,407.7 401.0,407.7 401.4,407.7 401.9,407.7 402.3,407.7 402.8,407.7 403.2,407.7 403.7,407.7 404.1,407.7 404.5,407.7 405.0,407.7 405.4,407.7 405.9,407.7 406.3,407.7 406.7,407.7 407.2,407.7 407.6,407.7 408.1,407.7 408.5,407.7 408.9,407.7 409.4,407.7 409.8,407.7 410.3,407.7 410.7,407.7 411.2,407.7 411.6,407.7 412.0,407.7 412.5,407.7 412.9,407.7 413.4,407.7 413.8,407.7 414.2,407.7 414.7,407.7 415.1,407.7 415.6,407.7 416.0,407.7 416.4,407.7 416.9,407.7 417.3,407.7 417.8,407.7 418.2,407.7 418.6,407.7 419.1,407.7 419.5,407.7 420.0,407.7 420.4,407.7 420.9,407.7 421.3,407.7 421.7,407.7 422.2,407.7 422.6,407.7 423.1,407.7 423.5,407.7 423.9,407.7 424.4,407.7 424.8,407.7 425.3,407.7 425.7,407.7 426.1,407.7 426.6,407.7 427.0,407.7 427.5,407.7 427.9,407.7 428.3,407.7 428.8,407.7 429.2,407.7 429.7,407.7 430.1,407.7 430.6,407.7 431.0,407.7 431.4,407.7 431.9,407.7 432.3,407.7 432.8,407.7 433.2,407.7 433.6,407.7 434.1,407.7 434.5,407.7 435.0,407.7 435.4,407.7 435.8,407.7 436.3,407.7 436.7,407.7 437.2,407.7 437.6,407.7 438.0,407.7 438.5,407.7 438.9,407.7 439.4,407.7 439.8,407.7 440.3,407.7 440.7,407.7 441.1,407.7 441.6,407.7 442.0,407.7 442.5,407.7 442.9,407.7 443.3,407.7 443.8,407.7 444.2,407.7 444.7,407.7 445.1,407.7 445.5,407.7 446.0,407.7 446.4,407.7 446.9,407.7 447.3,407.7 447.7,407.7 448.2,407.7 448.6,407.7 449.1,407.7 449.5,407.7 450.0,407.7 450.4,407.7 450.8,407.7 451.3,407.7 451.7,407.7 452.2,407.7 452.6,407.7 453.0,407.7 453.5,407.7 453.9,407.7 454.4,407.7 454.8,407.7 455.2,407.7 455.7,407.7 456.1,407.7 456.6,407.7 457.0,407.7 457.4,407.7 457.9,407.7 458.3,407.7 458.8,407.7 459.2,407.7 459.7,407.7 460.1,407.7 460.5,407.7 461.0,407.7 461.4,407.7 461.9,407.7 462.3,407.7 462.7,407.7 463.2,407.7 463.6,407.7 464.1,407.7 464.5,407.7 464.9,407.7 465.4,407.7 465.8,407.7 466.3,407.7 466.7,407.7 467.1,407.7 467.6,407.7 468.0,407.7 468.5,407.7 468.9,407.7 469.4,407.7 469.8,407.7 470.2,407.7 470.7,407.7 471.1,407.7 471.6,407.7 472.0,407.7 472.4,407.7 472.9,407.7 473.3,407.7 473.8,407.7 474.2,407.7 474.6,407.7 475.1,407.7 475.5,407.7 476.0,407.7 476.4,407.7 476.8,407.7 477.3,407.7 477.7,407.7 478.2,407.7 478.6,407.7 479.1,407.7 479.5,407.7 479.9,407.7 480.4,407.7 480.8,407.7 481.3,407.7 481.7,407.7 482.1,407.7 482.6,407.7 483.0,407.7 483.5,407.7 483.9,407.7 484.3,407.7 484.8,407.7 485.2,407.7 485.7,407.7 486.1,407.7 486.5,407.7 487.0,407.7 487.4,407.7 487.9,407.7 488.3,407.7 488.8,407.7 489.2,407.7 489.6,407.7 490.1,407.7 490.5,407.7 491.0,407.7 491.4,407.7 491.8,407.7 492.3,407.7 492.7,407.7 493.2,407.7 493.6,407.7 494.0,407.7 494.5,407.7 494.9,407.7 495.4,407.7 495.8,407.7 496.2,407.7 496.7,407.7 497.1,407.7 497.6,407.7 498.0,407.7 498.5,407.7 498.9,407.7 499.3,407.7 499.8,407.7 500.2,407.7 500.7,407.7 501.1,407.7 501.5,407.7 502.0,407.7 502.4,407.7 502.9,407.7 503.3,407.7 503.7,407.7 504.2,407.7 504.6,407.7 505.1,407.7 505.5,407.7 505.9,407.7 506.4,407.7 506.8,407.7 507.3,407.7 507.7,407.7 508.2,407.7 508.6,407.7 509.0,407.7 509.5,407.7 509.9,407.7 510.4,407.7 510.8,407.7 511.2,407.7 511.7,407.7 512.1,407.7 512.6,407.7 513.0,407.7 513.4,407.7 513.9,407.7 514.3,407.7 514.8,407.7 515.2,407.7 515.7,407.7 516.1,407.7 516.5,407.7 517.0,407.7 517.4,407.7 517.9,407.7 518.3,407.7 518.7,407.7 519.2,407.7 519.6,407.7 520.1,407.7 520.5,407.7 520.9,407.7 521.4,407.7 521.8,407.7 522.3,407.7 522.7,407.7 523.1,407.7 523.6,407.7 524.0,407.7 524.5,407.7 524.9,407.7 525.4,407.7 525.8,407.7 526.2,407.7 526.7,407.7 527.1,407.7 527.6,407.7 528.0,407.7 528.4,407.7 528.9,407.7 529.3,407.7 529.8,407.7 530.2,407.7 530.6,407.7 531.1,407.7 531.5,407.7 532.0,407.7 532.4,407.7 532.8,407.7 533.3,407.7 533.7,407.7 534.2,407.7 534.6,407.7 535.1,407.7 535.5,407.7 535.9,407.7 536.1,407.7" fill="none" stroke="#ff0000" stroke-width="0.955" stroke-dasharray="0.955 1.576" stroke-linejoin="round" marker-start="url(#mLWC)" marker-mid="url(#mLWC)" marker-end="url(#mLWC)"/>
</g>
<rect x="307.4" y="237.45" width="239.60000000000002" height="178.0" fill="none" stroke="#000" stroke-width="0.5"/>
<path d="M318.25,415.45v2.23" stroke="#000" stroke-width="0.5"/>
<text x="318.25" y="425.58" text-anchor="middle" class="tk">0</text>
<path d="M362.34,415.45v2.23" stroke="#000" stroke-width="0.5"/>
<text x="362.34" y="425.58" text-anchor="middle" class="tk">1000</text>
<path d="M406.43,415.45v2.23" stroke="#000" stroke-width="0.5"/>
<text x="406.43" y="425.58" text-anchor="middle" class="tk">2000</text>
<path d="M450.53,415.45v2.23" stroke="#000" stroke-width="0.5"/>
<text x="450.53" y="425.58" text-anchor="middle" class="tk">3000</text>
<path d="M494.62,415.45v2.23" stroke="#000" stroke-width="0.5"/>
<text x="494.62" y="425.58" text-anchor="middle" class="tk">4000</text>
<path d="M538.71,415.45v2.23" stroke="#000" stroke-width="0.5"/>
<text x="538.71" y="425.58" text-anchor="middle" class="tk">5000</text>
<path d="M307.4,407.71h-2.23" stroke="#000" stroke-width="0.5"/>
<text x="302.67" y="410.16" text-anchor="end" class="tk">0.0</text>
<path d="M307.4,375.27h-2.23" stroke="#000" stroke-width="0.5"/>
<text x="302.67" y="377.72" text-anchor="end" class="tk">0.2</text>
<path d="M307.4,342.83h-2.23" stroke="#000" stroke-width="0.5"/>
<text x="302.67" y="345.28" text-anchor="end" class="tk">0.4</text>
<path d="M307.4,310.39h-2.23" stroke="#000" stroke-width="0.5"/>
<text x="302.67" y="312.84" text-anchor="end" class="tk">0.6</text>
<path d="M307.4,277.95h-2.23" stroke="#000" stroke-width="0.5"/>
<text x="302.67" y="280.40" text-anchor="end" class="tk">0.8</text>
<path d="M307.4,245.51h-2.23" stroke="#000" stroke-width="0.5"/>
<text x="302.67" y="247.96" text-anchor="end" class="tk">1.0</text>
<text x="427.20" y="434.55" text-anchor="middle" class="lb">rank</text>
<text transform="translate(288.30,327.35) rotate(-90)" text-anchor="middle" class="lb">CCDF</text>
<text x="427.20" y="447.25" text-anchor="middle" class="tt">(d) Power</text>
<rect x="495.19999999999993" y="240.64999999999998" width="48.60000000000002" height="61.60000000000002" rx="1.3" fill="#fff" fill-opacity="0.8" stroke="#ccc" stroke-opacity="0.8" stroke-width="0.55"/>
<polyline points="497.6,245.9 504.5,245.9 511.5,245.9" fill="none" stroke="#0000ff" stroke-width="1.1" stroke-dasharray="3.53 1.53" marker-mid="url(#lDegree)"/>
<text x="516.6" y="248.2" class="lg">Degree</text>
<polyline points="497.6,256.0 504.5,256.0 511.5,256.0" fill="none" stroke="#00bfbf" stroke-width="1.1" stroke-dasharray="0.955 1.576" marker-mid="url(#lBC)"/>
<text x="516.6" y="258.3" class="lg">BC</text>
<polyline points="497.6,266.2 504.5,266.2 511.5,266.2" fill="none" stroke="#008000" stroke-width="1.1" marker-mid="url(#lCC)"/>
<text x="516.6" y="268.5" class="lg">CC</text>
<polyline points="497.6,276.3 504.5,276.3 511.5,276.3" fill="none" stroke="#bfbf00" stroke-width="1.1" marker-mid="url(#lLocalC)"/>
<text x="516.6" y="278.6" class="lg">LocalC</text>
<polyline points="497.6,286.4 504.5,286.4 511.5,286.4" fill="none" stroke="#000000" stroke-width="1.1" stroke-dasharray="6.11 1.53 0.955 1.53" marker-mid="url(#lCLD)"/>
<text x="516.6" y="288.7" class="lg">CLD</text>
<polyline points="497.6,296.5 504.5,296.5 511.5,296.5" fill="none" stroke="#ff0000" stroke-width="1.1" stroke-dasharray="0.955 1.576" marker-mid="url(#lLWC)"/>
<text x="516.6" y="298.8" class="lg">LWC</text>
</g></svg></body></html>
